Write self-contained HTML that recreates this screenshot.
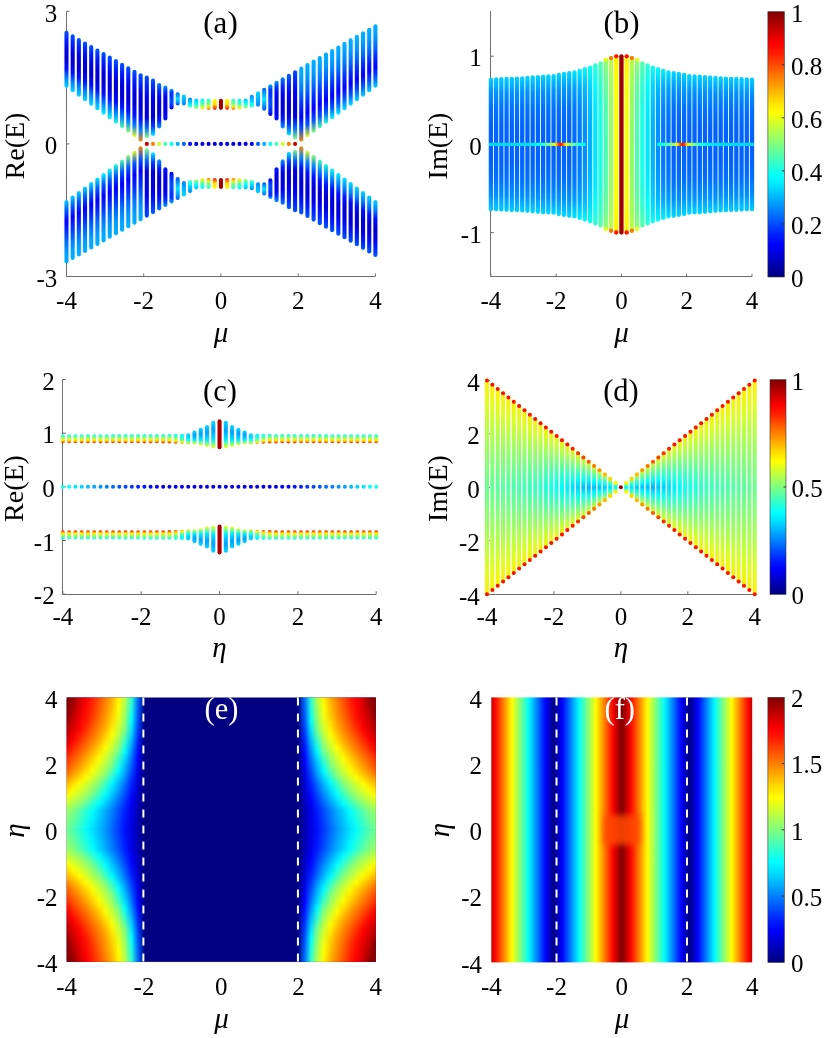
<!DOCTYPE html>
<html><head><meta charset="utf-8"><title>Figure</title><style>html,body{margin:0;padding:0;background:#fff;}svg{display:block;}</style></head><body>
<svg width="825" height="1038" viewBox="0 0 825 1038" font-family="Liberation Serif, serif" fill="#000"><defs><linearGradient id="g1" x2="0" y2="1"><stop offset="0.00" stop-color="#0057ff"/><stop offset="0.17" stop-color="#001bff"/><stop offset="0.33" stop-color="#0000e0"/><stop offset="0.50" stop-color="#0000d4"/><stop offset="0.67" stop-color="#0011ff"/><stop offset="0.83" stop-color="#0085ff"/><stop offset="1.00" stop-color="#00d5ff"/></linearGradient><linearGradient id="g2" x2="0" y2="1"><stop offset="0.00" stop-color="#00d5ff"/><stop offset="0.17" stop-color="#0053ff"/><stop offset="0.33" stop-color="#0001ff"/><stop offset="0.50" stop-color="#0030ff"/><stop offset="0.67" stop-color="#0072ff"/><stop offset="0.83" stop-color="#009eff"/><stop offset="1.00" stop-color="#00b2ff"/></linearGradient><linearGradient id="g3" x2="0" y2="1"><stop offset="0.00" stop-color="#0057ff"/><stop offset="0.17" stop-color="#001bff"/><stop offset="0.33" stop-color="#0000e0"/><stop offset="0.50" stop-color="#0000d4"/><stop offset="0.67" stop-color="#0011ff"/><stop offset="0.83" stop-color="#0085ff"/><stop offset="1.00" stop-color="#00d6ff"/></linearGradient><linearGradient id="g4" x2="0" y2="1"><stop offset="0.00" stop-color="#00d6ff"/><stop offset="0.17" stop-color="#0053ff"/><stop offset="0.33" stop-color="#0001ff"/><stop offset="0.50" stop-color="#0030ff"/><stop offset="0.67" stop-color="#0072ff"/><stop offset="0.83" stop-color="#009eff"/><stop offset="1.00" stop-color="#00b2ff"/></linearGradient><linearGradient id="g5" x2="0" y2="1"><stop offset="0.00" stop-color="#0057ff"/><stop offset="0.17" stop-color="#001bff"/><stop offset="0.33" stop-color="#0000e0"/><stop offset="0.50" stop-color="#0000d4"/><stop offset="0.67" stop-color="#0011ff"/><stop offset="0.83" stop-color="#0085ff"/><stop offset="1.00" stop-color="#00d9ff"/></linearGradient><linearGradient id="g6" x2="0" y2="1"><stop offset="0.00" stop-color="#00d9ff"/><stop offset="0.17" stop-color="#0053ff"/><stop offset="0.33" stop-color="#0001ff"/><stop offset="0.50" stop-color="#0030ff"/><stop offset="0.67" stop-color="#0072ff"/><stop offset="0.83" stop-color="#009eff"/><stop offset="1.00" stop-color="#00b2ff"/></linearGradient><linearGradient id="g7" x2="0" y2="1"><stop offset="0.00" stop-color="#0057ff"/><stop offset="0.17" stop-color="#001bff"/><stop offset="0.33" stop-color="#0000e0"/><stop offset="0.50" stop-color="#0000d4"/><stop offset="0.67" stop-color="#0011ff"/><stop offset="0.83" stop-color="#0085ff"/><stop offset="1.00" stop-color="#00ddff"/></linearGradient><linearGradient id="g8" x2="0" y2="1"><stop offset="0.00" stop-color="#00ddff"/><stop offset="0.17" stop-color="#0053ff"/><stop offset="0.33" stop-color="#0001ff"/><stop offset="0.50" stop-color="#0030ff"/><stop offset="0.67" stop-color="#0072ff"/><stop offset="0.83" stop-color="#009eff"/><stop offset="1.00" stop-color="#00b2ff"/></linearGradient><linearGradient id="g9" x2="0" y2="1"><stop offset="0.00" stop-color="#0057ff"/><stop offset="0.17" stop-color="#001bff"/><stop offset="0.33" stop-color="#0000e0"/><stop offset="0.50" stop-color="#0000d4"/><stop offset="0.67" stop-color="#0011ff"/><stop offset="0.83" stop-color="#0085ff"/><stop offset="1.00" stop-color="#00e2ff"/></linearGradient><linearGradient id="g10" x2="0" y2="1"><stop offset="0.00" stop-color="#00e2ff"/><stop offset="0.17" stop-color="#0053ff"/><stop offset="0.33" stop-color="#0001ff"/><stop offset="0.50" stop-color="#0030ff"/><stop offset="0.67" stop-color="#0072ff"/><stop offset="0.83" stop-color="#009eff"/><stop offset="1.00" stop-color="#00b2ff"/></linearGradient><linearGradient id="g11" x2="0" y2="1"><stop offset="0.00" stop-color="#0057ff"/><stop offset="0.17" stop-color="#001bff"/><stop offset="0.33" stop-color="#0000e0"/><stop offset="0.50" stop-color="#0000d4"/><stop offset="0.67" stop-color="#0011ff"/><stop offset="0.83" stop-color="#0085ff"/><stop offset="1.00" stop-color="#00eaff"/></linearGradient><linearGradient id="g12" x2="0" y2="1"><stop offset="0.00" stop-color="#00eaff"/><stop offset="0.17" stop-color="#0053ff"/><stop offset="0.33" stop-color="#0001ff"/><stop offset="0.50" stop-color="#0030ff"/><stop offset="0.67" stop-color="#0072ff"/><stop offset="0.83" stop-color="#009eff"/><stop offset="1.00" stop-color="#00b2ff"/></linearGradient><linearGradient id="g13" x2="0" y2="1"><stop offset="0.00" stop-color="#0057ff"/><stop offset="0.17" stop-color="#001bff"/><stop offset="0.33" stop-color="#0000e0"/><stop offset="0.50" stop-color="#0000d4"/><stop offset="0.67" stop-color="#0011ff"/><stop offset="0.83" stop-color="#0085ff"/><stop offset="1.00" stop-color="#00f7ff"/></linearGradient><linearGradient id="g14" x2="0" y2="1"><stop offset="0.00" stop-color="#00f7ff"/><stop offset="0.17" stop-color="#0053ff"/><stop offset="0.33" stop-color="#0001ff"/><stop offset="0.50" stop-color="#0030ff"/><stop offset="0.67" stop-color="#0072ff"/><stop offset="0.83" stop-color="#009eff"/><stop offset="1.00" stop-color="#00b2ff"/></linearGradient><linearGradient id="g15" x2="0" y2="1"><stop offset="0.00" stop-color="#0057ff"/><stop offset="0.17" stop-color="#001bff"/><stop offset="0.33" stop-color="#0000e0"/><stop offset="0.50" stop-color="#0000d4"/><stop offset="0.67" stop-color="#0011ff"/><stop offset="0.83" stop-color="#0085ff"/><stop offset="1.00" stop-color="#0bfff4"/></linearGradient><linearGradient id="g16" x2="0" y2="1"><stop offset="0.00" stop-color="#0bfff4"/><stop offset="0.17" stop-color="#0053ff"/><stop offset="0.33" stop-color="#0001ff"/><stop offset="0.50" stop-color="#0030ff"/><stop offset="0.67" stop-color="#0072ff"/><stop offset="0.83" stop-color="#009eff"/><stop offset="1.00" stop-color="#00b2ff"/></linearGradient><linearGradient id="g17" x2="0" y2="1"><stop offset="0.00" stop-color="#0057ff"/><stop offset="0.17" stop-color="#001bff"/><stop offset="0.33" stop-color="#0000e0"/><stop offset="0.50" stop-color="#0000d4"/><stop offset="0.67" stop-color="#0011ff"/><stop offset="0.83" stop-color="#0085ff"/><stop offset="1.00" stop-color="#26ffd9"/></linearGradient><linearGradient id="g18" x2="0" y2="1"><stop offset="0.00" stop-color="#26ffd9"/><stop offset="0.17" stop-color="#0053ff"/><stop offset="0.33" stop-color="#0001ff"/><stop offset="0.50" stop-color="#0030ff"/><stop offset="0.67" stop-color="#0072ff"/><stop offset="0.83" stop-color="#009eff"/><stop offset="1.00" stop-color="#00b2ff"/></linearGradient><linearGradient id="g19" x2="0" y2="1"><stop offset="0.00" stop-color="#0057ff"/><stop offset="0.17" stop-color="#001bff"/><stop offset="0.33" stop-color="#0000e0"/><stop offset="0.50" stop-color="#0000d4"/><stop offset="0.67" stop-color="#0011ff"/><stop offset="0.83" stop-color="#0085ff"/><stop offset="1.00" stop-color="#50ffaf"/></linearGradient><linearGradient id="g20" x2="0" y2="1"><stop offset="0.00" stop-color="#50ffaf"/><stop offset="0.17" stop-color="#0053ff"/><stop offset="0.33" stop-color="#0001ff"/><stop offset="0.50" stop-color="#0030ff"/><stop offset="0.67" stop-color="#0072ff"/><stop offset="0.83" stop-color="#009eff"/><stop offset="1.00" stop-color="#00b2ff"/></linearGradient><linearGradient id="g21" x2="0" y2="1"><stop offset="0.00" stop-color="#0057ff"/><stop offset="0.17" stop-color="#001bff"/><stop offset="0.33" stop-color="#0000e0"/><stop offset="0.50" stop-color="#0000d4"/><stop offset="0.67" stop-color="#0011ff"/><stop offset="0.83" stop-color="#0085ff"/><stop offset="1.00" stop-color="#8eff71"/></linearGradient><linearGradient id="g22" x2="0" y2="1"><stop offset="0.00" stop-color="#8eff71"/><stop offset="0.17" stop-color="#0053ff"/><stop offset="0.33" stop-color="#0001ff"/><stop offset="0.50" stop-color="#0030ff"/><stop offset="0.67" stop-color="#0072ff"/><stop offset="0.83" stop-color="#009eff"/><stop offset="1.00" stop-color="#00b2ff"/></linearGradient><linearGradient id="g23" x2="0" y2="1"><stop offset="0.00" stop-color="#0057ff"/><stop offset="0.17" stop-color="#001bff"/><stop offset="0.33" stop-color="#0000e0"/><stop offset="0.50" stop-color="#0000d4"/><stop offset="0.67" stop-color="#0011ff"/><stop offset="0.83" stop-color="#0085ff"/><stop offset="1.00" stop-color="#eaff15"/></linearGradient><linearGradient id="g24" x2="0" y2="1"><stop offset="0.00" stop-color="#eaff15"/><stop offset="0.17" stop-color="#0053ff"/><stop offset="0.33" stop-color="#0001ff"/><stop offset="0.50" stop-color="#0030ff"/><stop offset="0.67" stop-color="#0072ff"/><stop offset="0.83" stop-color="#009eff"/><stop offset="1.00" stop-color="#00b2ff"/></linearGradient><linearGradient id="g25" x2="0" y2="1"><stop offset="0.00" stop-color="#0057ff"/><stop offset="0.17" stop-color="#001bff"/><stop offset="0.33" stop-color="#0000e0"/><stop offset="0.50" stop-color="#0000d4"/><stop offset="0.67" stop-color="#0011ff"/><stop offset="0.83" stop-color="#0085ff"/><stop offset="1.00" stop-color="#ff8a00"/></linearGradient><linearGradient id="g26" x2="0" y2="1"><stop offset="0.00" stop-color="#ff8a00"/><stop offset="0.17" stop-color="#0053ff"/><stop offset="0.33" stop-color="#0001ff"/><stop offset="0.50" stop-color="#0030ff"/><stop offset="0.67" stop-color="#0072ff"/><stop offset="0.83" stop-color="#009eff"/><stop offset="1.00" stop-color="#00b2ff"/></linearGradient><linearGradient id="g27" x2="0" y2="1"><stop offset="0.00" stop-color="#004dff"/><stop offset="0.17" stop-color="#0022ff"/><stop offset="0.33" stop-color="#0000f8"/><stop offset="0.50" stop-color="#0000db"/><stop offset="0.67" stop-color="#0000db"/><stop offset="0.83" stop-color="#0068ff"/><stop offset="1.00" stop-color="#80ff80"/></linearGradient><linearGradient id="g28" x2="0" y2="1"><stop offset="0.00" stop-color="#80ff80"/><stop offset="0.17" stop-color="#0068ff"/><stop offset="0.33" stop-color="#0000db"/><stop offset="0.50" stop-color="#0000db"/><stop offset="0.67" stop-color="#0000f8"/><stop offset="0.83" stop-color="#0022ff"/><stop offset="1.00" stop-color="#004dff"/></linearGradient><linearGradient id="g29" x2="0" y2="1"><stop offset="0.00" stop-color="#0061ff"/><stop offset="0.17" stop-color="#0025ff"/><stop offset="0.33" stop-color="#0000f8"/><stop offset="0.50" stop-color="#0000db"/><stop offset="0.67" stop-color="#0000db"/><stop offset="0.83" stop-color="#0038ff"/><stop offset="1.00" stop-color="#00f0ff"/></linearGradient><linearGradient id="g30" x2="0" y2="1"><stop offset="0.00" stop-color="#00f0ff"/><stop offset="0.17" stop-color="#0038ff"/><stop offset="0.33" stop-color="#0000db"/><stop offset="0.50" stop-color="#0000db"/><stop offset="0.67" stop-color="#0000f8"/><stop offset="0.83" stop-color="#0025ff"/><stop offset="1.00" stop-color="#0061ff"/></linearGradient><linearGradient id="g31" x2="0" y2="1"><stop offset="0.00" stop-color="#0080ff"/><stop offset="0.17" stop-color="#002bff"/><stop offset="0.33" stop-color="#0000f8"/><stop offset="0.50" stop-color="#0000db"/><stop offset="0.67" stop-color="#0000db"/><stop offset="0.83" stop-color="#001dff"/><stop offset="1.00" stop-color="#009eff"/></linearGradient><linearGradient id="g32" x2="0" y2="1"><stop offset="0.00" stop-color="#009eff"/><stop offset="0.17" stop-color="#001dff"/><stop offset="0.33" stop-color="#0000db"/><stop offset="0.50" stop-color="#0000db"/><stop offset="0.67" stop-color="#0000f8"/><stop offset="0.83" stop-color="#002bff"/><stop offset="1.00" stop-color="#0080ff"/></linearGradient><linearGradient id="g33" x2="0" y2="1"><stop offset="0.00" stop-color="#009eff"/><stop offset="0.17" stop-color="#0030ff"/><stop offset="0.33" stop-color="#0000fd"/><stop offset="0.50" stop-color="#0000e6"/><stop offset="0.67" stop-color="#0000e6"/><stop offset="0.83" stop-color="#0000f6"/><stop offset="1.00" stop-color="#001aff"/></linearGradient><linearGradient id="g34" x2="0" y2="1"><stop offset="0.00" stop-color="#001aff"/><stop offset="0.17" stop-color="#0000f6"/><stop offset="0.33" stop-color="#0000e6"/><stop offset="0.50" stop-color="#0000e6"/><stop offset="0.67" stop-color="#0000fd"/><stop offset="0.83" stop-color="#0030ff"/><stop offset="1.00" stop-color="#009eff"/></linearGradient><linearGradient id="g35" x2="0" y2="1"><stop offset="0.00" stop-color="#00b2ff"/><stop offset="0.17" stop-color="#0033ff"/><stop offset="0.33" stop-color="#0035ff"/><stop offset="0.50" stop-color="#004dff"/><stop offset="0.67" stop-color="#004dff"/><stop offset="0.83" stop-color="#002bff"/><stop offset="1.00" stop-color="#0000e6"/></linearGradient><linearGradient id="g36" x2="0" y2="1"><stop offset="0.00" stop-color="#0000e6"/><stop offset="0.17" stop-color="#002bff"/><stop offset="0.33" stop-color="#004dff"/><stop offset="0.50" stop-color="#004dff"/><stop offset="0.67" stop-color="#0035ff"/><stop offset="0.83" stop-color="#0033ff"/><stop offset="1.00" stop-color="#00b2ff"/></linearGradient><linearGradient id="g37" x2="0" y2="1"><stop offset="0.00" stop-color="#0061ff"/><stop offset="0.17" stop-color="#008dff"/><stop offset="0.33" stop-color="#00b9ff"/><stop offset="0.50" stop-color="#00e5ff"/><stop offset="0.67" stop-color="#00b2ff"/><stop offset="0.83" stop-color="#0080ff"/><stop offset="1.00" stop-color="#004dff"/></linearGradient><linearGradient id="g38" x2="0" y2="1"><stop offset="0.00" stop-color="#004dff"/><stop offset="0.17" stop-color="#0080ff"/><stop offset="0.33" stop-color="#00b2ff"/><stop offset="0.50" stop-color="#00e5ff"/><stop offset="0.67" stop-color="#00b9ff"/><stop offset="0.83" stop-color="#008dff"/><stop offset="1.00" stop-color="#0061ff"/></linearGradient><linearGradient id="g39" x2="0" y2="1"><stop offset="0.00" stop-color="#00dbff"/><stop offset="0.17" stop-color="#00ceff"/><stop offset="0.33" stop-color="#00c0ff"/><stop offset="0.50" stop-color="#00b2ff"/><stop offset="0.67" stop-color="#00a2ff"/><stop offset="0.83" stop-color="#0090ff"/><stop offset="1.00" stop-color="#0080ff"/></linearGradient><linearGradient id="g40" x2="0" y2="1"><stop offset="0.00" stop-color="#0080ff"/><stop offset="0.17" stop-color="#0090ff"/><stop offset="0.33" stop-color="#00a2ff"/><stop offset="0.50" stop-color="#00b2ff"/><stop offset="0.67" stop-color="#00c0ff"/><stop offset="0.83" stop-color="#00ceff"/><stop offset="1.00" stop-color="#00dbff"/></linearGradient><linearGradient id="g41" x2="0" y2="1"><stop offset="0.00" stop-color="#008aff"/><stop offset="0.17" stop-color="#00a2ff"/><stop offset="0.33" stop-color="#00b9ff"/><stop offset="0.50" stop-color="#00d1ff"/><stop offset="0.67" stop-color="#00faff"/><stop offset="0.83" stop-color="#24ffdb"/><stop offset="1.00" stop-color="#4dffb2"/></linearGradient><linearGradient id="g42" x2="0" y2="1"><stop offset="0.00" stop-color="#4dffb2"/><stop offset="0.17" stop-color="#24ffdb"/><stop offset="0.33" stop-color="#00faff"/><stop offset="0.50" stop-color="#00d1ff"/><stop offset="0.67" stop-color="#00b9ff"/><stop offset="0.83" stop-color="#00a2ff"/><stop offset="1.00" stop-color="#008aff"/></linearGradient><linearGradient id="g43" x2="0" y2="1"><stop offset="0.00" stop-color="#00bdff"/><stop offset="0.17" stop-color="#00d4ff"/><stop offset="0.33" stop-color="#00ecff"/><stop offset="0.50" stop-color="#05fffa"/><stop offset="0.67" stop-color="#3fffc0"/><stop offset="0.83" stop-color="#79ff86"/><stop offset="1.00" stop-color="#b2ff4d"/></linearGradient><linearGradient id="g44" x2="0" y2="1"><stop offset="0.00" stop-color="#b2ff4d"/><stop offset="0.17" stop-color="#79ff86"/><stop offset="0.33" stop-color="#3fffc0"/><stop offset="0.50" stop-color="#05fffa"/><stop offset="0.67" stop-color="#00ecff"/><stop offset="0.83" stop-color="#00d4ff"/><stop offset="1.00" stop-color="#00bdff"/></linearGradient><linearGradient id="g45" x2="0" y2="1"><stop offset="0.00" stop-color="#00f0ff"/><stop offset="0.17" stop-color="#0ffff0"/><stop offset="0.33" stop-color="#2effd1"/><stop offset="0.50" stop-color="#4dffb2"/><stop offset="0.67" stop-color="#94ff6b"/><stop offset="0.83" stop-color="#dbff24"/><stop offset="1.00" stop-color="#ffdb00"/></linearGradient><linearGradient id="g46" x2="0" y2="1"><stop offset="0.00" stop-color="#ffdb00"/><stop offset="0.17" stop-color="#dbff24"/><stop offset="0.33" stop-color="#94ff6b"/><stop offset="0.50" stop-color="#4dffb2"/><stop offset="0.67" stop-color="#2effd1"/><stop offset="0.83" stop-color="#0ffff0"/><stop offset="1.00" stop-color="#00f0ff"/></linearGradient><linearGradient id="g47" x2="0" y2="1"><stop offset="0.00" stop-color="#2effd1"/><stop offset="0.17" stop-color="#49ffb6"/><stop offset="0.33" stop-color="#64ff9b"/><stop offset="0.50" stop-color="#80ff7f"/><stop offset="0.67" stop-color="#dfff20"/><stop offset="0.83" stop-color="#ffc000"/><stop offset="1.00" stop-color="#ff6100"/></linearGradient><linearGradient id="g48" x2="0" y2="1"><stop offset="0.00" stop-color="#ff6100"/><stop offset="0.17" stop-color="#ffc000"/><stop offset="0.33" stop-color="#dfff20"/><stop offset="0.50" stop-color="#80ff7f"/><stop offset="0.67" stop-color="#64ff9b"/><stop offset="0.83" stop-color="#49ffb6"/><stop offset="1.00" stop-color="#2effd1"/></linearGradient><linearGradient id="g49" x2="0" y2="1"><stop offset="0.00" stop-color="#faff05"/><stop offset="0.17" stop-color="#fff700"/><stop offset="0.33" stop-color="#ffe900"/><stop offset="0.50" stop-color="#ffdb00"/><stop offset="0.67" stop-color="#ff9700"/><stop offset="0.83" stop-color="#ff5300"/><stop offset="1.00" stop-color="#ff0f00"/></linearGradient><linearGradient id="g50" x2="0" y2="1"><stop offset="0.00" stop-color="#ff0f00"/><stop offset="0.17" stop-color="#ff5300"/><stop offset="0.33" stop-color="#ff9700"/><stop offset="0.50" stop-color="#ffdb00"/><stop offset="0.67" stop-color="#ffe900"/><stop offset="0.83" stop-color="#fff700"/><stop offset="1.00" stop-color="#faff05"/></linearGradient><linearGradient id="g51" x2="0" y2="1"><stop offset="0.00" stop-color="#faff05"/><stop offset="0.17" stop-color="#fff700"/><stop offset="0.33" stop-color="#ffe900"/><stop offset="0.50" stop-color="#ffdb00"/><stop offset="0.67" stop-color="#ff9700"/><stop offset="0.83" stop-color="#ff5300"/><stop offset="1.00" stop-color="#ff0f00"/></linearGradient><linearGradient id="g52" x2="0" y2="1"><stop offset="0.00" stop-color="#ff0f00"/><stop offset="0.17" stop-color="#ff5300"/><stop offset="0.33" stop-color="#ff9700"/><stop offset="0.50" stop-color="#ffdb00"/><stop offset="0.67" stop-color="#ffe900"/><stop offset="0.83" stop-color="#fff700"/><stop offset="1.00" stop-color="#faff05"/></linearGradient><linearGradient id="g53" x2="0" y2="1"><stop offset="0.00" stop-color="#2effd1"/><stop offset="0.17" stop-color="#49ffb6"/><stop offset="0.33" stop-color="#64ff9b"/><stop offset="0.50" stop-color="#7fff80"/><stop offset="0.67" stop-color="#dfff20"/><stop offset="0.83" stop-color="#ffc000"/><stop offset="1.00" stop-color="#ff6100"/></linearGradient><linearGradient id="g54" x2="0" y2="1"><stop offset="0.00" stop-color="#ff6100"/><stop offset="0.17" stop-color="#ffc000"/><stop offset="0.33" stop-color="#dfff20"/><stop offset="0.50" stop-color="#7fff80"/><stop offset="0.67" stop-color="#64ff9b"/><stop offset="0.83" stop-color="#49ffb6"/><stop offset="1.00" stop-color="#2effd1"/></linearGradient><linearGradient id="g55" x2="0" y2="1"><stop offset="0.00" stop-color="#00f0ff"/><stop offset="0.17" stop-color="#0ffff0"/><stop offset="0.33" stop-color="#2effd1"/><stop offset="0.50" stop-color="#4cffb3"/><stop offset="0.67" stop-color="#94ff6b"/><stop offset="0.83" stop-color="#dbff24"/><stop offset="1.00" stop-color="#ffdb00"/></linearGradient><linearGradient id="g56" x2="0" y2="1"><stop offset="0.00" stop-color="#ffdb00"/><stop offset="0.17" stop-color="#dbff24"/><stop offset="0.33" stop-color="#94ff6b"/><stop offset="0.50" stop-color="#4cffb3"/><stop offset="0.67" stop-color="#2effd1"/><stop offset="0.83" stop-color="#0ffff0"/><stop offset="1.00" stop-color="#00f0ff"/></linearGradient><linearGradient id="g57" x2="0" y2="1"><stop offset="0.00" stop-color="#00bdff"/><stop offset="0.17" stop-color="#00d5ff"/><stop offset="0.33" stop-color="#00ecff"/><stop offset="0.50" stop-color="#05fffa"/><stop offset="0.67" stop-color="#3fffc0"/><stop offset="0.83" stop-color="#79ff86"/><stop offset="1.00" stop-color="#b3ff4c"/></linearGradient><linearGradient id="g58" x2="0" y2="1"><stop offset="0.00" stop-color="#b3ff4c"/><stop offset="0.17" stop-color="#79ff86"/><stop offset="0.33" stop-color="#3fffc0"/><stop offset="0.50" stop-color="#05fffa"/><stop offset="0.67" stop-color="#00ecff"/><stop offset="0.83" stop-color="#00d5ff"/><stop offset="1.00" stop-color="#00bdff"/></linearGradient><linearGradient id="g59" x2="0" y2="1"><stop offset="0.00" stop-color="#008aff"/><stop offset="0.17" stop-color="#00a2ff"/><stop offset="0.33" stop-color="#00b9ff"/><stop offset="0.50" stop-color="#00d1ff"/><stop offset="0.67" stop-color="#00faff"/><stop offset="0.83" stop-color="#24ffdb"/><stop offset="1.00" stop-color="#4dffb2"/></linearGradient><linearGradient id="g60" x2="0" y2="1"><stop offset="0.00" stop-color="#4dffb2"/><stop offset="0.17" stop-color="#24ffdb"/><stop offset="0.33" stop-color="#00faff"/><stop offset="0.50" stop-color="#00d1ff"/><stop offset="0.67" stop-color="#00b9ff"/><stop offset="0.83" stop-color="#00a2ff"/><stop offset="1.00" stop-color="#008aff"/></linearGradient><linearGradient id="g61" x2="0" y2="1"><stop offset="0.00" stop-color="#00dbff"/><stop offset="0.17" stop-color="#00ceff"/><stop offset="0.33" stop-color="#00c0ff"/><stop offset="0.50" stop-color="#00b2ff"/><stop offset="0.67" stop-color="#00a2ff"/><stop offset="0.83" stop-color="#0090ff"/><stop offset="1.00" stop-color="#0080ff"/></linearGradient><linearGradient id="g62" x2="0" y2="1"><stop offset="0.00" stop-color="#0080ff"/><stop offset="0.17" stop-color="#0090ff"/><stop offset="0.33" stop-color="#00a2ff"/><stop offset="0.50" stop-color="#00b2ff"/><stop offset="0.67" stop-color="#00c0ff"/><stop offset="0.83" stop-color="#00ceff"/><stop offset="1.00" stop-color="#00dbff"/></linearGradient><linearGradient id="g63" x2="0" y2="1"><stop offset="0.00" stop-color="#0061ff"/><stop offset="0.17" stop-color="#008dff"/><stop offset="0.33" stop-color="#00b9ff"/><stop offset="0.50" stop-color="#00e5ff"/><stop offset="0.67" stop-color="#00b2ff"/><stop offset="0.83" stop-color="#0080ff"/><stop offset="1.00" stop-color="#004dff"/></linearGradient><linearGradient id="g64" x2="0" y2="1"><stop offset="0.00" stop-color="#004dff"/><stop offset="0.17" stop-color="#0080ff"/><stop offset="0.33" stop-color="#00b2ff"/><stop offset="0.50" stop-color="#00e5ff"/><stop offset="0.67" stop-color="#00b9ff"/><stop offset="0.83" stop-color="#008dff"/><stop offset="1.00" stop-color="#0061ff"/></linearGradient><linearGradient id="g65" x2="0" y2="1"><stop offset="0.00" stop-color="#00b2ff"/><stop offset="0.17" stop-color="#0033ff"/><stop offset="0.33" stop-color="#0035ff"/><stop offset="0.50" stop-color="#004cff"/><stop offset="0.67" stop-color="#004cff"/><stop offset="0.83" stop-color="#002aff"/><stop offset="1.00" stop-color="#0000e6"/></linearGradient><linearGradient id="g66" x2="0" y2="1"><stop offset="0.00" stop-color="#0000e6"/><stop offset="0.17" stop-color="#002aff"/><stop offset="0.33" stop-color="#004cff"/><stop offset="0.50" stop-color="#004cff"/><stop offset="0.67" stop-color="#0035ff"/><stop offset="0.83" stop-color="#0033ff"/><stop offset="1.00" stop-color="#00b2ff"/></linearGradient><linearGradient id="g67" x2="0" y2="1"><stop offset="0.00" stop-color="#009eff"/><stop offset="0.17" stop-color="#0030ff"/><stop offset="0.33" stop-color="#0000fd"/><stop offset="0.50" stop-color="#0000e5"/><stop offset="0.67" stop-color="#0000e5"/><stop offset="0.83" stop-color="#0000f7"/><stop offset="1.00" stop-color="#001aff"/></linearGradient><linearGradient id="g68" x2="0" y2="1"><stop offset="0.00" stop-color="#001aff"/><stop offset="0.17" stop-color="#0000f7"/><stop offset="0.33" stop-color="#0000e5"/><stop offset="0.50" stop-color="#0000e5"/><stop offset="0.67" stop-color="#0000fd"/><stop offset="0.83" stop-color="#0030ff"/><stop offset="1.00" stop-color="#009eff"/></linearGradient><linearGradient id="g69" x2="0" y2="1"><stop offset="0.00" stop-color="#007fff"/><stop offset="0.17" stop-color="#002aff"/><stop offset="0.33" stop-color="#0000f8"/><stop offset="0.50" stop-color="#0000db"/><stop offset="0.67" stop-color="#0000db"/><stop offset="0.83" stop-color="#001dff"/><stop offset="1.00" stop-color="#009eff"/></linearGradient><linearGradient id="g70" x2="0" y2="1"><stop offset="0.00" stop-color="#009eff"/><stop offset="0.17" stop-color="#001dff"/><stop offset="0.33" stop-color="#0000db"/><stop offset="0.50" stop-color="#0000db"/><stop offset="0.67" stop-color="#0000f8"/><stop offset="0.83" stop-color="#002bff"/><stop offset="1.00" stop-color="#007fff"/></linearGradient><linearGradient id="g71" x2="0" y2="1"><stop offset="0.00" stop-color="#0061ff"/><stop offset="0.17" stop-color="#0025ff"/><stop offset="0.33" stop-color="#0000f8"/><stop offset="0.50" stop-color="#0000db"/><stop offset="0.67" stop-color="#0000db"/><stop offset="0.83" stop-color="#0038ff"/><stop offset="1.00" stop-color="#00f0ff"/></linearGradient><linearGradient id="g72" x2="0" y2="1"><stop offset="0.00" stop-color="#00f0ff"/><stop offset="0.17" stop-color="#0038ff"/><stop offset="0.33" stop-color="#0000db"/><stop offset="0.50" stop-color="#0000db"/><stop offset="0.67" stop-color="#0000f8"/><stop offset="0.83" stop-color="#0025ff"/><stop offset="1.00" stop-color="#0061ff"/></linearGradient><linearGradient id="g73" x2="0" y2="1"><stop offset="0.00" stop-color="#004dff"/><stop offset="0.17" stop-color="#0022ff"/><stop offset="0.33" stop-color="#0000f8"/><stop offset="0.50" stop-color="#0000db"/><stop offset="0.67" stop-color="#0000db"/><stop offset="0.83" stop-color="#0068ff"/><stop offset="1.00" stop-color="#80ff80"/></linearGradient><linearGradient id="g74" x2="0" y2="1"><stop offset="0.00" stop-color="#80ff80"/><stop offset="0.17" stop-color="#0068ff"/><stop offset="0.33" stop-color="#0000db"/><stop offset="0.50" stop-color="#0000db"/><stop offset="0.67" stop-color="#0000f8"/><stop offset="0.83" stop-color="#0022ff"/><stop offset="1.00" stop-color="#004dff"/></linearGradient><linearGradient id="g75" x2="0" y2="1"><stop offset="0.00" stop-color="#00b2ff"/><stop offset="0.17" stop-color="#009eff"/><stop offset="0.33" stop-color="#0072ff"/><stop offset="0.50" stop-color="#0030ff"/><stop offset="0.67" stop-color="#0001ff"/><stop offset="0.83" stop-color="#0053ff"/><stop offset="1.00" stop-color="#ff8a00"/></linearGradient><linearGradient id="g76" x2="0" y2="1"><stop offset="0.00" stop-color="#ff8a00"/><stop offset="0.17" stop-color="#0085ff"/><stop offset="0.33" stop-color="#0011ff"/><stop offset="0.50" stop-color="#0000d4"/><stop offset="0.67" stop-color="#0000e0"/><stop offset="0.83" stop-color="#001bff"/><stop offset="1.00" stop-color="#0057ff"/></linearGradient><linearGradient id="g77" x2="0" y2="1"><stop offset="0.00" stop-color="#00b2ff"/><stop offset="0.17" stop-color="#009eff"/><stop offset="0.33" stop-color="#0072ff"/><stop offset="0.50" stop-color="#0030ff"/><stop offset="0.67" stop-color="#0001ff"/><stop offset="0.83" stop-color="#0053ff"/><stop offset="1.00" stop-color="#eaff15"/></linearGradient><linearGradient id="g78" x2="0" y2="1"><stop offset="0.00" stop-color="#eaff15"/><stop offset="0.17" stop-color="#0085ff"/><stop offset="0.33" stop-color="#0011ff"/><stop offset="0.50" stop-color="#0000d4"/><stop offset="0.67" stop-color="#0000e0"/><stop offset="0.83" stop-color="#001bff"/><stop offset="1.00" stop-color="#0057ff"/></linearGradient><linearGradient id="g79" x2="0" y2="1"><stop offset="0.00" stop-color="#00b2ff"/><stop offset="0.17" stop-color="#009eff"/><stop offset="0.33" stop-color="#0072ff"/><stop offset="0.50" stop-color="#0030ff"/><stop offset="0.67" stop-color="#0001ff"/><stop offset="0.83" stop-color="#0053ff"/><stop offset="1.00" stop-color="#8eff71"/></linearGradient><linearGradient id="g80" x2="0" y2="1"><stop offset="0.00" stop-color="#8eff71"/><stop offset="0.17" stop-color="#0085ff"/><stop offset="0.33" stop-color="#0011ff"/><stop offset="0.50" stop-color="#0000d4"/><stop offset="0.67" stop-color="#0000e0"/><stop offset="0.83" stop-color="#001bff"/><stop offset="1.00" stop-color="#0057ff"/></linearGradient><linearGradient id="g81" x2="0" y2="1"><stop offset="0.00" stop-color="#00b2ff"/><stop offset="0.17" stop-color="#009eff"/><stop offset="0.33" stop-color="#0072ff"/><stop offset="0.50" stop-color="#0030ff"/><stop offset="0.67" stop-color="#0001ff"/><stop offset="0.83" stop-color="#0053ff"/><stop offset="1.00" stop-color="#50ffaf"/></linearGradient><linearGradient id="g82" x2="0" y2="1"><stop offset="0.00" stop-color="#50ffaf"/><stop offset="0.17" stop-color="#0085ff"/><stop offset="0.33" stop-color="#0011ff"/><stop offset="0.50" stop-color="#0000d4"/><stop offset="0.67" stop-color="#0000e0"/><stop offset="0.83" stop-color="#001bff"/><stop offset="1.00" stop-color="#0057ff"/></linearGradient><linearGradient id="g83" x2="0" y2="1"><stop offset="0.00" stop-color="#00b2ff"/><stop offset="0.17" stop-color="#009eff"/><stop offset="0.33" stop-color="#0072ff"/><stop offset="0.50" stop-color="#0030ff"/><stop offset="0.67" stop-color="#0001ff"/><stop offset="0.83" stop-color="#0053ff"/><stop offset="1.00" stop-color="#26ffd9"/></linearGradient><linearGradient id="g84" x2="0" y2="1"><stop offset="0.00" stop-color="#26ffd9"/><stop offset="0.17" stop-color="#0085ff"/><stop offset="0.33" stop-color="#0011ff"/><stop offset="0.50" stop-color="#0000d4"/><stop offset="0.67" stop-color="#0000e0"/><stop offset="0.83" stop-color="#001bff"/><stop offset="1.00" stop-color="#0057ff"/></linearGradient><linearGradient id="g85" x2="0" y2="1"><stop offset="0.00" stop-color="#00b2ff"/><stop offset="0.17" stop-color="#009eff"/><stop offset="0.33" stop-color="#0072ff"/><stop offset="0.50" stop-color="#0030ff"/><stop offset="0.67" stop-color="#0001ff"/><stop offset="0.83" stop-color="#0053ff"/><stop offset="1.00" stop-color="#0bfff4"/></linearGradient><linearGradient id="g86" x2="0" y2="1"><stop offset="0.00" stop-color="#0bfff4"/><stop offset="0.17" stop-color="#0085ff"/><stop offset="0.33" stop-color="#0011ff"/><stop offset="0.50" stop-color="#0000d4"/><stop offset="0.67" stop-color="#0000e0"/><stop offset="0.83" stop-color="#001bff"/><stop offset="1.00" stop-color="#0057ff"/></linearGradient><linearGradient id="g87" x2="0" y2="1"><stop offset="0.00" stop-color="#00b2ff"/><stop offset="0.17" stop-color="#009eff"/><stop offset="0.33" stop-color="#0072ff"/><stop offset="0.50" stop-color="#0030ff"/><stop offset="0.67" stop-color="#0001ff"/><stop offset="0.83" stop-color="#0053ff"/><stop offset="1.00" stop-color="#00f7ff"/></linearGradient><linearGradient id="g88" x2="0" y2="1"><stop offset="0.00" stop-color="#00f7ff"/><stop offset="0.17" stop-color="#0085ff"/><stop offset="0.33" stop-color="#0011ff"/><stop offset="0.50" stop-color="#0000d4"/><stop offset="0.67" stop-color="#0000e0"/><stop offset="0.83" stop-color="#001bff"/><stop offset="1.00" stop-color="#0057ff"/></linearGradient><linearGradient id="g89" x2="0" y2="1"><stop offset="0.00" stop-color="#00b2ff"/><stop offset="0.17" stop-color="#009eff"/><stop offset="0.33" stop-color="#0072ff"/><stop offset="0.50" stop-color="#0030ff"/><stop offset="0.67" stop-color="#0001ff"/><stop offset="0.83" stop-color="#0053ff"/><stop offset="1.00" stop-color="#00eaff"/></linearGradient><linearGradient id="g90" x2="0" y2="1"><stop offset="0.00" stop-color="#00eaff"/><stop offset="0.17" stop-color="#0085ff"/><stop offset="0.33" stop-color="#0011ff"/><stop offset="0.50" stop-color="#0000d4"/><stop offset="0.67" stop-color="#0000e0"/><stop offset="0.83" stop-color="#001bff"/><stop offset="1.00" stop-color="#0057ff"/></linearGradient><linearGradient id="g91" x2="0" y2="1"><stop offset="0.00" stop-color="#00b2ff"/><stop offset="0.17" stop-color="#009eff"/><stop offset="0.33" stop-color="#0072ff"/><stop offset="0.50" stop-color="#0030ff"/><stop offset="0.67" stop-color="#0001ff"/><stop offset="0.83" stop-color="#0053ff"/><stop offset="1.00" stop-color="#00e2ff"/></linearGradient><linearGradient id="g92" x2="0" y2="1"><stop offset="0.00" stop-color="#00e2ff"/><stop offset="0.17" stop-color="#0085ff"/><stop offset="0.33" stop-color="#0011ff"/><stop offset="0.50" stop-color="#0000d4"/><stop offset="0.67" stop-color="#0000e0"/><stop offset="0.83" stop-color="#001bff"/><stop offset="1.00" stop-color="#0057ff"/></linearGradient><linearGradient id="g93" x2="0" y2="1"><stop offset="0.00" stop-color="#00b2ff"/><stop offset="0.17" stop-color="#009eff"/><stop offset="0.33" stop-color="#0072ff"/><stop offset="0.50" stop-color="#0030ff"/><stop offset="0.67" stop-color="#0001ff"/><stop offset="0.83" stop-color="#0053ff"/><stop offset="1.00" stop-color="#00ddff"/></linearGradient><linearGradient id="g94" x2="0" y2="1"><stop offset="0.00" stop-color="#00ddff"/><stop offset="0.17" stop-color="#0085ff"/><stop offset="0.33" stop-color="#0011ff"/><stop offset="0.50" stop-color="#0000d4"/><stop offset="0.67" stop-color="#0000e0"/><stop offset="0.83" stop-color="#001bff"/><stop offset="1.00" stop-color="#0057ff"/></linearGradient><linearGradient id="g95" x2="0" y2="1"><stop offset="0.00" stop-color="#00b2ff"/><stop offset="0.17" stop-color="#009eff"/><stop offset="0.33" stop-color="#0072ff"/><stop offset="0.50" stop-color="#0030ff"/><stop offset="0.67" stop-color="#0001ff"/><stop offset="0.83" stop-color="#0053ff"/><stop offset="1.00" stop-color="#00d9ff"/></linearGradient><linearGradient id="g96" x2="0" y2="1"><stop offset="0.00" stop-color="#00d9ff"/><stop offset="0.17" stop-color="#0085ff"/><stop offset="0.33" stop-color="#0011ff"/><stop offset="0.50" stop-color="#0000d4"/><stop offset="0.67" stop-color="#0000e0"/><stop offset="0.83" stop-color="#001bff"/><stop offset="1.00" stop-color="#0057ff"/></linearGradient><linearGradient id="g97" x2="0" y2="1"><stop offset="0.00" stop-color="#00b2ff"/><stop offset="0.17" stop-color="#009eff"/><stop offset="0.33" stop-color="#0072ff"/><stop offset="0.50" stop-color="#0030ff"/><stop offset="0.67" stop-color="#0001ff"/><stop offset="0.83" stop-color="#0053ff"/><stop offset="1.00" stop-color="#00d6ff"/></linearGradient><linearGradient id="g98" x2="0" y2="1"><stop offset="0.00" stop-color="#00d6ff"/><stop offset="0.17" stop-color="#0085ff"/><stop offset="0.33" stop-color="#0011ff"/><stop offset="0.50" stop-color="#0000d4"/><stop offset="0.67" stop-color="#0000e0"/><stop offset="0.83" stop-color="#001bff"/><stop offset="1.00" stop-color="#0057ff"/></linearGradient><linearGradient id="g99" x2="0" y2="1"><stop offset="0.00" stop-color="#00b2ff"/><stop offset="0.17" stop-color="#009eff"/><stop offset="0.33" stop-color="#0072ff"/><stop offset="0.50" stop-color="#0030ff"/><stop offset="0.67" stop-color="#0001ff"/><stop offset="0.83" stop-color="#0053ff"/><stop offset="1.00" stop-color="#00d5ff"/></linearGradient><linearGradient id="g100" x2="0" y2="1"><stop offset="0.00" stop-color="#00d5ff"/><stop offset="0.17" stop-color="#0085ff"/><stop offset="0.33" stop-color="#0011ff"/><stop offset="0.50" stop-color="#0000d4"/><stop offset="0.67" stop-color="#0000e0"/><stop offset="0.83" stop-color="#001bff"/><stop offset="1.00" stop-color="#0057ff"/></linearGradient><linearGradient id="g101" x2="0" y2="1"><stop offset="0.00" stop-color="#00d1ff"/><stop offset="0.12" stop-color="#0090ff"/><stop offset="0.25" stop-color="#006fff"/><stop offset="0.38" stop-color="#0063ff"/><stop offset="0.50" stop-color="#0061ff"/><stop offset="0.62" stop-color="#0063ff"/><stop offset="0.75" stop-color="#006fff"/><stop offset="0.88" stop-color="#0090ff"/><stop offset="1.00" stop-color="#00d1ff"/></linearGradient><linearGradient id="g102" x2="0" y2="1"><stop offset="0.00" stop-color="#00d2ff"/><stop offset="0.12" stop-color="#0091ff"/><stop offset="0.25" stop-color="#006fff"/><stop offset="0.38" stop-color="#0063ff"/><stop offset="0.50" stop-color="#0061ff"/><stop offset="0.62" stop-color="#0063ff"/><stop offset="0.75" stop-color="#006fff"/><stop offset="0.88" stop-color="#0091ff"/><stop offset="1.00" stop-color="#00d2ff"/></linearGradient><linearGradient id="g103" x2="0" y2="1"><stop offset="0.00" stop-color="#00d2ff"/><stop offset="0.12" stop-color="#0091ff"/><stop offset="0.25" stop-color="#006fff"/><stop offset="0.38" stop-color="#0063ff"/><stop offset="0.50" stop-color="#0061ff"/><stop offset="0.62" stop-color="#0063ff"/><stop offset="0.75" stop-color="#006fff"/><stop offset="0.88" stop-color="#0091ff"/><stop offset="1.00" stop-color="#00d2ff"/></linearGradient><linearGradient id="g104" x2="0" y2="1"><stop offset="0.00" stop-color="#00d3ff"/><stop offset="0.12" stop-color="#0091ff"/><stop offset="0.25" stop-color="#006fff"/><stop offset="0.38" stop-color="#0063ff"/><stop offset="0.50" stop-color="#0061ff"/><stop offset="0.62" stop-color="#0063ff"/><stop offset="0.75" stop-color="#006fff"/><stop offset="0.88" stop-color="#0091ff"/><stop offset="1.00" stop-color="#00d3ff"/></linearGradient><linearGradient id="g105" x2="0" y2="1"><stop offset="0.00" stop-color="#00d4ff"/><stop offset="0.12" stop-color="#0091ff"/><stop offset="0.25" stop-color="#006fff"/><stop offset="0.38" stop-color="#0063ff"/><stop offset="0.50" stop-color="#0061ff"/><stop offset="0.62" stop-color="#0063ff"/><stop offset="0.75" stop-color="#006fff"/><stop offset="0.88" stop-color="#0091ff"/><stop offset="1.00" stop-color="#00d4ff"/></linearGradient><linearGradient id="g106" x2="0" y2="1"><stop offset="0.00" stop-color="#00d5ff"/><stop offset="0.12" stop-color="#0092ff"/><stop offset="0.25" stop-color="#006fff"/><stop offset="0.38" stop-color="#0063ff"/><stop offset="0.50" stop-color="#0061ff"/><stop offset="0.62" stop-color="#0063ff"/><stop offset="0.75" stop-color="#006fff"/><stop offset="0.88" stop-color="#0092ff"/><stop offset="1.00" stop-color="#00d5ff"/></linearGradient><linearGradient id="g107" x2="0" y2="1"><stop offset="0.00" stop-color="#00d5ff"/><stop offset="0.12" stop-color="#0092ff"/><stop offset="0.25" stop-color="#006fff"/><stop offset="0.38" stop-color="#0063ff"/><stop offset="0.50" stop-color="#0061ff"/><stop offset="0.62" stop-color="#0063ff"/><stop offset="0.75" stop-color="#006fff"/><stop offset="0.88" stop-color="#0092ff"/><stop offset="1.00" stop-color="#00d5ff"/></linearGradient><linearGradient id="g108" x2="0" y2="1"><stop offset="0.00" stop-color="#00d6ff"/><stop offset="0.12" stop-color="#0092ff"/><stop offset="0.25" stop-color="#0070ff"/><stop offset="0.38" stop-color="#0063ff"/><stop offset="0.50" stop-color="#0061ff"/><stop offset="0.62" stop-color="#0063ff"/><stop offset="0.75" stop-color="#0070ff"/><stop offset="0.88" stop-color="#0092ff"/><stop offset="1.00" stop-color="#00d6ff"/></linearGradient><linearGradient id="g109" x2="0" y2="1"><stop offset="0.00" stop-color="#00d7ff"/><stop offset="0.12" stop-color="#0093ff"/><stop offset="0.25" stop-color="#0070ff"/><stop offset="0.38" stop-color="#0063ff"/><stop offset="0.50" stop-color="#0061ff"/><stop offset="0.62" stop-color="#0063ff"/><stop offset="0.75" stop-color="#0070ff"/><stop offset="0.88" stop-color="#0093ff"/><stop offset="1.00" stop-color="#00d7ff"/></linearGradient><linearGradient id="g110" x2="0" y2="1"><stop offset="0.00" stop-color="#00d7ff"/><stop offset="0.12" stop-color="#0093ff"/><stop offset="0.25" stop-color="#0070ff"/><stop offset="0.38" stop-color="#0063ff"/><stop offset="0.50" stop-color="#0061ff"/><stop offset="0.62" stop-color="#0063ff"/><stop offset="0.75" stop-color="#0070ff"/><stop offset="0.88" stop-color="#0093ff"/><stop offset="1.00" stop-color="#00d7ff"/></linearGradient><linearGradient id="g111" x2="0" y2="1"><stop offset="0.00" stop-color="#00d8ff"/><stop offset="0.12" stop-color="#0093ff"/><stop offset="0.25" stop-color="#0070ff"/><stop offset="0.38" stop-color="#0063ff"/><stop offset="0.50" stop-color="#0061ff"/><stop offset="0.62" stop-color="#0063ff"/><stop offset="0.75" stop-color="#0070ff"/><stop offset="0.88" stop-color="#0093ff"/><stop offset="1.00" stop-color="#00d8ff"/></linearGradient><linearGradient id="g112" x2="0" y2="1"><stop offset="0.00" stop-color="#00d9ff"/><stop offset="0.12" stop-color="#0093ff"/><stop offset="0.25" stop-color="#0070ff"/><stop offset="0.38" stop-color="#0063ff"/><stop offset="0.50" stop-color="#0061ff"/><stop offset="0.62" stop-color="#0063ff"/><stop offset="0.75" stop-color="#0070ff"/><stop offset="0.88" stop-color="#0093ff"/><stop offset="1.00" stop-color="#00d9ff"/></linearGradient><linearGradient id="g113" x2="0" y2="1"><stop offset="0.00" stop-color="#00d9ff"/><stop offset="0.12" stop-color="#0094ff"/><stop offset="0.25" stop-color="#0070ff"/><stop offset="0.38" stop-color="#0063ff"/><stop offset="0.50" stop-color="#0061ff"/><stop offset="0.62" stop-color="#0063ff"/><stop offset="0.75" stop-color="#0070ff"/><stop offset="0.88" stop-color="#0094ff"/><stop offset="1.00" stop-color="#00d9ff"/></linearGradient><linearGradient id="g114" x2="0" y2="1"><stop offset="0.00" stop-color="#00daff"/><stop offset="0.12" stop-color="#0094ff"/><stop offset="0.25" stop-color="#0070ff"/><stop offset="0.38" stop-color="#0063ff"/><stop offset="0.50" stop-color="#0061ff"/><stop offset="0.62" stop-color="#0063ff"/><stop offset="0.75" stop-color="#0070ff"/><stop offset="0.88" stop-color="#0094ff"/><stop offset="1.00" stop-color="#00daff"/></linearGradient><linearGradient id="g115" x2="0" y2="1"><stop offset="0.00" stop-color="#00dbff"/><stop offset="0.12" stop-color="#0094ff"/><stop offset="0.25" stop-color="#0070ff"/><stop offset="0.38" stop-color="#0063ff"/><stop offset="0.50" stop-color="#0061ff"/><stop offset="0.62" stop-color="#0063ff"/><stop offset="0.75" stop-color="#0070ff"/><stop offset="0.88" stop-color="#0094ff"/><stop offset="1.00" stop-color="#00dbff"/></linearGradient><linearGradient id="g116" x2="0" y2="1"><stop offset="0.00" stop-color="#00dbff"/><stop offset="0.12" stop-color="#0095ff"/><stop offset="0.25" stop-color="#0070ff"/><stop offset="0.38" stop-color="#0063ff"/><stop offset="0.50" stop-color="#0061ff"/><stop offset="0.62" stop-color="#0063ff"/><stop offset="0.75" stop-color="#0070ff"/><stop offset="0.88" stop-color="#0095ff"/><stop offset="1.00" stop-color="#00dbff"/></linearGradient><linearGradient id="g117" x2="0" y2="1"><stop offset="0.00" stop-color="#00e8ff"/><stop offset="0.12" stop-color="#00a1ff"/><stop offset="0.25" stop-color="#007cff"/><stop offset="0.38" stop-color="#006fff"/><stop offset="0.50" stop-color="#006dff"/><stop offset="0.62" stop-color="#006fff"/><stop offset="0.75" stop-color="#007cff"/><stop offset="0.88" stop-color="#00a1ff"/><stop offset="1.00" stop-color="#00e8ff"/></linearGradient><linearGradient id="g118" x2="0" y2="1"><stop offset="0.00" stop-color="#00f4ff"/><stop offset="0.12" stop-color="#00adff"/><stop offset="0.25" stop-color="#0089ff"/><stop offset="0.38" stop-color="#007bff"/><stop offset="0.50" stop-color="#0079ff"/><stop offset="0.62" stop-color="#007bff"/><stop offset="0.75" stop-color="#0089ff"/><stop offset="0.88" stop-color="#00adff"/><stop offset="1.00" stop-color="#00f4ff"/></linearGradient><linearGradient id="g119" x2="0" y2="1"><stop offset="0.00" stop-color="#02fffd"/><stop offset="0.12" stop-color="#00c0ff"/><stop offset="0.25" stop-color="#009fff"/><stop offset="0.38" stop-color="#0092ff"/><stop offset="0.50" stop-color="#0090ff"/><stop offset="0.62" stop-color="#0092ff"/><stop offset="0.75" stop-color="#009fff"/><stop offset="0.88" stop-color="#00c0ff"/><stop offset="1.00" stop-color="#02fffd"/></linearGradient><linearGradient id="g120" x2="0" y2="1"><stop offset="0.00" stop-color="#0ffff0"/><stop offset="0.12" stop-color="#00d9ff"/><stop offset="0.25" stop-color="#00beff"/><stop offset="0.38" stop-color="#00b4ff"/><stop offset="0.50" stop-color="#00b2ff"/><stop offset="0.62" stop-color="#00b4ff"/><stop offset="0.75" stop-color="#00beff"/><stop offset="0.88" stop-color="#00d9ff"/><stop offset="1.00" stop-color="#0ffff0"/></linearGradient><linearGradient id="g121" x2="0" y2="1"><stop offset="0.00" stop-color="#2effd1"/><stop offset="0.12" stop-color="#05fffa"/><stop offset="0.25" stop-color="#00eeff"/><stop offset="0.38" stop-color="#00e7ff"/><stop offset="0.50" stop-color="#00e6ff"/><stop offset="0.62" stop-color="#00e7ff"/><stop offset="0.75" stop-color="#00eeff"/><stop offset="0.88" stop-color="#05fffa"/><stop offset="1.00" stop-color="#2effd1"/></linearGradient><linearGradient id="g122" x2="0" y2="1"><stop offset="0.00" stop-color="#57ffa8"/><stop offset="0.12" stop-color="#33ffcc"/><stop offset="0.25" stop-color="#21ffde"/><stop offset="0.38" stop-color="#1affe5"/><stop offset="0.50" stop-color="#19ffe6"/><stop offset="0.62" stop-color="#1affe5"/><stop offset="0.75" stop-color="#21ffde"/><stop offset="0.88" stop-color="#33ffcc"/><stop offset="1.00" stop-color="#57ffa8"/></linearGradient><linearGradient id="g123" x2="0" y2="1"><stop offset="0.00" stop-color="#94ff6b"/><stop offset="0.12" stop-color="#6bff94"/><stop offset="0.25" stop-color="#55ffaa"/><stop offset="0.38" stop-color="#4effb1"/><stop offset="0.50" stop-color="#4dffb2"/><stop offset="0.62" stop-color="#4effb1"/><stop offset="0.75" stop-color="#55ffaa"/><stop offset="0.88" stop-color="#6bff94"/><stop offset="1.00" stop-color="#94ff6b"/></linearGradient><linearGradient id="g124" x2="0" y2="1"><stop offset="0.00" stop-color="#bdff42"/><stop offset="0.12" stop-color="#a5ff5a"/><stop offset="0.25" stop-color="#99ff66"/><stop offset="0.38" stop-color="#95ff6a"/><stop offset="0.50" stop-color="#94ff6b"/><stop offset="0.62" stop-color="#95ff6a"/><stop offset="0.75" stop-color="#99ff66"/><stop offset="0.88" stop-color="#a5ff5a"/><stop offset="1.00" stop-color="#bdff42"/></linearGradient><linearGradient id="g125" x2="0" y2="1"><stop offset="0.00" stop-color="#fff000"/><stop offset="0.12" stop-color="#fffb00"/><stop offset="0.25" stop-color="#fcff03"/><stop offset="0.38" stop-color="#faff05"/><stop offset="0.50" stop-color="#faff05"/><stop offset="0.62" stop-color="#faff05"/><stop offset="0.75" stop-color="#fcff03"/><stop offset="0.88" stop-color="#fffb00"/><stop offset="1.00" stop-color="#fff000"/></linearGradient><linearGradient id="g126" x2="0" y2="1"><stop offset="0.00" stop-color="#fff000"/><stop offset="0.12" stop-color="#fffb00"/><stop offset="0.25" stop-color="#fcff03"/><stop offset="0.38" stop-color="#faff05"/><stop offset="0.50" stop-color="#faff05"/><stop offset="0.62" stop-color="#faff05"/><stop offset="0.75" stop-color="#fcff03"/><stop offset="0.88" stop-color="#fffb00"/><stop offset="1.00" stop-color="#fff000"/></linearGradient><linearGradient id="g127" x2="0" y2="1"><stop offset="0.00" stop-color="#bdff42"/><stop offset="0.12" stop-color="#a5ff5a"/><stop offset="0.25" stop-color="#99ff66"/><stop offset="0.38" stop-color="#95ff6a"/><stop offset="0.50" stop-color="#94ff6b"/><stop offset="0.62" stop-color="#95ff6a"/><stop offset="0.75" stop-color="#99ff66"/><stop offset="0.88" stop-color="#a5ff5a"/><stop offset="1.00" stop-color="#bdff42"/></linearGradient><linearGradient id="g128" x2="0" y2="1"><stop offset="0.00" stop-color="#94ff6b"/><stop offset="0.12" stop-color="#6bff94"/><stop offset="0.25" stop-color="#55ffaa"/><stop offset="0.38" stop-color="#4effb1"/><stop offset="0.50" stop-color="#4cffb3"/><stop offset="0.62" stop-color="#4effb1"/><stop offset="0.75" stop-color="#55ffaa"/><stop offset="0.88" stop-color="#6bff94"/><stop offset="1.00" stop-color="#94ff6b"/></linearGradient><linearGradient id="g129" x2="0" y2="1"><stop offset="0.00" stop-color="#57ffa8"/><stop offset="0.12" stop-color="#33ffcc"/><stop offset="0.25" stop-color="#21ffde"/><stop offset="0.38" stop-color="#1affe5"/><stop offset="0.50" stop-color="#1affe5"/><stop offset="0.62" stop-color="#1affe5"/><stop offset="0.75" stop-color="#21ffde"/><stop offset="0.88" stop-color="#33ffcc"/><stop offset="1.00" stop-color="#57ffa8"/></linearGradient><linearGradient id="g130" x2="0" y2="1"><stop offset="0.00" stop-color="#2effd1"/><stop offset="0.12" stop-color="#05fffa"/><stop offset="0.25" stop-color="#00eeff"/><stop offset="0.38" stop-color="#00e7ff"/><stop offset="0.50" stop-color="#00e6ff"/><stop offset="0.62" stop-color="#00e7ff"/><stop offset="0.75" stop-color="#00eeff"/><stop offset="0.88" stop-color="#05fffa"/><stop offset="1.00" stop-color="#2effd1"/></linearGradient><linearGradient id="g131" x2="0" y2="1"><stop offset="0.00" stop-color="#0ffff0"/><stop offset="0.12" stop-color="#00d9ff"/><stop offset="0.25" stop-color="#00beff"/><stop offset="0.38" stop-color="#00b4ff"/><stop offset="0.50" stop-color="#00b2ff"/><stop offset="0.62" stop-color="#00b4ff"/><stop offset="0.75" stop-color="#00beff"/><stop offset="0.88" stop-color="#00d9ff"/><stop offset="1.00" stop-color="#0ffff0"/></linearGradient><linearGradient id="g132" x2="0" y2="1"><stop offset="0.00" stop-color="#02fffd"/><stop offset="0.12" stop-color="#00c0ff"/><stop offset="0.25" stop-color="#009fff"/><stop offset="0.38" stop-color="#0092ff"/><stop offset="0.50" stop-color="#0090ff"/><stop offset="0.62" stop-color="#0092ff"/><stop offset="0.75" stop-color="#009fff"/><stop offset="0.88" stop-color="#00c0ff"/><stop offset="1.00" stop-color="#02fffd"/></linearGradient><linearGradient id="g133" x2="0" y2="1"><stop offset="0.00" stop-color="#00f4ff"/><stop offset="0.12" stop-color="#00adff"/><stop offset="0.25" stop-color="#0089ff"/><stop offset="0.38" stop-color="#007bff"/><stop offset="0.50" stop-color="#0079ff"/><stop offset="0.62" stop-color="#007bff"/><stop offset="0.75" stop-color="#0089ff"/><stop offset="0.88" stop-color="#00adff"/><stop offset="1.00" stop-color="#00f4ff"/></linearGradient><linearGradient id="g134" x2="0" y2="1"><stop offset="0.00" stop-color="#00e8ff"/><stop offset="0.12" stop-color="#00a1ff"/><stop offset="0.25" stop-color="#007cff"/><stop offset="0.38" stop-color="#006fff"/><stop offset="0.50" stop-color="#006dff"/><stop offset="0.62" stop-color="#006fff"/><stop offset="0.75" stop-color="#007cff"/><stop offset="0.88" stop-color="#00a1ff"/><stop offset="1.00" stop-color="#00e8ff"/></linearGradient><linearGradient id="g135" x2="0" y2="1"><stop offset="0.00" stop-color="#00dbff"/><stop offset="0.12" stop-color="#0095ff"/><stop offset="0.25" stop-color="#0070ff"/><stop offset="0.38" stop-color="#0063ff"/><stop offset="0.50" stop-color="#0061ff"/><stop offset="0.62" stop-color="#0063ff"/><stop offset="0.75" stop-color="#0070ff"/><stop offset="0.88" stop-color="#0095ff"/><stop offset="1.00" stop-color="#00dbff"/></linearGradient><linearGradient id="g136" x2="0" y2="1"><stop offset="0.00" stop-color="#00dbff"/><stop offset="0.12" stop-color="#0094ff"/><stop offset="0.25" stop-color="#0070ff"/><stop offset="0.38" stop-color="#0063ff"/><stop offset="0.50" stop-color="#0061ff"/><stop offset="0.62" stop-color="#0063ff"/><stop offset="0.75" stop-color="#0070ff"/><stop offset="0.88" stop-color="#0094ff"/><stop offset="1.00" stop-color="#00dbff"/></linearGradient><linearGradient id="g137" x2="0" y2="1"><stop offset="0.00" stop-color="#00daff"/><stop offset="0.12" stop-color="#0094ff"/><stop offset="0.25" stop-color="#0070ff"/><stop offset="0.38" stop-color="#0063ff"/><stop offset="0.50" stop-color="#0061ff"/><stop offset="0.62" stop-color="#0063ff"/><stop offset="0.75" stop-color="#0070ff"/><stop offset="0.88" stop-color="#0094ff"/><stop offset="1.00" stop-color="#00daff"/></linearGradient><linearGradient id="g138" x2="0" y2="1"><stop offset="0.00" stop-color="#00d9ff"/><stop offset="0.12" stop-color="#0094ff"/><stop offset="0.25" stop-color="#0070ff"/><stop offset="0.38" stop-color="#0063ff"/><stop offset="0.50" stop-color="#0061ff"/><stop offset="0.62" stop-color="#0063ff"/><stop offset="0.75" stop-color="#0070ff"/><stop offset="0.88" stop-color="#0094ff"/><stop offset="1.00" stop-color="#00d9ff"/></linearGradient><linearGradient id="g139" x2="0" y2="1"><stop offset="0.00" stop-color="#00d9ff"/><stop offset="0.12" stop-color="#0093ff"/><stop offset="0.25" stop-color="#0070ff"/><stop offset="0.38" stop-color="#0063ff"/><stop offset="0.50" stop-color="#0061ff"/><stop offset="0.62" stop-color="#0063ff"/><stop offset="0.75" stop-color="#0070ff"/><stop offset="0.88" stop-color="#0093ff"/><stop offset="1.00" stop-color="#00d9ff"/></linearGradient><linearGradient id="g140" x2="0" y2="1"><stop offset="0.00" stop-color="#00d8ff"/><stop offset="0.12" stop-color="#0093ff"/><stop offset="0.25" stop-color="#0070ff"/><stop offset="0.38" stop-color="#0063ff"/><stop offset="0.50" stop-color="#0061ff"/><stop offset="0.62" stop-color="#0063ff"/><stop offset="0.75" stop-color="#0070ff"/><stop offset="0.88" stop-color="#0093ff"/><stop offset="1.00" stop-color="#00d8ff"/></linearGradient><linearGradient id="g141" x2="0" y2="1"><stop offset="0.00" stop-color="#00d7ff"/><stop offset="0.12" stop-color="#0093ff"/><stop offset="0.25" stop-color="#0070ff"/><stop offset="0.38" stop-color="#0063ff"/><stop offset="0.50" stop-color="#0061ff"/><stop offset="0.62" stop-color="#0063ff"/><stop offset="0.75" stop-color="#0070ff"/><stop offset="0.88" stop-color="#0093ff"/><stop offset="1.00" stop-color="#00d7ff"/></linearGradient><linearGradient id="g142" x2="0" y2="1"><stop offset="0.00" stop-color="#00d7ff"/><stop offset="0.12" stop-color="#0093ff"/><stop offset="0.25" stop-color="#0070ff"/><stop offset="0.38" stop-color="#0063ff"/><stop offset="0.50" stop-color="#0061ff"/><stop offset="0.62" stop-color="#0063ff"/><stop offset="0.75" stop-color="#0070ff"/><stop offset="0.88" stop-color="#0093ff"/><stop offset="1.00" stop-color="#00d7ff"/></linearGradient><linearGradient id="g143" x2="0" y2="1"><stop offset="0.00" stop-color="#00d6ff"/><stop offset="0.12" stop-color="#0092ff"/><stop offset="0.25" stop-color="#0070ff"/><stop offset="0.38" stop-color="#0063ff"/><stop offset="0.50" stop-color="#0061ff"/><stop offset="0.62" stop-color="#0063ff"/><stop offset="0.75" stop-color="#0070ff"/><stop offset="0.88" stop-color="#0092ff"/><stop offset="1.00" stop-color="#00d6ff"/></linearGradient><linearGradient id="g144" x2="0" y2="1"><stop offset="0.00" stop-color="#00d5ff"/><stop offset="0.12" stop-color="#0092ff"/><stop offset="0.25" stop-color="#006fff"/><stop offset="0.38" stop-color="#0063ff"/><stop offset="0.50" stop-color="#0061ff"/><stop offset="0.62" stop-color="#0063ff"/><stop offset="0.75" stop-color="#006fff"/><stop offset="0.88" stop-color="#0092ff"/><stop offset="1.00" stop-color="#00d5ff"/></linearGradient><linearGradient id="g145" x2="0" y2="1"><stop offset="0.00" stop-color="#00d5ff"/><stop offset="0.12" stop-color="#0092ff"/><stop offset="0.25" stop-color="#006fff"/><stop offset="0.38" stop-color="#0063ff"/><stop offset="0.50" stop-color="#0061ff"/><stop offset="0.62" stop-color="#0063ff"/><stop offset="0.75" stop-color="#006fff"/><stop offset="0.88" stop-color="#0092ff"/><stop offset="1.00" stop-color="#00d5ff"/></linearGradient><linearGradient id="g146" x2="0" y2="1"><stop offset="0.00" stop-color="#00d4ff"/><stop offset="0.12" stop-color="#0091ff"/><stop offset="0.25" stop-color="#006fff"/><stop offset="0.38" stop-color="#0063ff"/><stop offset="0.50" stop-color="#0061ff"/><stop offset="0.62" stop-color="#0063ff"/><stop offset="0.75" stop-color="#006fff"/><stop offset="0.88" stop-color="#0091ff"/><stop offset="1.00" stop-color="#00d4ff"/></linearGradient><linearGradient id="g147" x2="0" y2="1"><stop offset="0.00" stop-color="#00d3ff"/><stop offset="0.12" stop-color="#0091ff"/><stop offset="0.25" stop-color="#006fff"/><stop offset="0.38" stop-color="#0063ff"/><stop offset="0.50" stop-color="#0061ff"/><stop offset="0.62" stop-color="#0063ff"/><stop offset="0.75" stop-color="#006fff"/><stop offset="0.88" stop-color="#0091ff"/><stop offset="1.00" stop-color="#00d3ff"/></linearGradient><linearGradient id="g148" x2="0" y2="1"><stop offset="0.00" stop-color="#00d2ff"/><stop offset="0.12" stop-color="#0091ff"/><stop offset="0.25" stop-color="#006fff"/><stop offset="0.38" stop-color="#0063ff"/><stop offset="0.50" stop-color="#0061ff"/><stop offset="0.62" stop-color="#0063ff"/><stop offset="0.75" stop-color="#006fff"/><stop offset="0.88" stop-color="#0091ff"/><stop offset="1.00" stop-color="#00d2ff"/></linearGradient><linearGradient id="g149" x2="0" y2="1"><stop offset="0.00" stop-color="#00d2ff"/><stop offset="0.12" stop-color="#0091ff"/><stop offset="0.25" stop-color="#006fff"/><stop offset="0.38" stop-color="#0063ff"/><stop offset="0.50" stop-color="#0061ff"/><stop offset="0.62" stop-color="#0063ff"/><stop offset="0.75" stop-color="#006fff"/><stop offset="0.88" stop-color="#0091ff"/><stop offset="1.00" stop-color="#00d2ff"/></linearGradient><linearGradient id="g150" x2="0" y2="1"><stop offset="0.00" stop-color="#00d1ff"/><stop offset="0.12" stop-color="#0090ff"/><stop offset="0.25" stop-color="#006fff"/><stop offset="0.38" stop-color="#0063ff"/><stop offset="0.50" stop-color="#0061ff"/><stop offset="0.62" stop-color="#0063ff"/><stop offset="0.75" stop-color="#006fff"/><stop offset="0.88" stop-color="#0090ff"/><stop offset="1.00" stop-color="#00d1ff"/></linearGradient><linearGradient id="h151"><stop offset="0.000" stop-color="#00dbff"/><stop offset="0.017" stop-color="#00dbff"/><stop offset="0.033" stop-color="#00dbff"/><stop offset="0.050" stop-color="#00dbff"/><stop offset="0.067" stop-color="#00dbff"/><stop offset="0.083" stop-color="#00dbff"/><stop offset="0.100" stop-color="#00dbff"/><stop offset="0.117" stop-color="#00dbff"/><stop offset="0.133" stop-color="#00dbff"/><stop offset="0.150" stop-color="#00dbff"/><stop offset="0.167" stop-color="#00dbff"/><stop offset="0.183" stop-color="#00dbff"/><stop offset="0.200" stop-color="#00dbff"/><stop offset="0.217" stop-color="#00dbff"/><stop offset="0.233" stop-color="#00dbff"/><stop offset="0.250" stop-color="#00dbff"/><stop offset="0.267" stop-color="#00dbff"/><stop offset="0.283" stop-color="#00dbff"/><stop offset="0.300" stop-color="#00dbff"/><stop offset="0.317" stop-color="#00dcff"/><stop offset="0.333" stop-color="#00dcff"/><stop offset="0.350" stop-color="#00dcff"/><stop offset="0.367" stop-color="#00dcff"/><stop offset="0.383" stop-color="#00ddff"/><stop offset="0.400" stop-color="#00deff"/><stop offset="0.417" stop-color="#00e0ff"/><stop offset="0.433" stop-color="#00e2ff"/><stop offset="0.450" stop-color="#00e6ff"/><stop offset="0.467" stop-color="#00ebff"/><stop offset="0.483" stop-color="#00f1ff"/><stop offset="0.500" stop-color="#00f9ff"/><stop offset="0.517" stop-color="#05fffa"/><stop offset="0.533" stop-color="#13ffec"/><stop offset="0.550" stop-color="#23ffdc"/><stop offset="0.567" stop-color="#36ffc9"/><stop offset="0.583" stop-color="#4bffb4"/><stop offset="0.600" stop-color="#63ff9c"/><stop offset="0.617" stop-color="#7cff83"/><stop offset="0.633" stop-color="#97ff68"/><stop offset="0.650" stop-color="#b3ff4c"/><stop offset="0.667" stop-color="#d6ff29"/><stop offset="0.683" stop-color="#fff200"/><stop offset="0.700" stop-color="#ffa100"/><stop offset="0.717" stop-color="#ff4600"/><stop offset="0.733" stop-color="#ff1100"/><stop offset="0.750" stop-color="#ff2800"/><stop offset="0.767" stop-color="#ff7a00"/><stop offset="0.783" stop-color="#ffd300"/><stop offset="0.800" stop-color="#e9ff16"/><stop offset="0.817" stop-color="#c0ff3f"/><stop offset="0.833" stop-color="#a2ff5d"/><stop offset="0.850" stop-color="#87ff78"/><stop offset="0.867" stop-color="#6eff91"/><stop offset="0.883" stop-color="#55ffaa"/><stop offset="0.900" stop-color="#3effc1"/><stop offset="0.917" stop-color="#2affd5"/><stop offset="0.933" stop-color="#19ffe6"/><stop offset="0.950" stop-color="#0afff5"/><stop offset="0.967" stop-color="#00feff"/><stop offset="0.983" stop-color="#00f4ff"/><stop offset="1.000" stop-color="#00edff"/></linearGradient><linearGradient id="h152"><stop offset="0.000" stop-color="#00edff"/><stop offset="0.017" stop-color="#00f4ff"/><stop offset="0.033" stop-color="#00feff"/><stop offset="0.050" stop-color="#0afff5"/><stop offset="0.067" stop-color="#19ffe6"/><stop offset="0.083" stop-color="#2affd5"/><stop offset="0.100" stop-color="#3effc1"/><stop offset="0.117" stop-color="#55ffaa"/><stop offset="0.133" stop-color="#6eff91"/><stop offset="0.150" stop-color="#87ff78"/><stop offset="0.167" stop-color="#a2ff5d"/><stop offset="0.183" stop-color="#c0ff3f"/><stop offset="0.200" stop-color="#e9ff16"/><stop offset="0.217" stop-color="#ffd300"/><stop offset="0.233" stop-color="#ff7a00"/><stop offset="0.250" stop-color="#ff2800"/><stop offset="0.267" stop-color="#ff1100"/><stop offset="0.283" stop-color="#ff4600"/><stop offset="0.300" stop-color="#ffa100"/><stop offset="0.317" stop-color="#fff200"/><stop offset="0.333" stop-color="#d6ff29"/><stop offset="0.350" stop-color="#b3ff4c"/><stop offset="0.367" stop-color="#97ff68"/><stop offset="0.383" stop-color="#7cff83"/><stop offset="0.400" stop-color="#63ff9c"/><stop offset="0.417" stop-color="#4bffb4"/><stop offset="0.433" stop-color="#36ffc9"/><stop offset="0.450" stop-color="#23ffdc"/><stop offset="0.467" stop-color="#13ffec"/><stop offset="0.483" stop-color="#05fffa"/><stop offset="0.500" stop-color="#00f9ff"/><stop offset="0.517" stop-color="#00f1ff"/><stop offset="0.533" stop-color="#00ebff"/><stop offset="0.550" stop-color="#00e6ff"/><stop offset="0.567" stop-color="#00e2ff"/><stop offset="0.583" stop-color="#00e0ff"/><stop offset="0.600" stop-color="#00deff"/><stop offset="0.617" stop-color="#00ddff"/><stop offset="0.633" stop-color="#00dcff"/><stop offset="0.650" stop-color="#00dcff"/><stop offset="0.667" stop-color="#00dcff"/><stop offset="0.683" stop-color="#00dcff"/><stop offset="0.700" stop-color="#00dbff"/><stop offset="0.717" stop-color="#00dbff"/><stop offset="0.733" stop-color="#00dbff"/><stop offset="0.750" stop-color="#00dbff"/><stop offset="0.767" stop-color="#00dbff"/><stop offset="0.783" stop-color="#00dbff"/><stop offset="0.800" stop-color="#00dbff"/><stop offset="0.817" stop-color="#00dbff"/><stop offset="0.833" stop-color="#00dbff"/><stop offset="0.850" stop-color="#00dbff"/><stop offset="0.867" stop-color="#00dbff"/><stop offset="0.883" stop-color="#00dbff"/><stop offset="0.900" stop-color="#00dbff"/><stop offset="0.917" stop-color="#00dbff"/><stop offset="0.933" stop-color="#00dbff"/><stop offset="0.950" stop-color="#00dbff"/><stop offset="0.967" stop-color="#00dbff"/><stop offset="0.983" stop-color="#00dbff"/><stop offset="1.000" stop-color="#00dbff"/></linearGradient><linearGradient id="g153" x2="0" y2="1"><stop offset="0.00" stop-color="#05fffa"/><stop offset="0.17" stop-color="#3fffc0"/><stop offset="0.33" stop-color="#7aff85"/><stop offset="0.50" stop-color="#c2ff3d"/><stop offset="0.67" stop-color="#fff000"/><stop offset="0.83" stop-color="#ff8a00"/><stop offset="1.00" stop-color="#fa0000"/></linearGradient><linearGradient id="g154" x2="0" y2="1"><stop offset="0.00" stop-color="#fa0000"/><stop offset="0.17" stop-color="#ff8a00"/><stop offset="0.33" stop-color="#fff000"/><stop offset="0.50" stop-color="#c2ff3d"/><stop offset="0.67" stop-color="#7aff85"/><stop offset="0.83" stop-color="#3fffc0"/><stop offset="1.00" stop-color="#05fffa"/></linearGradient><linearGradient id="g155" x2="0" y2="1"><stop offset="0.00" stop-color="#05fffa"/><stop offset="0.17" stop-color="#3fffc0"/><stop offset="0.33" stop-color="#7aff85"/><stop offset="0.50" stop-color="#c2ff3d"/><stop offset="0.67" stop-color="#fff000"/><stop offset="0.83" stop-color="#ff8a00"/><stop offset="1.00" stop-color="#fa0000"/></linearGradient><linearGradient id="g156" x2="0" y2="1"><stop offset="0.00" stop-color="#fa0000"/><stop offset="0.17" stop-color="#ff8a00"/><stop offset="0.33" stop-color="#fff000"/><stop offset="0.50" stop-color="#c2ff3d"/><stop offset="0.67" stop-color="#7aff85"/><stop offset="0.83" stop-color="#3fffc0"/><stop offset="1.00" stop-color="#05fffa"/></linearGradient><linearGradient id="g157" x2="0" y2="1"><stop offset="0.00" stop-color="#05fffa"/><stop offset="0.17" stop-color="#3fffc0"/><stop offset="0.33" stop-color="#7aff85"/><stop offset="0.50" stop-color="#c2ff3d"/><stop offset="0.67" stop-color="#fff000"/><stop offset="0.83" stop-color="#ff8a00"/><stop offset="1.00" stop-color="#fa0000"/></linearGradient><linearGradient id="g158" x2="0" y2="1"><stop offset="0.00" stop-color="#fa0000"/><stop offset="0.17" stop-color="#ff8a00"/><stop offset="0.33" stop-color="#fff000"/><stop offset="0.50" stop-color="#c2ff3d"/><stop offset="0.67" stop-color="#7aff85"/><stop offset="0.83" stop-color="#3fffc0"/><stop offset="1.00" stop-color="#05fffa"/></linearGradient><linearGradient id="g159" x2="0" y2="1"><stop offset="0.00" stop-color="#05fffa"/><stop offset="0.17" stop-color="#3fffc0"/><stop offset="0.33" stop-color="#7aff85"/><stop offset="0.50" stop-color="#c2ff3d"/><stop offset="0.67" stop-color="#fff000"/><stop offset="0.83" stop-color="#ff8a00"/><stop offset="1.00" stop-color="#fa0000"/></linearGradient><linearGradient id="g160" x2="0" y2="1"><stop offset="0.00" stop-color="#fa0000"/><stop offset="0.17" stop-color="#ff8a00"/><stop offset="0.33" stop-color="#fff000"/><stop offset="0.50" stop-color="#c2ff3d"/><stop offset="0.67" stop-color="#7aff85"/><stop offset="0.83" stop-color="#3fffc0"/><stop offset="1.00" stop-color="#05fffa"/></linearGradient><linearGradient id="g161" x2="0" y2="1"><stop offset="0.00" stop-color="#05fffa"/><stop offset="0.17" stop-color="#3fffc0"/><stop offset="0.33" stop-color="#7aff85"/><stop offset="0.50" stop-color="#c2ff3d"/><stop offset="0.67" stop-color="#fff000"/><stop offset="0.83" stop-color="#ff8a00"/><stop offset="1.00" stop-color="#fa0000"/></linearGradient><linearGradient id="g162" x2="0" y2="1"><stop offset="0.00" stop-color="#fa0000"/><stop offset="0.17" stop-color="#ff8a00"/><stop offset="0.33" stop-color="#fff000"/><stop offset="0.50" stop-color="#c2ff3d"/><stop offset="0.67" stop-color="#7aff85"/><stop offset="0.83" stop-color="#3fffc0"/><stop offset="1.00" stop-color="#05fffa"/></linearGradient><linearGradient id="g163" x2="0" y2="1"><stop offset="0.00" stop-color="#05fffa"/><stop offset="0.17" stop-color="#3fffc0"/><stop offset="0.33" stop-color="#7aff85"/><stop offset="0.50" stop-color="#c2ff3d"/><stop offset="0.67" stop-color="#fff000"/><stop offset="0.83" stop-color="#ff8a00"/><stop offset="1.00" stop-color="#fa0000"/></linearGradient><linearGradient id="g164" x2="0" y2="1"><stop offset="0.00" stop-color="#fa0000"/><stop offset="0.17" stop-color="#ff8a00"/><stop offset="0.33" stop-color="#fff000"/><stop offset="0.50" stop-color="#c2ff3d"/><stop offset="0.67" stop-color="#7aff85"/><stop offset="0.83" stop-color="#3fffc0"/><stop offset="1.00" stop-color="#05fffa"/></linearGradient><linearGradient id="g165" x2="0" y2="1"><stop offset="0.00" stop-color="#05fffa"/><stop offset="0.17" stop-color="#3fffc0"/><stop offset="0.33" stop-color="#7aff85"/><stop offset="0.50" stop-color="#c2ff3d"/><stop offset="0.67" stop-color="#fff000"/><stop offset="0.83" stop-color="#ff8a00"/><stop offset="1.00" stop-color="#fa0000"/></linearGradient><linearGradient id="g166" x2="0" y2="1"><stop offset="0.00" stop-color="#fa0000"/><stop offset="0.17" stop-color="#ff8a00"/><stop offset="0.33" stop-color="#fff000"/><stop offset="0.50" stop-color="#c2ff3d"/><stop offset="0.67" stop-color="#7aff85"/><stop offset="0.83" stop-color="#3fffc0"/><stop offset="1.00" stop-color="#05fffa"/></linearGradient><linearGradient id="g167" x2="0" y2="1"><stop offset="0.00" stop-color="#05fffa"/><stop offset="0.17" stop-color="#3fffc0"/><stop offset="0.33" stop-color="#7aff85"/><stop offset="0.50" stop-color="#c2ff3d"/><stop offset="0.67" stop-color="#fff000"/><stop offset="0.83" stop-color="#ff8a00"/><stop offset="1.00" stop-color="#fa0000"/></linearGradient><linearGradient id="g168" x2="0" y2="1"><stop offset="0.00" stop-color="#fa0000"/><stop offset="0.17" stop-color="#ff8a00"/><stop offset="0.33" stop-color="#fff000"/><stop offset="0.50" stop-color="#c2ff3d"/><stop offset="0.67" stop-color="#7aff85"/><stop offset="0.83" stop-color="#3fffc0"/><stop offset="1.00" stop-color="#05fffa"/></linearGradient><linearGradient id="g169" x2="0" y2="1"><stop offset="0.00" stop-color="#05fffa"/><stop offset="0.17" stop-color="#3fffc0"/><stop offset="0.33" stop-color="#7aff85"/><stop offset="0.50" stop-color="#c2ff3d"/><stop offset="0.67" stop-color="#fff000"/><stop offset="0.83" stop-color="#ff8a00"/><stop offset="1.00" stop-color="#fa0000"/></linearGradient><linearGradient id="g170" x2="0" y2="1"><stop offset="0.00" stop-color="#fa0000"/><stop offset="0.17" stop-color="#ff8a00"/><stop offset="0.33" stop-color="#fff000"/><stop offset="0.50" stop-color="#c2ff3d"/><stop offset="0.67" stop-color="#7aff85"/><stop offset="0.83" stop-color="#3fffc0"/><stop offset="1.00" stop-color="#05fffa"/></linearGradient><linearGradient id="g171" x2="0" y2="1"><stop offset="0.00" stop-color="#05fffa"/><stop offset="0.17" stop-color="#3fffc0"/><stop offset="0.33" stop-color="#7aff85"/><stop offset="0.50" stop-color="#c2ff3d"/><stop offset="0.67" stop-color="#fff000"/><stop offset="0.83" stop-color="#ff8a00"/><stop offset="1.00" stop-color="#fa0000"/></linearGradient><linearGradient id="g172" x2="0" y2="1"><stop offset="0.00" stop-color="#fa0000"/><stop offset="0.17" stop-color="#ff8a00"/><stop offset="0.33" stop-color="#fff000"/><stop offset="0.50" stop-color="#c2ff3d"/><stop offset="0.67" stop-color="#7aff85"/><stop offset="0.83" stop-color="#3fffc0"/><stop offset="1.00" stop-color="#05fffa"/></linearGradient><linearGradient id="g173" x2="0" y2="1"><stop offset="0.00" stop-color="#05fffa"/><stop offset="0.17" stop-color="#3fffc0"/><stop offset="0.33" stop-color="#7aff85"/><stop offset="0.50" stop-color="#c2ff3d"/><stop offset="0.67" stop-color="#fff000"/><stop offset="0.83" stop-color="#ff8a00"/><stop offset="1.00" stop-color="#fa0000"/></linearGradient><linearGradient id="g174" x2="0" y2="1"><stop offset="0.00" stop-color="#fa0000"/><stop offset="0.17" stop-color="#ff8a00"/><stop offset="0.33" stop-color="#fff000"/><stop offset="0.50" stop-color="#c2ff3d"/><stop offset="0.67" stop-color="#7aff85"/><stop offset="0.83" stop-color="#3fffc0"/><stop offset="1.00" stop-color="#05fffa"/></linearGradient><linearGradient id="g175" x2="0" y2="1"><stop offset="0.00" stop-color="#05fffa"/><stop offset="0.17" stop-color="#3fffc0"/><stop offset="0.33" stop-color="#7aff85"/><stop offset="0.50" stop-color="#c2ff3d"/><stop offset="0.67" stop-color="#fff000"/><stop offset="0.83" stop-color="#ff8a00"/><stop offset="1.00" stop-color="#fa0000"/></linearGradient><linearGradient id="g176" x2="0" y2="1"><stop offset="0.00" stop-color="#fa0000"/><stop offset="0.17" stop-color="#ff8a00"/><stop offset="0.33" stop-color="#fff000"/><stop offset="0.50" stop-color="#c2ff3d"/><stop offset="0.67" stop-color="#7aff85"/><stop offset="0.83" stop-color="#3fffc0"/><stop offset="1.00" stop-color="#05fffa"/></linearGradient><linearGradient id="g177" x2="0" y2="1"><stop offset="0.00" stop-color="#05fffa"/><stop offset="0.17" stop-color="#3fffc0"/><stop offset="0.33" stop-color="#7aff85"/><stop offset="0.50" stop-color="#c2ff3d"/><stop offset="0.67" stop-color="#fff000"/><stop offset="0.83" stop-color="#ff8a00"/><stop offset="1.00" stop-color="#fa0000"/></linearGradient><linearGradient id="g178" x2="0" y2="1"><stop offset="0.00" stop-color="#fa0000"/><stop offset="0.17" stop-color="#ff8a00"/><stop offset="0.33" stop-color="#fff000"/><stop offset="0.50" stop-color="#c2ff3d"/><stop offset="0.67" stop-color="#7aff85"/><stop offset="0.83" stop-color="#3fffc0"/><stop offset="1.00" stop-color="#05fffa"/></linearGradient><linearGradient id="g179" x2="0" y2="1"><stop offset="0.00" stop-color="#05fffa"/><stop offset="0.17" stop-color="#3fffc0"/><stop offset="0.33" stop-color="#7aff85"/><stop offset="0.50" stop-color="#c2ff3d"/><stop offset="0.67" stop-color="#fff000"/><stop offset="0.83" stop-color="#ff8a00"/><stop offset="1.00" stop-color="#fa0000"/></linearGradient><linearGradient id="g180" x2="0" y2="1"><stop offset="0.00" stop-color="#fa0000"/><stop offset="0.17" stop-color="#ff8a00"/><stop offset="0.33" stop-color="#fff000"/><stop offset="0.50" stop-color="#c2ff3d"/><stop offset="0.67" stop-color="#7aff85"/><stop offset="0.83" stop-color="#3fffc0"/><stop offset="1.00" stop-color="#05fffa"/></linearGradient><linearGradient id="g181" x2="0" y2="1"><stop offset="0.00" stop-color="#05fffa"/><stop offset="0.17" stop-color="#3fffc0"/><stop offset="0.33" stop-color="#7aff85"/><stop offset="0.50" stop-color="#c2ff3d"/><stop offset="0.67" stop-color="#fff000"/><stop offset="0.83" stop-color="#ff8a00"/><stop offset="1.00" stop-color="#fa0000"/></linearGradient><linearGradient id="g182" x2="0" y2="1"><stop offset="0.00" stop-color="#fa0000"/><stop offset="0.17" stop-color="#ff8a00"/><stop offset="0.33" stop-color="#fff000"/><stop offset="0.50" stop-color="#c2ff3d"/><stop offset="0.67" stop-color="#7aff85"/><stop offset="0.83" stop-color="#3fffc0"/><stop offset="1.00" stop-color="#05fffa"/></linearGradient><linearGradient id="g183" x2="0" y2="1"><stop offset="0.00" stop-color="#05fffa"/><stop offset="0.17" stop-color="#3fffc0"/><stop offset="0.33" stop-color="#7aff85"/><stop offset="0.50" stop-color="#c2ff3d"/><stop offset="0.67" stop-color="#fff000"/><stop offset="0.83" stop-color="#ff8a00"/><stop offset="1.00" stop-color="#fa0000"/></linearGradient><linearGradient id="g184" x2="0" y2="1"><stop offset="0.00" stop-color="#fa0000"/><stop offset="0.17" stop-color="#ff8a00"/><stop offset="0.33" stop-color="#fff000"/><stop offset="0.50" stop-color="#c2ff3d"/><stop offset="0.67" stop-color="#7aff85"/><stop offset="0.83" stop-color="#3fffc0"/><stop offset="1.00" stop-color="#05fffa"/></linearGradient><linearGradient id="g185" x2="0" y2="1"><stop offset="0.00" stop-color="#05fffa"/><stop offset="0.17" stop-color="#3fffc0"/><stop offset="0.33" stop-color="#7aff85"/><stop offset="0.50" stop-color="#c2ff3d"/><stop offset="0.67" stop-color="#fff000"/><stop offset="0.83" stop-color="#ff8a00"/><stop offset="1.00" stop-color="#fa0000"/></linearGradient><linearGradient id="g186" x2="0" y2="1"><stop offset="0.00" stop-color="#fa0000"/><stop offset="0.17" stop-color="#ff8a00"/><stop offset="0.33" stop-color="#fff000"/><stop offset="0.50" stop-color="#c2ff3d"/><stop offset="0.67" stop-color="#7aff85"/><stop offset="0.83" stop-color="#3fffc0"/><stop offset="1.00" stop-color="#05fffa"/></linearGradient><linearGradient id="g187" x2="0" y2="1"><stop offset="0.00" stop-color="#05fffa"/><stop offset="0.17" stop-color="#3fffc0"/><stop offset="0.33" stop-color="#7aff85"/><stop offset="0.50" stop-color="#c2ff3d"/><stop offset="0.67" stop-color="#fff000"/><stop offset="0.83" stop-color="#ff8a00"/><stop offset="1.00" stop-color="#fa0000"/></linearGradient><linearGradient id="g188" x2="0" y2="1"><stop offset="0.00" stop-color="#fa0000"/><stop offset="0.17" stop-color="#ff8a00"/><stop offset="0.33" stop-color="#fff000"/><stop offset="0.50" stop-color="#c2ff3d"/><stop offset="0.67" stop-color="#7aff85"/><stop offset="0.83" stop-color="#3fffc0"/><stop offset="1.00" stop-color="#05fffa"/></linearGradient><linearGradient id="g189" x2="0" y2="1"><stop offset="0.00" stop-color="#00feff"/><stop offset="0.17" stop-color="#2bffd4"/><stop offset="0.33" stop-color="#57ffa8"/><stop offset="0.50" stop-color="#99ff66"/><stop offset="0.67" stop-color="#dfff20"/><stop offset="0.83" stop-color="#ffb500"/><stop offset="1.00" stop-color="#ff2500"/></linearGradient><linearGradient id="g190" x2="0" y2="1"><stop offset="0.00" stop-color="#ff2500"/><stop offset="0.17" stop-color="#ffb500"/><stop offset="0.33" stop-color="#dfff20"/><stop offset="0.50" stop-color="#99ff66"/><stop offset="0.67" stop-color="#57ffa8"/><stop offset="0.83" stop-color="#2bffd4"/><stop offset="1.00" stop-color="#00feff"/></linearGradient><linearGradient id="g191" x2="0" y2="1"><stop offset="0.00" stop-color="#00f1ff"/><stop offset="0.17" stop-color="#02fffd"/><stop offset="0.33" stop-color="#12ffed"/><stop offset="0.50" stop-color="#47ffb8"/><stop offset="0.67" stop-color="#81ff7e"/><stop offset="0.83" stop-color="#f3ff0c"/><stop offset="1.00" stop-color="#ff7a00"/></linearGradient><linearGradient id="g192" x2="0" y2="1"><stop offset="0.00" stop-color="#ff7a00"/><stop offset="0.17" stop-color="#f3ff0c"/><stop offset="0.33" stop-color="#81ff7e"/><stop offset="0.50" stop-color="#47ffb8"/><stop offset="0.67" stop-color="#12ffed"/><stop offset="0.83" stop-color="#02fffd"/><stop offset="1.00" stop-color="#00f1ff"/></linearGradient><linearGradient id="g193" x2="0" y2="1"><stop offset="0.00" stop-color="#00e3ff"/><stop offset="0.17" stop-color="#00d8ff"/><stop offset="0.33" stop-color="#00ccff"/><stop offset="0.50" stop-color="#00f4ff"/><stop offset="0.67" stop-color="#24ffdb"/><stop offset="0.83" stop-color="#9dff62"/><stop offset="1.00" stop-color="#ffcf00"/></linearGradient><linearGradient id="g194" x2="0" y2="1"><stop offset="0.00" stop-color="#ffcf00"/><stop offset="0.17" stop-color="#9dff62"/><stop offset="0.33" stop-color="#24ffdb"/><stop offset="0.50" stop-color="#00f4ff"/><stop offset="0.67" stop-color="#00ccff"/><stop offset="0.83" stop-color="#00d8ff"/><stop offset="1.00" stop-color="#00e3ff"/></linearGradient><linearGradient id="g195" x2="0" y2="1"><stop offset="0.00" stop-color="#00dbff"/><stop offset="0.17" stop-color="#00beff"/><stop offset="0.33" stop-color="#00a1ff"/><stop offset="0.50" stop-color="#00c1ff"/><stop offset="0.67" stop-color="#00e8ff"/><stop offset="0.83" stop-color="#67ff98"/><stop offset="1.00" stop-color="#faff05"/></linearGradient><linearGradient id="g196" x2="0" y2="1"><stop offset="0.00" stop-color="#faff05"/><stop offset="0.17" stop-color="#67ff98"/><stop offset="0.33" stop-color="#00e8ff"/><stop offset="0.50" stop-color="#00c1ff"/><stop offset="0.67" stop-color="#00a1ff"/><stop offset="0.83" stop-color="#00beff"/><stop offset="1.00" stop-color="#00dbff"/></linearGradient><linearGradient id="g197" x2="0" y2="1"><stop offset="0.00" stop-color="#00dbff"/><stop offset="0.17" stop-color="#00beff"/><stop offset="0.33" stop-color="#00a1ff"/><stop offset="0.50" stop-color="#00c1ff"/><stop offset="0.67" stop-color="#00e8ff"/><stop offset="0.83" stop-color="#67ff98"/><stop offset="1.00" stop-color="#faff05"/></linearGradient><linearGradient id="g198" x2="0" y2="1"><stop offset="0.00" stop-color="#faff05"/><stop offset="0.17" stop-color="#67ff98"/><stop offset="0.33" stop-color="#00e8ff"/><stop offset="0.50" stop-color="#00c1ff"/><stop offset="0.67" stop-color="#00a1ff"/><stop offset="0.83" stop-color="#00beff"/><stop offset="1.00" stop-color="#00dbff"/></linearGradient><linearGradient id="g199" x2="0" y2="1"><stop offset="0.00" stop-color="#00dbff"/><stop offset="0.17" stop-color="#00beff"/><stop offset="0.33" stop-color="#00a1ff"/><stop offset="0.50" stop-color="#00c1ff"/><stop offset="0.67" stop-color="#00e8ff"/><stop offset="0.83" stop-color="#67ff98"/><stop offset="1.00" stop-color="#faff05"/></linearGradient><linearGradient id="g200" x2="0" y2="1"><stop offset="0.00" stop-color="#faff05"/><stop offset="0.17" stop-color="#67ff98"/><stop offset="0.33" stop-color="#00e8ff"/><stop offset="0.50" stop-color="#00c1ff"/><stop offset="0.67" stop-color="#00a1ff"/><stop offset="0.83" stop-color="#00beff"/><stop offset="1.00" stop-color="#00dbff"/></linearGradient><linearGradient id="g201" x2="0" y2="1"><stop offset="0.00" stop-color="#00dbff"/><stop offset="0.17" stop-color="#00beff"/><stop offset="0.33" stop-color="#00a1ff"/><stop offset="0.50" stop-color="#00c1ff"/><stop offset="0.67" stop-color="#00e8ff"/><stop offset="0.83" stop-color="#67ff98"/><stop offset="1.00" stop-color="#faff05"/></linearGradient><linearGradient id="g202" x2="0" y2="1"><stop offset="0.00" stop-color="#faff05"/><stop offset="0.17" stop-color="#67ff98"/><stop offset="0.33" stop-color="#00e8ff"/><stop offset="0.50" stop-color="#00c1ff"/><stop offset="0.67" stop-color="#00a1ff"/><stop offset="0.83" stop-color="#00beff"/><stop offset="1.00" stop-color="#00dbff"/></linearGradient><linearGradient id="g203" x2="0" y2="1"><stop offset="0.00" stop-color="#00dbff"/><stop offset="0.17" stop-color="#00beff"/><stop offset="0.33" stop-color="#00a1ff"/><stop offset="0.50" stop-color="#00c1ff"/><stop offset="0.67" stop-color="#00e8ff"/><stop offset="0.83" stop-color="#67ff98"/><stop offset="1.00" stop-color="#faff05"/></linearGradient><linearGradient id="g204" x2="0" y2="1"><stop offset="0.00" stop-color="#faff05"/><stop offset="0.17" stop-color="#67ff98"/><stop offset="0.33" stop-color="#00e8ff"/><stop offset="0.50" stop-color="#00c1ff"/><stop offset="0.67" stop-color="#00a1ff"/><stop offset="0.83" stop-color="#00beff"/><stop offset="1.00" stop-color="#00dbff"/></linearGradient><linearGradient id="g205" x2="0" y2="1"><stop offset="0.00" stop-color="#00dbff"/><stop offset="0.17" stop-color="#00beff"/><stop offset="0.33" stop-color="#00a1ff"/><stop offset="0.50" stop-color="#00c1ff"/><stop offset="0.67" stop-color="#00e8ff"/><stop offset="0.83" stop-color="#67ff98"/><stop offset="1.00" stop-color="#faff05"/></linearGradient><linearGradient id="g206" x2="0" y2="1"><stop offset="0.00" stop-color="#faff05"/><stop offset="0.17" stop-color="#67ff98"/><stop offset="0.33" stop-color="#00e8ff"/><stop offset="0.50" stop-color="#00c1ff"/><stop offset="0.67" stop-color="#00a1ff"/><stop offset="0.83" stop-color="#00beff"/><stop offset="1.00" stop-color="#00dbff"/></linearGradient><linearGradient id="g207" x2="0" y2="1"><stop offset="0.00" stop-color="#00dbff"/><stop offset="0.17" stop-color="#00beff"/><stop offset="0.33" stop-color="#00a1ff"/><stop offset="0.50" stop-color="#00c1ff"/><stop offset="0.67" stop-color="#00e8ff"/><stop offset="0.83" stop-color="#67ff98"/><stop offset="1.00" stop-color="#faff05"/></linearGradient><linearGradient id="g208" x2="0" y2="1"><stop offset="0.00" stop-color="#faff05"/><stop offset="0.17" stop-color="#67ff98"/><stop offset="0.33" stop-color="#00e8ff"/><stop offset="0.50" stop-color="#00c1ff"/><stop offset="0.67" stop-color="#00a1ff"/><stop offset="0.83" stop-color="#00beff"/><stop offset="1.00" stop-color="#00dbff"/></linearGradient><linearGradient id="g209" x2="0" y2="1"><stop offset="0.00" stop-color="#00dbff"/><stop offset="0.17" stop-color="#00beff"/><stop offset="0.33" stop-color="#00a1ff"/><stop offset="0.50" stop-color="#00c1ff"/><stop offset="0.67" stop-color="#00e8ff"/><stop offset="0.83" stop-color="#67ff98"/><stop offset="1.00" stop-color="#faff05"/></linearGradient><linearGradient id="g210" x2="0" y2="1"><stop offset="0.00" stop-color="#faff05"/><stop offset="0.17" stop-color="#67ff98"/><stop offset="0.33" stop-color="#00e8ff"/><stop offset="0.50" stop-color="#00c1ff"/><stop offset="0.67" stop-color="#00a1ff"/><stop offset="0.83" stop-color="#00beff"/><stop offset="1.00" stop-color="#00dbff"/></linearGradient><linearGradient id="g211" x2="0" y2="1"><stop offset="0.00" stop-color="#00e3ff"/><stop offset="0.17" stop-color="#00d8ff"/><stop offset="0.33" stop-color="#00ccff"/><stop offset="0.50" stop-color="#00f4ff"/><stop offset="0.67" stop-color="#24ffdb"/><stop offset="0.83" stop-color="#9dff62"/><stop offset="1.00" stop-color="#ffcf00"/></linearGradient><linearGradient id="g212" x2="0" y2="1"><stop offset="0.00" stop-color="#ffcf00"/><stop offset="0.17" stop-color="#9dff62"/><stop offset="0.33" stop-color="#24ffdb"/><stop offset="0.50" stop-color="#00f4ff"/><stop offset="0.67" stop-color="#00ccff"/><stop offset="0.83" stop-color="#00d8ff"/><stop offset="1.00" stop-color="#00e3ff"/></linearGradient><linearGradient id="g213" x2="0" y2="1"><stop offset="0.00" stop-color="#00f1ff"/><stop offset="0.17" stop-color="#02fffd"/><stop offset="0.33" stop-color="#12ffed"/><stop offset="0.50" stop-color="#47ffb8"/><stop offset="0.67" stop-color="#81ff7e"/><stop offset="0.83" stop-color="#f3ff0c"/><stop offset="1.00" stop-color="#ff7a00"/></linearGradient><linearGradient id="g214" x2="0" y2="1"><stop offset="0.00" stop-color="#ff7a00"/><stop offset="0.17" stop-color="#f3ff0c"/><stop offset="0.33" stop-color="#81ff7e"/><stop offset="0.50" stop-color="#47ffb8"/><stop offset="0.67" stop-color="#12ffed"/><stop offset="0.83" stop-color="#02fffd"/><stop offset="1.00" stop-color="#00f1ff"/></linearGradient><linearGradient id="g215" x2="0" y2="1"><stop offset="0.00" stop-color="#00feff"/><stop offset="0.17" stop-color="#2bffd4"/><stop offset="0.33" stop-color="#57ffa8"/><stop offset="0.50" stop-color="#99ff66"/><stop offset="0.67" stop-color="#dfff20"/><stop offset="0.83" stop-color="#ffb500"/><stop offset="1.00" stop-color="#ff2500"/></linearGradient><linearGradient id="g216" x2="0" y2="1"><stop offset="0.00" stop-color="#ff2500"/><stop offset="0.17" stop-color="#ffb500"/><stop offset="0.33" stop-color="#dfff20"/><stop offset="0.50" stop-color="#99ff66"/><stop offset="0.67" stop-color="#57ffa8"/><stop offset="0.83" stop-color="#2bffd4"/><stop offset="1.00" stop-color="#00feff"/></linearGradient><linearGradient id="g217" x2="0" y2="1"><stop offset="0.00" stop-color="#05fffa"/><stop offset="0.17" stop-color="#3fffc0"/><stop offset="0.33" stop-color="#7aff85"/><stop offset="0.50" stop-color="#c2ff3d"/><stop offset="0.67" stop-color="#fff000"/><stop offset="0.83" stop-color="#ff8a00"/><stop offset="1.00" stop-color="#fa0000"/></linearGradient><linearGradient id="g218" x2="0" y2="1"><stop offset="0.00" stop-color="#fa0000"/><stop offset="0.17" stop-color="#ff8a00"/><stop offset="0.33" stop-color="#fff000"/><stop offset="0.50" stop-color="#c2ff3d"/><stop offset="0.67" stop-color="#7aff85"/><stop offset="0.83" stop-color="#3fffc0"/><stop offset="1.00" stop-color="#05fffa"/></linearGradient><linearGradient id="g219" x2="0" y2="1"><stop offset="0.00" stop-color="#05fffa"/><stop offset="0.17" stop-color="#3fffc0"/><stop offset="0.33" stop-color="#7aff85"/><stop offset="0.50" stop-color="#c2ff3d"/><stop offset="0.67" stop-color="#fff000"/><stop offset="0.83" stop-color="#ff8a00"/><stop offset="1.00" stop-color="#fa0000"/></linearGradient><linearGradient id="g220" x2="0" y2="1"><stop offset="0.00" stop-color="#fa0000"/><stop offset="0.17" stop-color="#ff8a00"/><stop offset="0.33" stop-color="#fff000"/><stop offset="0.50" stop-color="#c2ff3d"/><stop offset="0.67" stop-color="#7aff85"/><stop offset="0.83" stop-color="#3fffc0"/><stop offset="1.00" stop-color="#05fffa"/></linearGradient><linearGradient id="g221" x2="0" y2="1"><stop offset="0.00" stop-color="#05fffa"/><stop offset="0.17" stop-color="#3fffc0"/><stop offset="0.33" stop-color="#7aff85"/><stop offset="0.50" stop-color="#c2ff3d"/><stop offset="0.67" stop-color="#fff000"/><stop offset="0.83" stop-color="#ff8a00"/><stop offset="1.00" stop-color="#fa0000"/></linearGradient><linearGradient id="g222" x2="0" y2="1"><stop offset="0.00" stop-color="#fa0000"/><stop offset="0.17" stop-color="#ff8a00"/><stop offset="0.33" stop-color="#fff000"/><stop offset="0.50" stop-color="#c2ff3d"/><stop offset="0.67" stop-color="#7aff85"/><stop offset="0.83" stop-color="#3fffc0"/><stop offset="1.00" stop-color="#05fffa"/></linearGradient><linearGradient id="g223" x2="0" y2="1"><stop offset="0.00" stop-color="#05fffa"/><stop offset="0.17" stop-color="#3fffc0"/><stop offset="0.33" stop-color="#7aff85"/><stop offset="0.50" stop-color="#c2ff3d"/><stop offset="0.67" stop-color="#fff000"/><stop offset="0.83" stop-color="#ff8a00"/><stop offset="1.00" stop-color="#fa0000"/></linearGradient><linearGradient id="g224" x2="0" y2="1"><stop offset="0.00" stop-color="#fa0000"/><stop offset="0.17" stop-color="#ff8a00"/><stop offset="0.33" stop-color="#fff000"/><stop offset="0.50" stop-color="#c2ff3d"/><stop offset="0.67" stop-color="#7aff85"/><stop offset="0.83" stop-color="#3fffc0"/><stop offset="1.00" stop-color="#05fffa"/></linearGradient><linearGradient id="g225" x2="0" y2="1"><stop offset="0.00" stop-color="#05fffa"/><stop offset="0.17" stop-color="#3fffc0"/><stop offset="0.33" stop-color="#7aff85"/><stop offset="0.50" stop-color="#c2ff3d"/><stop offset="0.67" stop-color="#fff000"/><stop offset="0.83" stop-color="#ff8a00"/><stop offset="1.00" stop-color="#fa0000"/></linearGradient><linearGradient id="g226" x2="0" y2="1"><stop offset="0.00" stop-color="#fa0000"/><stop offset="0.17" stop-color="#ff8a00"/><stop offset="0.33" stop-color="#fff000"/><stop offset="0.50" stop-color="#c2ff3d"/><stop offset="0.67" stop-color="#7aff85"/><stop offset="0.83" stop-color="#3fffc0"/><stop offset="1.00" stop-color="#05fffa"/></linearGradient><linearGradient id="g227" x2="0" y2="1"><stop offset="0.00" stop-color="#05fffa"/><stop offset="0.17" stop-color="#3fffc0"/><stop offset="0.33" stop-color="#7aff85"/><stop offset="0.50" stop-color="#c2ff3d"/><stop offset="0.67" stop-color="#fff000"/><stop offset="0.83" stop-color="#ff8a00"/><stop offset="1.00" stop-color="#fa0000"/></linearGradient><linearGradient id="g228" x2="0" y2="1"><stop offset="0.00" stop-color="#fa0000"/><stop offset="0.17" stop-color="#ff8a00"/><stop offset="0.33" stop-color="#fff000"/><stop offset="0.50" stop-color="#c2ff3d"/><stop offset="0.67" stop-color="#7aff85"/><stop offset="0.83" stop-color="#3fffc0"/><stop offset="1.00" stop-color="#05fffa"/></linearGradient><linearGradient id="g229" x2="0" y2="1"><stop offset="0.00" stop-color="#05fffa"/><stop offset="0.17" stop-color="#3fffc0"/><stop offset="0.33" stop-color="#7aff85"/><stop offset="0.50" stop-color="#c2ff3d"/><stop offset="0.67" stop-color="#fff000"/><stop offset="0.83" stop-color="#ff8a00"/><stop offset="1.00" stop-color="#fa0000"/></linearGradient><linearGradient id="g230" x2="0" y2="1"><stop offset="0.00" stop-color="#fa0000"/><stop offset="0.17" stop-color="#ff8a00"/><stop offset="0.33" stop-color="#fff000"/><stop offset="0.50" stop-color="#c2ff3d"/><stop offset="0.67" stop-color="#7aff85"/><stop offset="0.83" stop-color="#3fffc0"/><stop offset="1.00" stop-color="#05fffa"/></linearGradient><linearGradient id="g231" x2="0" y2="1"><stop offset="0.00" stop-color="#05fffa"/><stop offset="0.17" stop-color="#3fffc0"/><stop offset="0.33" stop-color="#7aff85"/><stop offset="0.50" stop-color="#c2ff3d"/><stop offset="0.67" stop-color="#fff000"/><stop offset="0.83" stop-color="#ff8a00"/><stop offset="1.00" stop-color="#fa0000"/></linearGradient><linearGradient id="g232" x2="0" y2="1"><stop offset="0.00" stop-color="#fa0000"/><stop offset="0.17" stop-color="#ff8a00"/><stop offset="0.33" stop-color="#fff000"/><stop offset="0.50" stop-color="#c2ff3d"/><stop offset="0.67" stop-color="#7aff85"/><stop offset="0.83" stop-color="#3fffc0"/><stop offset="1.00" stop-color="#05fffa"/></linearGradient><linearGradient id="g233" x2="0" y2="1"><stop offset="0.00" stop-color="#05fffa"/><stop offset="0.17" stop-color="#3fffc0"/><stop offset="0.33" stop-color="#7aff85"/><stop offset="0.50" stop-color="#c2ff3d"/><stop offset="0.67" stop-color="#fff000"/><stop offset="0.83" stop-color="#ff8a00"/><stop offset="1.00" stop-color="#fa0000"/></linearGradient><linearGradient id="g234" x2="0" y2="1"><stop offset="0.00" stop-color="#fa0000"/><stop offset="0.17" stop-color="#ff8a00"/><stop offset="0.33" stop-color="#fff000"/><stop offset="0.50" stop-color="#c2ff3d"/><stop offset="0.67" stop-color="#7aff85"/><stop offset="0.83" stop-color="#3fffc0"/><stop offset="1.00" stop-color="#05fffa"/></linearGradient><linearGradient id="g235" x2="0" y2="1"><stop offset="0.00" stop-color="#05fffa"/><stop offset="0.17" stop-color="#3fffc0"/><stop offset="0.33" stop-color="#7aff85"/><stop offset="0.50" stop-color="#c2ff3d"/><stop offset="0.67" stop-color="#fff000"/><stop offset="0.83" stop-color="#ff8a00"/><stop offset="1.00" stop-color="#fa0000"/></linearGradient><linearGradient id="g236" x2="0" y2="1"><stop offset="0.00" stop-color="#fa0000"/><stop offset="0.17" stop-color="#ff8a00"/><stop offset="0.33" stop-color="#fff000"/><stop offset="0.50" stop-color="#c2ff3d"/><stop offset="0.67" stop-color="#7aff85"/><stop offset="0.83" stop-color="#3fffc0"/><stop offset="1.00" stop-color="#05fffa"/></linearGradient><linearGradient id="g237" x2="0" y2="1"><stop offset="0.00" stop-color="#05fffa"/><stop offset="0.17" stop-color="#3fffc0"/><stop offset="0.33" stop-color="#7aff85"/><stop offset="0.50" stop-color="#c2ff3d"/><stop offset="0.67" stop-color="#fff000"/><stop offset="0.83" stop-color="#ff8a00"/><stop offset="1.00" stop-color="#fa0000"/></linearGradient><linearGradient id="g238" x2="0" y2="1"><stop offset="0.00" stop-color="#fa0000"/><stop offset="0.17" stop-color="#ff8a00"/><stop offset="0.33" stop-color="#fff000"/><stop offset="0.50" stop-color="#c2ff3d"/><stop offset="0.67" stop-color="#7aff85"/><stop offset="0.83" stop-color="#3fffc0"/><stop offset="1.00" stop-color="#05fffa"/></linearGradient><linearGradient id="g239" x2="0" y2="1"><stop offset="0.00" stop-color="#05fffa"/><stop offset="0.17" stop-color="#3fffc0"/><stop offset="0.33" stop-color="#7aff85"/><stop offset="0.50" stop-color="#c2ff3d"/><stop offset="0.67" stop-color="#fff000"/><stop offset="0.83" stop-color="#ff8a00"/><stop offset="1.00" stop-color="#fa0000"/></linearGradient><linearGradient id="g240" x2="0" y2="1"><stop offset="0.00" stop-color="#fa0000"/><stop offset="0.17" stop-color="#ff8a00"/><stop offset="0.33" stop-color="#fff000"/><stop offset="0.50" stop-color="#c2ff3d"/><stop offset="0.67" stop-color="#7aff85"/><stop offset="0.83" stop-color="#3fffc0"/><stop offset="1.00" stop-color="#05fffa"/></linearGradient><linearGradient id="g241" x2="0" y2="1"><stop offset="0.00" stop-color="#05fffa"/><stop offset="0.17" stop-color="#3fffc0"/><stop offset="0.33" stop-color="#7aff85"/><stop offset="0.50" stop-color="#c2ff3d"/><stop offset="0.67" stop-color="#fff000"/><stop offset="0.83" stop-color="#ff8a00"/><stop offset="1.00" stop-color="#fa0000"/></linearGradient><linearGradient id="g242" x2="0" y2="1"><stop offset="0.00" stop-color="#fa0000"/><stop offset="0.17" stop-color="#ff8a00"/><stop offset="0.33" stop-color="#fff000"/><stop offset="0.50" stop-color="#c2ff3d"/><stop offset="0.67" stop-color="#7aff85"/><stop offset="0.83" stop-color="#3fffc0"/><stop offset="1.00" stop-color="#05fffa"/></linearGradient><linearGradient id="g243" x2="0" y2="1"><stop offset="0.00" stop-color="#05fffa"/><stop offset="0.17" stop-color="#3fffc0"/><stop offset="0.33" stop-color="#7aff85"/><stop offset="0.50" stop-color="#c2ff3d"/><stop offset="0.67" stop-color="#fff000"/><stop offset="0.83" stop-color="#ff8a00"/><stop offset="1.00" stop-color="#fa0000"/></linearGradient><linearGradient id="g244" x2="0" y2="1"><stop offset="0.00" stop-color="#fa0000"/><stop offset="0.17" stop-color="#ff8a00"/><stop offset="0.33" stop-color="#fff000"/><stop offset="0.50" stop-color="#c2ff3d"/><stop offset="0.67" stop-color="#7aff85"/><stop offset="0.83" stop-color="#3fffc0"/><stop offset="1.00" stop-color="#05fffa"/></linearGradient><linearGradient id="g245" x2="0" y2="1"><stop offset="0.00" stop-color="#05fffa"/><stop offset="0.17" stop-color="#3fffc0"/><stop offset="0.33" stop-color="#7aff85"/><stop offset="0.50" stop-color="#c2ff3d"/><stop offset="0.67" stop-color="#fff000"/><stop offset="0.83" stop-color="#ff8a00"/><stop offset="1.00" stop-color="#fa0000"/></linearGradient><linearGradient id="g246" x2="0" y2="1"><stop offset="0.00" stop-color="#fa0000"/><stop offset="0.17" stop-color="#ff8a00"/><stop offset="0.33" stop-color="#fff000"/><stop offset="0.50" stop-color="#c2ff3d"/><stop offset="0.67" stop-color="#7aff85"/><stop offset="0.83" stop-color="#3fffc0"/><stop offset="1.00" stop-color="#05fffa"/></linearGradient><linearGradient id="g247" x2="0" y2="1"><stop offset="0.00" stop-color="#05fffa"/><stop offset="0.17" stop-color="#3fffc0"/><stop offset="0.33" stop-color="#7aff85"/><stop offset="0.50" stop-color="#c2ff3d"/><stop offset="0.67" stop-color="#fff000"/><stop offset="0.83" stop-color="#ff8a00"/><stop offset="1.00" stop-color="#fa0000"/></linearGradient><linearGradient id="g248" x2="0" y2="1"><stop offset="0.00" stop-color="#fa0000"/><stop offset="0.17" stop-color="#ff8a00"/><stop offset="0.33" stop-color="#fff000"/><stop offset="0.50" stop-color="#c2ff3d"/><stop offset="0.67" stop-color="#7aff85"/><stop offset="0.83" stop-color="#3fffc0"/><stop offset="1.00" stop-color="#05fffa"/></linearGradient><linearGradient id="g249" x2="0" y2="1"><stop offset="0.00" stop-color="#05fffa"/><stop offset="0.17" stop-color="#3fffc0"/><stop offset="0.33" stop-color="#7aff85"/><stop offset="0.50" stop-color="#c2ff3d"/><stop offset="0.67" stop-color="#fff000"/><stop offset="0.83" stop-color="#ff8a00"/><stop offset="1.00" stop-color="#fa0000"/></linearGradient><linearGradient id="g250" x2="0" y2="1"><stop offset="0.00" stop-color="#fa0000"/><stop offset="0.17" stop-color="#ff8a00"/><stop offset="0.33" stop-color="#fff000"/><stop offset="0.50" stop-color="#c2ff3d"/><stop offset="0.67" stop-color="#7aff85"/><stop offset="0.83" stop-color="#3fffc0"/><stop offset="1.00" stop-color="#05fffa"/></linearGradient><linearGradient id="g251" x2="0" y2="1"><stop offset="0.00" stop-color="#05fffa"/><stop offset="0.17" stop-color="#3fffc0"/><stop offset="0.33" stop-color="#7aff85"/><stop offset="0.50" stop-color="#c2ff3d"/><stop offset="0.67" stop-color="#fff000"/><stop offset="0.83" stop-color="#ff8a00"/><stop offset="1.00" stop-color="#fa0000"/></linearGradient><linearGradient id="g252" x2="0" y2="1"><stop offset="0.00" stop-color="#fa0000"/><stop offset="0.17" stop-color="#ff8a00"/><stop offset="0.33" stop-color="#fff000"/><stop offset="0.50" stop-color="#c2ff3d"/><stop offset="0.67" stop-color="#7aff85"/><stop offset="0.83" stop-color="#3fffc0"/><stop offset="1.00" stop-color="#05fffa"/></linearGradient><linearGradient id="g253" x2="0" y2="1"><stop offset="0.00" stop-color="#fff000"/><stop offset="0.12" stop-color="#e0ff1f"/><stop offset="0.25" stop-color="#b5ff4a"/><stop offset="0.38" stop-color="#8cff73"/><stop offset="0.50" stop-color="#6bff94"/><stop offset="0.62" stop-color="#8cff73"/><stop offset="0.75" stop-color="#b5ff4a"/><stop offset="0.88" stop-color="#e0ff1f"/><stop offset="1.00" stop-color="#fff000"/></linearGradient><linearGradient id="g254" x2="0" y2="1"><stop offset="0.00" stop-color="#fff000"/><stop offset="0.12" stop-color="#dfff20"/><stop offset="0.25" stop-color="#b2ff4d"/><stop offset="0.38" stop-color="#88ff77"/><stop offset="0.50" stop-color="#66ff99"/><stop offset="0.62" stop-color="#88ff77"/><stop offset="0.75" stop-color="#b2ff4d"/><stop offset="0.88" stop-color="#dfff20"/><stop offset="1.00" stop-color="#fff000"/></linearGradient><linearGradient id="g255" x2="0" y2="1"><stop offset="0.00" stop-color="#fff000"/><stop offset="0.12" stop-color="#ddff22"/><stop offset="0.25" stop-color="#afff50"/><stop offset="0.38" stop-color="#84ff7b"/><stop offset="0.50" stop-color="#60ff9f"/><stop offset="0.62" stop-color="#84ff7b"/><stop offset="0.75" stop-color="#afff50"/><stop offset="0.88" stop-color="#ddff22"/><stop offset="1.00" stop-color="#fff000"/></linearGradient><linearGradient id="g256" x2="0" y2="1"><stop offset="0.00" stop-color="#fff000"/><stop offset="0.12" stop-color="#dcff23"/><stop offset="0.25" stop-color="#acff53"/><stop offset="0.38" stop-color="#7fff80"/><stop offset="0.50" stop-color="#5bffa4"/><stop offset="0.62" stop-color="#7fff80"/><stop offset="0.75" stop-color="#acff53"/><stop offset="0.88" stop-color="#dcff23"/><stop offset="1.00" stop-color="#fff000"/></linearGradient><linearGradient id="g257" x2="0" y2="1"><stop offset="0.00" stop-color="#fff000"/><stop offset="0.12" stop-color="#daff25"/><stop offset="0.25" stop-color="#a9ff56"/><stop offset="0.38" stop-color="#7bff84"/><stop offset="0.50" stop-color="#55ffaa"/><stop offset="0.62" stop-color="#7bff84"/><stop offset="0.75" stop-color="#a9ff56"/><stop offset="0.88" stop-color="#daff25"/><stop offset="1.00" stop-color="#fff000"/></linearGradient><linearGradient id="g258" x2="0" y2="1"><stop offset="0.00" stop-color="#fff000"/><stop offset="0.12" stop-color="#d9ff26"/><stop offset="0.25" stop-color="#a6ff59"/><stop offset="0.38" stop-color="#77ff88"/><stop offset="0.50" stop-color="#50ffaf"/><stop offset="0.62" stop-color="#77ff88"/><stop offset="0.75" stop-color="#a6ff59"/><stop offset="0.88" stop-color="#d9ff26"/><stop offset="1.00" stop-color="#fff000"/></linearGradient><linearGradient id="g259" x2="0" y2="1"><stop offset="0.00" stop-color="#fff000"/><stop offset="0.12" stop-color="#d7ff28"/><stop offset="0.25" stop-color="#a3ff5c"/><stop offset="0.38" stop-color="#72ff8d"/><stop offset="0.50" stop-color="#4affb5"/><stop offset="0.62" stop-color="#72ff8d"/><stop offset="0.75" stop-color="#a3ff5c"/><stop offset="0.88" stop-color="#d7ff28"/><stop offset="1.00" stop-color="#fff000"/></linearGradient><linearGradient id="g260" x2="0" y2="1"><stop offset="0.00" stop-color="#fff000"/><stop offset="0.12" stop-color="#d6ff29"/><stop offset="0.25" stop-color="#a0ff5f"/><stop offset="0.38" stop-color="#6eff91"/><stop offset="0.50" stop-color="#45ffba"/><stop offset="0.62" stop-color="#6eff91"/><stop offset="0.75" stop-color="#a0ff5f"/><stop offset="0.88" stop-color="#d6ff29"/><stop offset="1.00" stop-color="#fff000"/></linearGradient><linearGradient id="g261" x2="0" y2="1"><stop offset="0.00" stop-color="#fff000"/><stop offset="0.12" stop-color="#d4ff2b"/><stop offset="0.25" stop-color="#9dff62"/><stop offset="0.38" stop-color="#6aff95"/><stop offset="0.50" stop-color="#40ffbf"/><stop offset="0.62" stop-color="#6aff95"/><stop offset="0.75" stop-color="#9dff62"/><stop offset="0.88" stop-color="#d4ff2b"/><stop offset="1.00" stop-color="#fff000"/></linearGradient><linearGradient id="g262" x2="0" y2="1"><stop offset="0.00" stop-color="#fff000"/><stop offset="0.12" stop-color="#d3ff2c"/><stop offset="0.25" stop-color="#9aff65"/><stop offset="0.38" stop-color="#65ff9a"/><stop offset="0.50" stop-color="#3affc5"/><stop offset="0.62" stop-color="#65ff9a"/><stop offset="0.75" stop-color="#9aff65"/><stop offset="0.88" stop-color="#d3ff2c"/><stop offset="1.00" stop-color="#fff000"/></linearGradient><linearGradient id="g263" x2="0" y2="1"><stop offset="0.00" stop-color="#fff000"/><stop offset="0.12" stop-color="#d0ff2f"/><stop offset="0.25" stop-color="#94ff6b"/><stop offset="0.38" stop-color="#5dffa2"/><stop offset="0.50" stop-color="#30ffcf"/><stop offset="0.62" stop-color="#5dffa2"/><stop offset="0.75" stop-color="#94ff6b"/><stop offset="0.88" stop-color="#d0ff2f"/><stop offset="1.00" stop-color="#fff000"/></linearGradient><linearGradient id="g264" x2="0" y2="1"><stop offset="0.00" stop-color="#fff000"/><stop offset="0.12" stop-color="#ccff33"/><stop offset="0.25" stop-color="#8dff72"/><stop offset="0.38" stop-color="#53ffac"/><stop offset="0.50" stop-color="#23ffdc"/><stop offset="0.62" stop-color="#53ffac"/><stop offset="0.75" stop-color="#8dff72"/><stop offset="0.88" stop-color="#ccff33"/><stop offset="1.00" stop-color="#fff000"/></linearGradient><linearGradient id="g265" x2="0" y2="1"><stop offset="0.00" stop-color="#fff000"/><stop offset="0.12" stop-color="#c8ff37"/><stop offset="0.25" stop-color="#86ff79"/><stop offset="0.38" stop-color="#48ffb7"/><stop offset="0.50" stop-color="#16ffe9"/><stop offset="0.62" stop-color="#48ffb7"/><stop offset="0.75" stop-color="#86ff79"/><stop offset="0.88" stop-color="#c8ff37"/><stop offset="1.00" stop-color="#fff000"/></linearGradient><linearGradient id="g266" x2="0" y2="1"><stop offset="0.00" stop-color="#fff000"/><stop offset="0.12" stop-color="#c5ff3a"/><stop offset="0.25" stop-color="#7fff80"/><stop offset="0.38" stop-color="#3effc1"/><stop offset="0.50" stop-color="#09fff6"/><stop offset="0.62" stop-color="#3effc1"/><stop offset="0.75" stop-color="#7fff80"/><stop offset="0.88" stop-color="#c5ff3a"/><stop offset="1.00" stop-color="#fff000"/></linearGradient><linearGradient id="g267" x2="0" y2="1"><stop offset="0.00" stop-color="#fff000"/><stop offset="0.12" stop-color="#c1ff3e"/><stop offset="0.25" stop-color="#77ff88"/><stop offset="0.38" stop-color="#33ffcc"/><stop offset="0.50" stop-color="#00fbff"/><stop offset="0.62" stop-color="#33ffcc"/><stop offset="0.75" stop-color="#77ff88"/><stop offset="0.88" stop-color="#c1ff3e"/><stop offset="1.00" stop-color="#fff000"/></linearGradient><linearGradient id="g268" x2="0" y2="1"><stop offset="0.00" stop-color="#fff000"/><stop offset="0.12" stop-color="#bdff42"/><stop offset="0.25" stop-color="#70ff8f"/><stop offset="0.38" stop-color="#29ffd6"/><stop offset="0.50" stop-color="#00eeff"/><stop offset="0.62" stop-color="#29ffd6"/><stop offset="0.75" stop-color="#70ff8f"/><stop offset="0.88" stop-color="#bdff42"/><stop offset="1.00" stop-color="#fff000"/></linearGradient><linearGradient id="g269" x2="0" y2="1"><stop offset="0.00" stop-color="#fff000"/><stop offset="0.12" stop-color="#b9ff46"/><stop offset="0.25" stop-color="#68ff97"/><stop offset="0.38" stop-color="#1effe1"/><stop offset="0.50" stop-color="#00dfff"/><stop offset="0.62" stop-color="#1effe1"/><stop offset="0.75" stop-color="#68ff97"/><stop offset="0.88" stop-color="#b9ff46"/><stop offset="1.00" stop-color="#fff000"/></linearGradient><linearGradient id="g270" x2="0" y2="1"><stop offset="0.00" stop-color="#fff000"/><stop offset="0.12" stop-color="#b5ff4a"/><stop offset="0.25" stop-color="#5fffa0"/><stop offset="0.38" stop-color="#11ffee"/><stop offset="0.50" stop-color="#00cfff"/><stop offset="0.62" stop-color="#11ffee"/><stop offset="0.75" stop-color="#5fffa0"/><stop offset="0.88" stop-color="#b5ff4a"/><stop offset="1.00" stop-color="#fff000"/></linearGradient><linearGradient id="g271" x2="0" y2="1"><stop offset="0.00" stop-color="#fff000"/><stop offset="0.12" stop-color="#b0ff4f"/><stop offset="0.25" stop-color="#57ffa8"/><stop offset="0.38" stop-color="#04fffb"/><stop offset="0.50" stop-color="#00bfff"/><stop offset="0.62" stop-color="#04fffb"/><stop offset="0.75" stop-color="#57ffa8"/><stop offset="0.88" stop-color="#b0ff4f"/><stop offset="1.00" stop-color="#fff000"/></linearGradient><linearGradient id="g272" x2="0" y2="1"><stop offset="0.00" stop-color="#fff000"/><stop offset="0.12" stop-color="#adff52"/><stop offset="0.25" stop-color="#51ffae"/><stop offset="0.38" stop-color="#00faff"/><stop offset="0.50" stop-color="#00b4ff"/><stop offset="0.62" stop-color="#00faff"/><stop offset="0.75" stop-color="#51ffae"/><stop offset="0.88" stop-color="#adff52"/><stop offset="1.00" stop-color="#fff000"/></linearGradient><linearGradient id="g273" x2="0" y2="1"><stop offset="0.00" stop-color="#fff000"/><stop offset="0.12" stop-color="#afff50"/><stop offset="0.25" stop-color="#54ffab"/><stop offset="0.38" stop-color="#00ffff"/><stop offset="0.50" stop-color="#00bbff"/><stop offset="0.62" stop-color="#00ffff"/><stop offset="0.75" stop-color="#54ffab"/><stop offset="0.88" stop-color="#afff50"/><stop offset="1.00" stop-color="#fff000"/></linearGradient><linearGradient id="g274" x2="0" y2="1"><stop offset="0.00" stop-color="#fff000"/><stop offset="0.12" stop-color="#b1ff4e"/><stop offset="0.25" stop-color="#58ffa7"/><stop offset="0.38" stop-color="#06fff9"/><stop offset="0.50" stop-color="#00c1ff"/><stop offset="0.62" stop-color="#06fff9"/><stop offset="0.75" stop-color="#58ffa7"/><stop offset="0.88" stop-color="#b1ff4e"/><stop offset="1.00" stop-color="#fff000"/></linearGradient><linearGradient id="g275" x2="0" y2="1"><stop offset="0.00" stop-color="#fff000"/><stop offset="0.12" stop-color="#b3ff4c"/><stop offset="0.25" stop-color="#5cffa3"/><stop offset="0.38" stop-color="#0cfff3"/><stop offset="0.50" stop-color="#00c9ff"/><stop offset="0.62" stop-color="#0cfff3"/><stop offset="0.75" stop-color="#5cffa3"/><stop offset="0.88" stop-color="#b3ff4c"/><stop offset="1.00" stop-color="#fff000"/></linearGradient><linearGradient id="g276" x2="0" y2="1"><stop offset="0.00" stop-color="#fff000"/><stop offset="0.12" stop-color="#b8ff47"/><stop offset="0.25" stop-color="#67ff98"/><stop offset="0.38" stop-color="#1bffe4"/><stop offset="0.50" stop-color="#00dcff"/><stop offset="0.62" stop-color="#1bffe4"/><stop offset="0.75" stop-color="#67ff98"/><stop offset="0.88" stop-color="#b8ff47"/><stop offset="1.00" stop-color="#fff000"/></linearGradient><linearGradient id="g277" x2="0" y2="1"><stop offset="0.00" stop-color="#fff000"/><stop offset="0.12" stop-color="#beff41"/><stop offset="0.25" stop-color="#71ff8e"/><stop offset="0.38" stop-color="#2bffd4"/><stop offset="0.50" stop-color="#00f0ff"/><stop offset="0.62" stop-color="#2bffd4"/><stop offset="0.75" stop-color="#71ff8e"/><stop offset="0.88" stop-color="#beff41"/><stop offset="1.00" stop-color="#fff000"/></linearGradient><linearGradient id="g278" x2="0" y2="1"><stop offset="0.00" stop-color="#fff000"/><stop offset="0.12" stop-color="#beff41"/><stop offset="0.25" stop-color="#71ff8e"/><stop offset="0.38" stop-color="#2bffd4"/><stop offset="0.50" stop-color="#00f0ff"/><stop offset="0.62" stop-color="#2bffd4"/><stop offset="0.75" stop-color="#71ff8e"/><stop offset="0.88" stop-color="#beff41"/><stop offset="1.00" stop-color="#fff000"/></linearGradient><linearGradient id="g279" x2="0" y2="1"><stop offset="0.00" stop-color="#fff000"/><stop offset="0.12" stop-color="#b8ff47"/><stop offset="0.25" stop-color="#67ff98"/><stop offset="0.38" stop-color="#1bffe4"/><stop offset="0.50" stop-color="#00dcff"/><stop offset="0.62" stop-color="#1bffe4"/><stop offset="0.75" stop-color="#67ff98"/><stop offset="0.88" stop-color="#b8ff47"/><stop offset="1.00" stop-color="#fff000"/></linearGradient><linearGradient id="g280" x2="0" y2="1"><stop offset="0.00" stop-color="#fff000"/><stop offset="0.12" stop-color="#b3ff4c"/><stop offset="0.25" stop-color="#5cffa3"/><stop offset="0.38" stop-color="#0cfff3"/><stop offset="0.50" stop-color="#00c9ff"/><stop offset="0.62" stop-color="#0cfff3"/><stop offset="0.75" stop-color="#5cffa3"/><stop offset="0.88" stop-color="#b3ff4c"/><stop offset="1.00" stop-color="#fff000"/></linearGradient><linearGradient id="g281" x2="0" y2="1"><stop offset="0.00" stop-color="#fff000"/><stop offset="0.12" stop-color="#b1ff4e"/><stop offset="0.25" stop-color="#58ffa7"/><stop offset="0.38" stop-color="#06fff9"/><stop offset="0.50" stop-color="#00c1ff"/><stop offset="0.62" stop-color="#06fff9"/><stop offset="0.75" stop-color="#58ffa7"/><stop offset="0.88" stop-color="#b1ff4e"/><stop offset="1.00" stop-color="#fff000"/></linearGradient><linearGradient id="g282" x2="0" y2="1"><stop offset="0.00" stop-color="#fff000"/><stop offset="0.12" stop-color="#afff50"/><stop offset="0.25" stop-color="#54ffab"/><stop offset="0.38" stop-color="#00ffff"/><stop offset="0.50" stop-color="#00bbff"/><stop offset="0.62" stop-color="#00ffff"/><stop offset="0.75" stop-color="#54ffab"/><stop offset="0.88" stop-color="#afff50"/><stop offset="1.00" stop-color="#fff000"/></linearGradient><linearGradient id="g283" x2="0" y2="1"><stop offset="0.00" stop-color="#fff000"/><stop offset="0.12" stop-color="#adff52"/><stop offset="0.25" stop-color="#51ffae"/><stop offset="0.38" stop-color="#00faff"/><stop offset="0.50" stop-color="#00b4ff"/><stop offset="0.62" stop-color="#00faff"/><stop offset="0.75" stop-color="#51ffae"/><stop offset="0.88" stop-color="#adff52"/><stop offset="1.00" stop-color="#fff000"/></linearGradient><linearGradient id="g284" x2="0" y2="1"><stop offset="0.00" stop-color="#fff000"/><stop offset="0.12" stop-color="#b0ff4f"/><stop offset="0.25" stop-color="#57ffa8"/><stop offset="0.38" stop-color="#04fffb"/><stop offset="0.50" stop-color="#00bfff"/><stop offset="0.62" stop-color="#04fffb"/><stop offset="0.75" stop-color="#57ffa8"/><stop offset="0.88" stop-color="#b0ff4f"/><stop offset="1.00" stop-color="#fff000"/></linearGradient><linearGradient id="g285" x2="0" y2="1"><stop offset="0.00" stop-color="#fff000"/><stop offset="0.12" stop-color="#b5ff4a"/><stop offset="0.25" stop-color="#5fffa0"/><stop offset="0.38" stop-color="#11ffee"/><stop offset="0.50" stop-color="#00cfff"/><stop offset="0.62" stop-color="#11ffee"/><stop offset="0.75" stop-color="#5fffa0"/><stop offset="0.88" stop-color="#b5ff4a"/><stop offset="1.00" stop-color="#fff000"/></linearGradient><linearGradient id="g286" x2="0" y2="1"><stop offset="0.00" stop-color="#fff000"/><stop offset="0.12" stop-color="#b9ff46"/><stop offset="0.25" stop-color="#68ff97"/><stop offset="0.38" stop-color="#1effe1"/><stop offset="0.50" stop-color="#00dfff"/><stop offset="0.62" stop-color="#1effe1"/><stop offset="0.75" stop-color="#68ff97"/><stop offset="0.88" stop-color="#b9ff46"/><stop offset="1.00" stop-color="#fff000"/></linearGradient><linearGradient id="g287" x2="0" y2="1"><stop offset="0.00" stop-color="#fff000"/><stop offset="0.12" stop-color="#bdff42"/><stop offset="0.25" stop-color="#70ff8f"/><stop offset="0.38" stop-color="#29ffd6"/><stop offset="0.50" stop-color="#00eeff"/><stop offset="0.62" stop-color="#29ffd6"/><stop offset="0.75" stop-color="#70ff8f"/><stop offset="0.88" stop-color="#bdff42"/><stop offset="1.00" stop-color="#fff000"/></linearGradient><linearGradient id="g288" x2="0" y2="1"><stop offset="0.00" stop-color="#fff000"/><stop offset="0.12" stop-color="#c1ff3e"/><stop offset="0.25" stop-color="#77ff88"/><stop offset="0.38" stop-color="#33ffcc"/><stop offset="0.50" stop-color="#00fbff"/><stop offset="0.62" stop-color="#33ffcc"/><stop offset="0.75" stop-color="#77ff88"/><stop offset="0.88" stop-color="#c1ff3e"/><stop offset="1.00" stop-color="#fff000"/></linearGradient><linearGradient id="g289" x2="0" y2="1"><stop offset="0.00" stop-color="#fff000"/><stop offset="0.12" stop-color="#c5ff3a"/><stop offset="0.25" stop-color="#7fff80"/><stop offset="0.38" stop-color="#3effc1"/><stop offset="0.50" stop-color="#09fff6"/><stop offset="0.62" stop-color="#3effc1"/><stop offset="0.75" stop-color="#7fff80"/><stop offset="0.88" stop-color="#c5ff3a"/><stop offset="1.00" stop-color="#fff000"/></linearGradient><linearGradient id="g290" x2="0" y2="1"><stop offset="0.00" stop-color="#fff000"/><stop offset="0.12" stop-color="#c8ff37"/><stop offset="0.25" stop-color="#86ff79"/><stop offset="0.38" stop-color="#48ffb7"/><stop offset="0.50" stop-color="#16ffe9"/><stop offset="0.62" stop-color="#48ffb7"/><stop offset="0.75" stop-color="#86ff79"/><stop offset="0.88" stop-color="#c8ff37"/><stop offset="1.00" stop-color="#fff000"/></linearGradient><linearGradient id="g291" x2="0" y2="1"><stop offset="0.00" stop-color="#fff000"/><stop offset="0.12" stop-color="#ccff33"/><stop offset="0.25" stop-color="#8dff72"/><stop offset="0.38" stop-color="#53ffac"/><stop offset="0.50" stop-color="#23ffdc"/><stop offset="0.62" stop-color="#53ffac"/><stop offset="0.75" stop-color="#8dff72"/><stop offset="0.88" stop-color="#ccff33"/><stop offset="1.00" stop-color="#fff000"/></linearGradient><linearGradient id="g292" x2="0" y2="1"><stop offset="0.00" stop-color="#fff000"/><stop offset="0.12" stop-color="#d0ff2f"/><stop offset="0.25" stop-color="#94ff6b"/><stop offset="0.38" stop-color="#5dffa2"/><stop offset="0.50" stop-color="#30ffcf"/><stop offset="0.62" stop-color="#5dffa2"/><stop offset="0.75" stop-color="#94ff6b"/><stop offset="0.88" stop-color="#d0ff2f"/><stop offset="1.00" stop-color="#fff000"/></linearGradient><linearGradient id="g293" x2="0" y2="1"><stop offset="0.00" stop-color="#fff000"/><stop offset="0.12" stop-color="#d3ff2c"/><stop offset="0.25" stop-color="#9aff65"/><stop offset="0.38" stop-color="#65ff9a"/><stop offset="0.50" stop-color="#3affc5"/><stop offset="0.62" stop-color="#65ff9a"/><stop offset="0.75" stop-color="#9aff65"/><stop offset="0.88" stop-color="#d3ff2c"/><stop offset="1.00" stop-color="#fff000"/></linearGradient><linearGradient id="g294" x2="0" y2="1"><stop offset="0.00" stop-color="#fff000"/><stop offset="0.12" stop-color="#d4ff2b"/><stop offset="0.25" stop-color="#9dff62"/><stop offset="0.38" stop-color="#6aff95"/><stop offset="0.50" stop-color="#40ffbf"/><stop offset="0.62" stop-color="#6aff95"/><stop offset="0.75" stop-color="#9dff62"/><stop offset="0.88" stop-color="#d4ff2b"/><stop offset="1.00" stop-color="#fff000"/></linearGradient><linearGradient id="g295" x2="0" y2="1"><stop offset="0.00" stop-color="#fff000"/><stop offset="0.12" stop-color="#d6ff29"/><stop offset="0.25" stop-color="#a0ff5f"/><stop offset="0.38" stop-color="#6eff91"/><stop offset="0.50" stop-color="#45ffba"/><stop offset="0.62" stop-color="#6eff91"/><stop offset="0.75" stop-color="#a0ff5f"/><stop offset="0.88" stop-color="#d6ff29"/><stop offset="1.00" stop-color="#fff000"/></linearGradient><linearGradient id="g296" x2="0" y2="1"><stop offset="0.00" stop-color="#fff000"/><stop offset="0.12" stop-color="#d7ff28"/><stop offset="0.25" stop-color="#a3ff5c"/><stop offset="0.38" stop-color="#72ff8d"/><stop offset="0.50" stop-color="#4affb5"/><stop offset="0.62" stop-color="#72ff8d"/><stop offset="0.75" stop-color="#a3ff5c"/><stop offset="0.88" stop-color="#d7ff28"/><stop offset="1.00" stop-color="#fff000"/></linearGradient><linearGradient id="g297" x2="0" y2="1"><stop offset="0.00" stop-color="#fff000"/><stop offset="0.12" stop-color="#d9ff26"/><stop offset="0.25" stop-color="#a6ff59"/><stop offset="0.38" stop-color="#77ff88"/><stop offset="0.50" stop-color="#50ffaf"/><stop offset="0.62" stop-color="#77ff88"/><stop offset="0.75" stop-color="#a6ff59"/><stop offset="0.88" stop-color="#d9ff26"/><stop offset="1.00" stop-color="#fff000"/></linearGradient><linearGradient id="g298" x2="0" y2="1"><stop offset="0.00" stop-color="#fff000"/><stop offset="0.12" stop-color="#daff25"/><stop offset="0.25" stop-color="#a9ff56"/><stop offset="0.38" stop-color="#7bff84"/><stop offset="0.50" stop-color="#55ffaa"/><stop offset="0.62" stop-color="#7bff84"/><stop offset="0.75" stop-color="#a9ff56"/><stop offset="0.88" stop-color="#daff25"/><stop offset="1.00" stop-color="#fff000"/></linearGradient><linearGradient id="g299" x2="0" y2="1"><stop offset="0.00" stop-color="#fff000"/><stop offset="0.12" stop-color="#dcff23"/><stop offset="0.25" stop-color="#acff53"/><stop offset="0.38" stop-color="#7fff80"/><stop offset="0.50" stop-color="#5bffa4"/><stop offset="0.62" stop-color="#7fff80"/><stop offset="0.75" stop-color="#acff53"/><stop offset="0.88" stop-color="#dcff23"/><stop offset="1.00" stop-color="#fff000"/></linearGradient><linearGradient id="g300" x2="0" y2="1"><stop offset="0.00" stop-color="#fff000"/><stop offset="0.12" stop-color="#ddff22"/><stop offset="0.25" stop-color="#afff50"/><stop offset="0.38" stop-color="#84ff7b"/><stop offset="0.50" stop-color="#60ff9f"/><stop offset="0.62" stop-color="#84ff7b"/><stop offset="0.75" stop-color="#afff50"/><stop offset="0.88" stop-color="#ddff22"/><stop offset="1.00" stop-color="#fff000"/></linearGradient><linearGradient id="g301" x2="0" y2="1"><stop offset="0.00" stop-color="#fff000"/><stop offset="0.12" stop-color="#dfff20"/><stop offset="0.25" stop-color="#b2ff4d"/><stop offset="0.38" stop-color="#88ff77"/><stop offset="0.50" stop-color="#66ff99"/><stop offset="0.62" stop-color="#88ff77"/><stop offset="0.75" stop-color="#b2ff4d"/><stop offset="0.88" stop-color="#dfff20"/><stop offset="1.00" stop-color="#fff000"/></linearGradient><linearGradient id="g302" x2="0" y2="1"><stop offset="0.00" stop-color="#fff000"/><stop offset="0.12" stop-color="#e0ff1f"/><stop offset="0.25" stop-color="#b5ff4a"/><stop offset="0.38" stop-color="#8cff73"/><stop offset="0.50" stop-color="#6bff94"/><stop offset="0.62" stop-color="#8cff73"/><stop offset="0.75" stop-color="#b5ff4a"/><stop offset="0.88" stop-color="#e0ff1f"/><stop offset="1.00" stop-color="#fff000"/></linearGradient><linearGradient id="h303"><stop offset="0.000" stop-color="#800000"/><stop offset="0.083" stop-color="#910000"/><stop offset="0.167" stop-color="#cf0000"/><stop offset="0.250" stop-color="#f80000"/><stop offset="0.333" stop-color="#ff1f00"/><stop offset="0.417" stop-color="#ff4e00"/><stop offset="0.500" stop-color="#ff7e00"/><stop offset="0.583" stop-color="#ffb000"/><stop offset="0.667" stop-color="#fff300"/><stop offset="0.750" stop-color="#b9ff46"/><stop offset="0.833" stop-color="#31ffce"/><stop offset="0.917" stop-color="#006bff"/><stop offset="1.000" stop-color="#000080"/></linearGradient><linearGradient id="h304"><stop offset="0.000" stop-color="#800000"/><stop offset="0.083" stop-color="#970000"/><stop offset="0.167" stop-color="#d20000"/><stop offset="0.250" stop-color="#fa0000"/><stop offset="0.333" stop-color="#ff2200"/><stop offset="0.417" stop-color="#ff5100"/><stop offset="0.500" stop-color="#ff8100"/><stop offset="0.583" stop-color="#ffb300"/><stop offset="0.667" stop-color="#fff600"/><stop offset="0.750" stop-color="#b7ff48"/><stop offset="0.833" stop-color="#2dffd2"/><stop offset="0.917" stop-color="#0069ff"/><stop offset="1.000" stop-color="#000080"/></linearGradient><linearGradient id="h305"><stop offset="0.000" stop-color="#800000"/><stop offset="0.083" stop-color="#9c0000"/><stop offset="0.167" stop-color="#d50000"/><stop offset="0.250" stop-color="#fd0000"/><stop offset="0.333" stop-color="#ff2400"/><stop offset="0.417" stop-color="#ff5400"/><stop offset="0.500" stop-color="#ff8400"/><stop offset="0.583" stop-color="#ffb600"/><stop offset="0.667" stop-color="#fff900"/><stop offset="0.750" stop-color="#b3ff4c"/><stop offset="0.833" stop-color="#29ffd6"/><stop offset="0.917" stop-color="#0066ff"/><stop offset="1.000" stop-color="#000080"/></linearGradient><linearGradient id="h306"><stop offset="0.000" stop-color="#800000"/><stop offset="0.083" stop-color="#a20000"/><stop offset="0.167" stop-color="#d80000"/><stop offset="0.250" stop-color="#ff0100"/><stop offset="0.333" stop-color="#ff2600"/><stop offset="0.417" stop-color="#ff5700"/><stop offset="0.500" stop-color="#ff8700"/><stop offset="0.583" stop-color="#ffb900"/><stop offset="0.667" stop-color="#fffc00"/><stop offset="0.750" stop-color="#b0ff4f"/><stop offset="0.833" stop-color="#25ffda"/><stop offset="0.917" stop-color="#0064ff"/><stop offset="1.000" stop-color="#000080"/></linearGradient><linearGradient id="h307"><stop offset="0.000" stop-color="#800000"/><stop offset="0.083" stop-color="#a70000"/><stop offset="0.167" stop-color="#da0000"/><stop offset="0.250" stop-color="#ff0300"/><stop offset="0.333" stop-color="#ff2900"/><stop offset="0.417" stop-color="#ff5a00"/><stop offset="0.500" stop-color="#ff8a00"/><stop offset="0.583" stop-color="#ffbd00"/><stop offset="0.667" stop-color="#ffff00"/><stop offset="0.750" stop-color="#adff52"/><stop offset="0.833" stop-color="#20ffdf"/><stop offset="0.917" stop-color="#0061ff"/><stop offset="1.000" stop-color="#000080"/></linearGradient><linearGradient id="h308"><stop offset="0.000" stop-color="#800000"/><stop offset="0.083" stop-color="#ad0000"/><stop offset="0.167" stop-color="#dd0000"/><stop offset="0.250" stop-color="#ff0600"/><stop offset="0.333" stop-color="#ff2d00"/><stop offset="0.417" stop-color="#ff5d00"/><stop offset="0.500" stop-color="#ff8c00"/><stop offset="0.583" stop-color="#ffc000"/><stop offset="0.667" stop-color="#fcff03"/><stop offset="0.750" stop-color="#a9ff56"/><stop offset="0.833" stop-color="#1cffe3"/><stop offset="0.917" stop-color="#005fff"/><stop offset="1.000" stop-color="#000080"/></linearGradient><linearGradient id="h309"><stop offset="0.000" stop-color="#800000"/><stop offset="0.083" stop-color="#b20000"/><stop offset="0.167" stop-color="#e00000"/><stop offset="0.250" stop-color="#ff0800"/><stop offset="0.333" stop-color="#ff3000"/><stop offset="0.417" stop-color="#ff6000"/><stop offset="0.500" stop-color="#ff8f00"/><stop offset="0.583" stop-color="#ffc400"/><stop offset="0.667" stop-color="#f9ff06"/><stop offset="0.750" stop-color="#a6ff59"/><stop offset="0.833" stop-color="#18ffe7"/><stop offset="0.917" stop-color="#005cff"/><stop offset="1.000" stop-color="#000080"/></linearGradient><linearGradient id="h310"><stop offset="0.000" stop-color="#800000"/><stop offset="0.083" stop-color="#b80000"/><stop offset="0.167" stop-color="#e30000"/><stop offset="0.250" stop-color="#ff0b00"/><stop offset="0.333" stop-color="#ff3400"/><stop offset="0.417" stop-color="#ff6300"/><stop offset="0.500" stop-color="#ff9200"/><stop offset="0.583" stop-color="#ffc700"/><stop offset="0.667" stop-color="#f6ff09"/><stop offset="0.750" stop-color="#a2ff5d"/><stop offset="0.833" stop-color="#14ffeb"/><stop offset="0.917" stop-color="#005aff"/><stop offset="1.000" stop-color="#000080"/></linearGradient><linearGradient id="h311"><stop offset="0.000" stop-color="#800000"/><stop offset="0.083" stop-color="#bd0000"/><stop offset="0.167" stop-color="#e60000"/><stop offset="0.250" stop-color="#ff0d00"/><stop offset="0.333" stop-color="#ff3700"/><stop offset="0.417" stop-color="#ff6600"/><stop offset="0.500" stop-color="#ff9500"/><stop offset="0.583" stop-color="#ffca00"/><stop offset="0.667" stop-color="#f3ff0c"/><stop offset="0.750" stop-color="#9fff60"/><stop offset="0.833" stop-color="#10ffef"/><stop offset="0.917" stop-color="#0057ff"/><stop offset="1.000" stop-color="#000080"/></linearGradient><linearGradient id="h312"><stop offset="0.000" stop-color="#860000"/><stop offset="0.083" stop-color="#c00000"/><stop offset="0.167" stop-color="#e90000"/><stop offset="0.250" stop-color="#ff1000"/><stop offset="0.333" stop-color="#ff3b00"/><stop offset="0.417" stop-color="#ff6a00"/><stop offset="0.500" stop-color="#ff9800"/><stop offset="0.583" stop-color="#ffce00"/><stop offset="0.667" stop-color="#f0ff0f"/><stop offset="0.750" stop-color="#9cff63"/><stop offset="0.833" stop-color="#0cfff3"/><stop offset="0.917" stop-color="#0055ff"/><stop offset="1.000" stop-color="#000080"/></linearGradient><linearGradient id="h313"><stop offset="0.000" stop-color="#8e0000"/><stop offset="0.083" stop-color="#c40000"/><stop offset="0.167" stop-color="#ec0000"/><stop offset="0.250" stop-color="#ff1300"/><stop offset="0.333" stop-color="#ff3f00"/><stop offset="0.417" stop-color="#ff6e00"/><stop offset="0.500" stop-color="#ff9b00"/><stop offset="0.583" stop-color="#ffd200"/><stop offset="0.667" stop-color="#ecff13"/><stop offset="0.750" stop-color="#97ff68"/><stop offset="0.833" stop-color="#06fff9"/><stop offset="0.917" stop-color="#0052ff"/><stop offset="1.000" stop-color="#000080"/></linearGradient><linearGradient id="h314"><stop offset="0.000" stop-color="#970000"/><stop offset="0.083" stop-color="#c90000"/><stop offset="0.167" stop-color="#f10000"/><stop offset="0.250" stop-color="#ff1700"/><stop offset="0.333" stop-color="#ff4500"/><stop offset="0.417" stop-color="#ff7200"/><stop offset="0.500" stop-color="#ffa000"/><stop offset="0.583" stop-color="#ffd700"/><stop offset="0.667" stop-color="#e6ff19"/><stop offset="0.750" stop-color="#92ff6d"/><stop offset="0.833" stop-color="#00ffff"/><stop offset="0.917" stop-color="#004eff"/><stop offset="1.000" stop-color="#000080"/></linearGradient><linearGradient id="h315"><stop offset="0.000" stop-color="#a00000"/><stop offset="0.083" stop-color="#ce0000"/><stop offset="0.167" stop-color="#f50000"/><stop offset="0.250" stop-color="#ff1b00"/><stop offset="0.333" stop-color="#ff4a00"/><stop offset="0.417" stop-color="#ff7700"/><stop offset="0.500" stop-color="#ffa400"/><stop offset="0.583" stop-color="#ffdc00"/><stop offset="0.667" stop-color="#e1ff1e"/><stop offset="0.750" stop-color="#8dff72"/><stop offset="0.833" stop-color="#00f9ff"/><stop offset="0.917" stop-color="#004bff"/><stop offset="1.000" stop-color="#000080"/></linearGradient><linearGradient id="h316"><stop offset="0.000" stop-color="#a90000"/><stop offset="0.083" stop-color="#d20000"/><stop offset="0.167" stop-color="#f90000"/><stop offset="0.250" stop-color="#ff2100"/><stop offset="0.333" stop-color="#ff4f00"/><stop offset="0.417" stop-color="#ff7c00"/><stop offset="0.500" stop-color="#ffa800"/><stop offset="0.583" stop-color="#ffe100"/><stop offset="0.667" stop-color="#dbff24"/><stop offset="0.750" stop-color="#88ff77"/><stop offset="0.833" stop-color="#00f3ff"/><stop offset="0.917" stop-color="#0047ff"/><stop offset="1.000" stop-color="#000080"/></linearGradient><linearGradient id="h317"><stop offset="0.000" stop-color="#ae0000"/><stop offset="0.083" stop-color="#d70000"/><stop offset="0.167" stop-color="#fe0000"/><stop offset="0.250" stop-color="#ff2700"/><stop offset="0.333" stop-color="#ff5500"/><stop offset="0.417" stop-color="#ff8100"/><stop offset="0.500" stop-color="#ffad00"/><stop offset="0.583" stop-color="#ffe600"/><stop offset="0.667" stop-color="#d5ff2a"/><stop offset="0.750" stop-color="#83ff7c"/><stop offset="0.833" stop-color="#00ecff"/><stop offset="0.917" stop-color="#0043ff"/><stop offset="1.000" stop-color="#000080"/></linearGradient><linearGradient id="h318"><stop offset="0.000" stop-color="#b30000"/><stop offset="0.083" stop-color="#dc0000"/><stop offset="0.167" stop-color="#ff0300"/><stop offset="0.250" stop-color="#ff2d00"/><stop offset="0.333" stop-color="#ff5a00"/><stop offset="0.417" stop-color="#ff8600"/><stop offset="0.500" stop-color="#ffb300"/><stop offset="0.583" stop-color="#ffec00"/><stop offset="0.667" stop-color="#d0ff2f"/><stop offset="0.750" stop-color="#7eff81"/><stop offset="0.833" stop-color="#00e6ff"/><stop offset="0.917" stop-color="#003fff"/><stop offset="1.000" stop-color="#000080"/></linearGradient><linearGradient id="h319"><stop offset="0.000" stop-color="#b90000"/><stop offset="0.083" stop-color="#e10000"/><stop offset="0.167" stop-color="#ff0700"/><stop offset="0.250" stop-color="#ff3300"/><stop offset="0.333" stop-color="#ff5f00"/><stop offset="0.417" stop-color="#ff8b00"/><stop offset="0.500" stop-color="#ffb900"/><stop offset="0.583" stop-color="#fff200"/><stop offset="0.667" stop-color="#caff35"/><stop offset="0.750" stop-color="#79ff86"/><stop offset="0.833" stop-color="#00e0ff"/><stop offset="0.917" stop-color="#003cff"/><stop offset="1.000" stop-color="#000080"/></linearGradient><linearGradient id="h320"><stop offset="0.000" stop-color="#bf0000"/><stop offset="0.083" stop-color="#e70000"/><stop offset="0.167" stop-color="#ff0d00"/><stop offset="0.250" stop-color="#ff3b00"/><stop offset="0.333" stop-color="#ff6600"/><stop offset="0.417" stop-color="#ff9100"/><stop offset="0.500" stop-color="#ffc100"/><stop offset="0.583" stop-color="#fff900"/><stop offset="0.667" stop-color="#c3ff3c"/><stop offset="0.750" stop-color="#6dff92"/><stop offset="0.833" stop-color="#00d8ff"/><stop offset="0.917" stop-color="#0037ff"/><stop offset="1.000" stop-color="#000080"/></linearGradient><linearGradient id="h321"><stop offset="0.000" stop-color="#c60000"/><stop offset="0.083" stop-color="#ed0000"/><stop offset="0.167" stop-color="#ff1600"/><stop offset="0.250" stop-color="#ff4200"/><stop offset="0.333" stop-color="#ff6d00"/><stop offset="0.417" stop-color="#ff9700"/><stop offset="0.500" stop-color="#ffc900"/><stop offset="0.583" stop-color="#feff01"/><stop offset="0.667" stop-color="#bcff43"/><stop offset="0.750" stop-color="#61ff9e"/><stop offset="0.833" stop-color="#00d0ff"/><stop offset="0.917" stop-color="#0032ff"/><stop offset="1.000" stop-color="#000080"/></linearGradient><linearGradient id="h322"><stop offset="0.000" stop-color="#cd0000"/><stop offset="0.083" stop-color="#f30000"/><stop offset="0.167" stop-color="#ff1e00"/><stop offset="0.250" stop-color="#ff4a00"/><stop offset="0.333" stop-color="#ff7400"/><stop offset="0.417" stop-color="#ff9e00"/><stop offset="0.500" stop-color="#ffd100"/><stop offset="0.583" stop-color="#f6ff09"/><stop offset="0.667" stop-color="#b4ff4b"/><stop offset="0.750" stop-color="#55ffaa"/><stop offset="0.833" stop-color="#00c8ff"/><stop offset="0.917" stop-color="#002eff"/><stop offset="1.000" stop-color="#000080"/></linearGradient><linearGradient id="h323"><stop offset="0.000" stop-color="#d40000"/><stop offset="0.083" stop-color="#f90000"/><stop offset="0.167" stop-color="#ff2700"/><stop offset="0.250" stop-color="#ff5200"/><stop offset="0.333" stop-color="#ff7b00"/><stop offset="0.417" stop-color="#ffa500"/><stop offset="0.500" stop-color="#ffd800"/><stop offset="0.583" stop-color="#efff10"/><stop offset="0.667" stop-color="#abff54"/><stop offset="0.750" stop-color="#49ffb6"/><stop offset="0.833" stop-color="#00c0ff"/><stop offset="0.917" stop-color="#0029ff"/><stop offset="1.000" stop-color="#000080"/></linearGradient><linearGradient id="h324"><stop offset="0.000" stop-color="#db0000"/><stop offset="0.083" stop-color="#ff0300"/><stop offset="0.167" stop-color="#ff2f00"/><stop offset="0.250" stop-color="#ff5a00"/><stop offset="0.333" stop-color="#ff8300"/><stop offset="0.417" stop-color="#ffae00"/><stop offset="0.500" stop-color="#ffe000"/><stop offset="0.583" stop-color="#e6ff19"/><stop offset="0.667" stop-color="#a2ff5d"/><stop offset="0.750" stop-color="#3dffc2"/><stop offset="0.833" stop-color="#00b8ff"/><stop offset="0.917" stop-color="#0024ff"/><stop offset="1.000" stop-color="#000080"/></linearGradient><linearGradient id="h325"><stop offset="0.000" stop-color="#e10000"/><stop offset="0.083" stop-color="#ff0d00"/><stop offset="0.167" stop-color="#ff3800"/><stop offset="0.250" stop-color="#ff6100"/><stop offset="0.333" stop-color="#ff8a00"/><stop offset="0.417" stop-color="#ffb700"/><stop offset="0.500" stop-color="#ffe900"/><stop offset="0.583" stop-color="#ddff22"/><stop offset="0.667" stop-color="#9aff65"/><stop offset="0.750" stop-color="#31ffce"/><stop offset="0.833" stop-color="#00b0ff"/><stop offset="0.917" stop-color="#0020ff"/><stop offset="1.000" stop-color="#000080"/></linearGradient><linearGradient id="h326"><stop offset="0.000" stop-color="#e80000"/><stop offset="0.083" stop-color="#ff1600"/><stop offset="0.167" stop-color="#ff4100"/><stop offset="0.250" stop-color="#ff6900"/><stop offset="0.333" stop-color="#ff9100"/><stop offset="0.417" stop-color="#ffc000"/><stop offset="0.500" stop-color="#fff200"/><stop offset="0.583" stop-color="#d4ff2b"/><stop offset="0.667" stop-color="#91ff6e"/><stop offset="0.750" stop-color="#26ffd9"/><stop offset="0.833" stop-color="#00a9ff"/><stop offset="0.917" stop-color="#001bff"/><stop offset="1.000" stop-color="#000080"/></linearGradient><linearGradient id="h327"><stop offset="0.000" stop-color="#f20000"/><stop offset="0.083" stop-color="#ff1f00"/><stop offset="0.167" stop-color="#ff4900"/><stop offset="0.250" stop-color="#ff7100"/><stop offset="0.333" stop-color="#ff9800"/><stop offset="0.417" stop-color="#ffc800"/><stop offset="0.500" stop-color="#fffa00"/><stop offset="0.583" stop-color="#ccff33"/><stop offset="0.667" stop-color="#89ff76"/><stop offset="0.750" stop-color="#1bffe4"/><stop offset="0.833" stop-color="#00a1ff"/><stop offset="0.917" stop-color="#0017ff"/><stop offset="1.000" stop-color="#000080"/></linearGradient><linearGradient id="h328"><stop offset="0.000" stop-color="#fc0000"/><stop offset="0.083" stop-color="#ff2800"/><stop offset="0.167" stop-color="#ff5100"/><stop offset="0.250" stop-color="#ff7900"/><stop offset="0.333" stop-color="#ffa200"/><stop offset="0.417" stop-color="#ffd100"/><stop offset="0.500" stop-color="#fcff03"/><stop offset="0.583" stop-color="#c3ff3c"/><stop offset="0.667" stop-color="#81ff7e"/><stop offset="0.750" stop-color="#10ffef"/><stop offset="0.833" stop-color="#009aff"/><stop offset="0.917" stop-color="#0012ff"/><stop offset="1.000" stop-color="#000080"/></linearGradient><linearGradient id="h329"><stop offset="0.000" stop-color="#ff0700"/><stop offset="0.083" stop-color="#ff3100"/><stop offset="0.167" stop-color="#ff5a00"/><stop offset="0.250" stop-color="#ff8100"/><stop offset="0.333" stop-color="#ffab00"/><stop offset="0.417" stop-color="#ffda00"/><stop offset="0.500" stop-color="#f3ff0c"/><stop offset="0.583" stop-color="#baff45"/><stop offset="0.667" stop-color="#77ff88"/><stop offset="0.750" stop-color="#05fffa"/><stop offset="0.833" stop-color="#0092ff"/><stop offset="0.917" stop-color="#000eff"/><stop offset="1.000" stop-color="#000080"/></linearGradient><linearGradient id="h330"><stop offset="0.000" stop-color="#ff1100"/><stop offset="0.083" stop-color="#ff3b00"/><stop offset="0.167" stop-color="#ff6200"/><stop offset="0.250" stop-color="#ff8900"/><stop offset="0.333" stop-color="#ffb500"/><stop offset="0.417" stop-color="#ffe300"/><stop offset="0.500" stop-color="#e9ff16"/><stop offset="0.583" stop-color="#b0ff4f"/><stop offset="0.667" stop-color="#68ff97"/><stop offset="0.750" stop-color="#00f9ff"/><stop offset="0.833" stop-color="#008aff"/><stop offset="0.917" stop-color="#0009ff"/><stop offset="1.000" stop-color="#000080"/></linearGradient><linearGradient id="h331"><stop offset="0.000" stop-color="#ff1c00"/><stop offset="0.083" stop-color="#ff4400"/><stop offset="0.167" stop-color="#ff6b00"/><stop offset="0.250" stop-color="#ff9200"/><stop offset="0.333" stop-color="#ffbf00"/><stop offset="0.417" stop-color="#ffed00"/><stop offset="0.500" stop-color="#dfff20"/><stop offset="0.583" stop-color="#a6ff59"/><stop offset="0.667" stop-color="#59ffa6"/><stop offset="0.750" stop-color="#00eeff"/><stop offset="0.833" stop-color="#0081ff"/><stop offset="0.917" stop-color="#0005ff"/><stop offset="1.000" stop-color="#000080"/></linearGradient><linearGradient id="h332"><stop offset="0.000" stop-color="#ff2600"/><stop offset="0.083" stop-color="#ff4e00"/><stop offset="0.167" stop-color="#ff7500"/><stop offset="0.250" stop-color="#ff9d00"/><stop offset="0.333" stop-color="#ffc900"/><stop offset="0.417" stop-color="#fff600"/><stop offset="0.500" stop-color="#d5ff2a"/><stop offset="0.583" stop-color="#9cff63"/><stop offset="0.667" stop-color="#4bffb4"/><stop offset="0.750" stop-color="#00e2ff"/><stop offset="0.833" stop-color="#0078ff"/><stop offset="0.917" stop-color="#0000ff"/><stop offset="1.000" stop-color="#000080"/></linearGradient><linearGradient id="h333"><stop offset="0.000" stop-color="#ff2f00"/><stop offset="0.083" stop-color="#ff5600"/><stop offset="0.167" stop-color="#ff7c00"/><stop offset="0.250" stop-color="#ffa600"/><stop offset="0.333" stop-color="#ffd100"/><stop offset="0.417" stop-color="#fffe00"/><stop offset="0.500" stop-color="#cdff32"/><stop offset="0.583" stop-color="#94ff6b"/><stop offset="0.667" stop-color="#3fffc0"/><stop offset="0.750" stop-color="#00daff"/><stop offset="0.833" stop-color="#0071ff"/><stop offset="0.917" stop-color="#0000fb"/><stop offset="1.000" stop-color="#000080"/></linearGradient><linearGradient id="h334"><stop offset="0.000" stop-color="#ff3600"/><stop offset="0.083" stop-color="#ff5d00"/><stop offset="0.167" stop-color="#ff8200"/><stop offset="0.250" stop-color="#ffae00"/><stop offset="0.333" stop-color="#ffd900"/><stop offset="0.417" stop-color="#f8ff07"/><stop offset="0.500" stop-color="#c6ff39"/><stop offset="0.583" stop-color="#8dff72"/><stop offset="0.667" stop-color="#35ffca"/><stop offset="0.750" stop-color="#00d2ff"/><stop offset="0.833" stop-color="#006bff"/><stop offset="0.917" stop-color="#0000f8"/><stop offset="1.000" stop-color="#000080"/></linearGradient><linearGradient id="h335"><stop offset="0.000" stop-color="#ff3f00"/><stop offset="0.083" stop-color="#ff6500"/><stop offset="0.167" stop-color="#ff8b00"/><stop offset="0.250" stop-color="#ffb600"/><stop offset="0.333" stop-color="#ffe100"/><stop offset="0.417" stop-color="#f0ff0f"/><stop offset="0.500" stop-color="#beff41"/><stop offset="0.583" stop-color="#86ff79"/><stop offset="0.667" stop-color="#2bffd4"/><stop offset="0.750" stop-color="#00cbff"/><stop offset="0.833" stop-color="#0065ff"/><stop offset="0.917" stop-color="#0000f5"/><stop offset="1.000" stop-color="#000080"/></linearGradient><linearGradient id="h336"><stop offset="0.000" stop-color="#ff4700"/><stop offset="0.083" stop-color="#ff6d00"/><stop offset="0.167" stop-color="#ff9500"/><stop offset="0.250" stop-color="#ffbe00"/><stop offset="0.333" stop-color="#ffe900"/><stop offset="0.417" stop-color="#e7ff18"/><stop offset="0.500" stop-color="#b5ff4a"/><stop offset="0.583" stop-color="#7eff81"/><stop offset="0.667" stop-color="#20ffdf"/><stop offset="0.750" stop-color="#00c3ff"/><stop offset="0.833" stop-color="#005fff"/><stop offset="0.917" stop-color="#0000f2"/><stop offset="1.000" stop-color="#000080"/></linearGradient><linearGradient id="h337"><stop offset="0.000" stop-color="#ff5000"/><stop offset="0.083" stop-color="#ff7500"/><stop offset="0.167" stop-color="#ff9e00"/><stop offset="0.250" stop-color="#ffc700"/><stop offset="0.333" stop-color="#fff100"/><stop offset="0.417" stop-color="#dfff20"/><stop offset="0.500" stop-color="#acff53"/><stop offset="0.583" stop-color="#71ff8e"/><stop offset="0.667" stop-color="#16ffe9"/><stop offset="0.750" stop-color="#00bbff"/><stop offset="0.833" stop-color="#0059ff"/><stop offset="0.917" stop-color="#0000ee"/><stop offset="1.000" stop-color="#000080"/></linearGradient><linearGradient id="h338"><stop offset="0.000" stop-color="#ff5900"/><stop offset="0.083" stop-color="#ff7e00"/><stop offset="0.167" stop-color="#ffa700"/><stop offset="0.250" stop-color="#ffd000"/><stop offset="0.333" stop-color="#fff900"/><stop offset="0.417" stop-color="#d6ff29"/><stop offset="0.500" stop-color="#a4ff5b"/><stop offset="0.583" stop-color="#64ff9b"/><stop offset="0.667" stop-color="#0cfff3"/><stop offset="0.750" stop-color="#00b3ff"/><stop offset="0.833" stop-color="#0053ff"/><stop offset="0.917" stop-color="#0000eb"/><stop offset="1.000" stop-color="#000080"/></linearGradient><linearGradient id="h339"><stop offset="0.000" stop-color="#ff6200"/><stop offset="0.083" stop-color="#ff8900"/><stop offset="0.167" stop-color="#ffb100"/><stop offset="0.250" stop-color="#ffda00"/><stop offset="0.333" stop-color="#fbff04"/><stop offset="0.417" stop-color="#cdff32"/><stop offset="0.500" stop-color="#9bff64"/><stop offset="0.583" stop-color="#57ffa8"/><stop offset="0.667" stop-color="#01fffe"/><stop offset="0.750" stop-color="#00acff"/><stop offset="0.833" stop-color="#004dff"/><stop offset="0.917" stop-color="#0000e8"/><stop offset="1.000" stop-color="#000080"/></linearGradient><linearGradient id="h340"><stop offset="0.000" stop-color="#ff6c00"/><stop offset="0.083" stop-color="#ff9500"/><stop offset="0.167" stop-color="#ffbc00"/><stop offset="0.250" stop-color="#ffe400"/><stop offset="0.333" stop-color="#f0ff0f"/><stop offset="0.417" stop-color="#c3ff3c"/><stop offset="0.500" stop-color="#91ff6e"/><stop offset="0.583" stop-color="#49ffb6"/><stop offset="0.667" stop-color="#00f5ff"/><stop offset="0.750" stop-color="#00a3ff"/><stop offset="0.833" stop-color="#0046ff"/><stop offset="0.917" stop-color="#0000e4"/><stop offset="1.000" stop-color="#000080"/></linearGradient><linearGradient id="h341"><stop offset="0.000" stop-color="#ff7900"/><stop offset="0.083" stop-color="#ffa100"/><stop offset="0.167" stop-color="#ffc800"/><stop offset="0.250" stop-color="#ffef00"/><stop offset="0.333" stop-color="#e4ff1b"/><stop offset="0.417" stop-color="#b7ff48"/><stop offset="0.500" stop-color="#87ff78"/><stop offset="0.583" stop-color="#3affc5"/><stop offset="0.667" stop-color="#00e9ff"/><stop offset="0.750" stop-color="#009bff"/><stop offset="0.833" stop-color="#0040ff"/><stop offset="0.917" stop-color="#0000e1"/><stop offset="1.000" stop-color="#000080"/></linearGradient><linearGradient id="h342"><stop offset="0.000" stop-color="#ff8700"/><stop offset="0.083" stop-color="#ffad00"/><stop offset="0.167" stop-color="#ffd300"/><stop offset="0.250" stop-color="#fffa00"/><stop offset="0.333" stop-color="#d9ff26"/><stop offset="0.417" stop-color="#acff53"/><stop offset="0.500" stop-color="#7aff85"/><stop offset="0.583" stop-color="#2cffd3"/><stop offset="0.667" stop-color="#00deff"/><stop offset="0.750" stop-color="#0091ff"/><stop offset="0.833" stop-color="#0039ff"/><stop offset="0.917" stop-color="#0000dd"/><stop offset="1.000" stop-color="#000080"/></linearGradient><linearGradient id="h343"><stop offset="0.000" stop-color="#ff9500"/><stop offset="0.083" stop-color="#ffba00"/><stop offset="0.167" stop-color="#ffe000"/><stop offset="0.250" stop-color="#f7ff08"/><stop offset="0.333" stop-color="#ceff31"/><stop offset="0.417" stop-color="#a0ff5f"/><stop offset="0.500" stop-color="#68ff97"/><stop offset="0.583" stop-color="#1dffe2"/><stop offset="0.667" stop-color="#00d2ff"/><stop offset="0.750" stop-color="#0087ff"/><stop offset="0.833" stop-color="#0032ff"/><stop offset="0.917" stop-color="#0000d9"/><stop offset="1.000" stop-color="#000080"/></linearGradient><linearGradient id="h344"><stop offset="0.000" stop-color="#ffa300"/><stop offset="0.083" stop-color="#ffc700"/><stop offset="0.167" stop-color="#ffec00"/><stop offset="0.250" stop-color="#eaff15"/><stop offset="0.333" stop-color="#c1ff3e"/><stop offset="0.417" stop-color="#95ff6a"/><stop offset="0.500" stop-color="#57ffa8"/><stop offset="0.583" stop-color="#0ffff0"/><stop offset="0.667" stop-color="#00c7ff"/><stop offset="0.750" stop-color="#007dff"/><stop offset="0.833" stop-color="#002cff"/><stop offset="0.917" stop-color="#0000d6"/><stop offset="1.000" stop-color="#000080"/></linearGradient><linearGradient id="h345"><stop offset="0.000" stop-color="#ffb100"/><stop offset="0.083" stop-color="#ffd500"/><stop offset="0.167" stop-color="#fffa00"/><stop offset="0.250" stop-color="#ddff22"/><stop offset="0.333" stop-color="#b3ff4c"/><stop offset="0.417" stop-color="#89ff76"/><stop offset="0.500" stop-color="#45ffba"/><stop offset="0.583" stop-color="#00ffff"/><stop offset="0.667" stop-color="#00bbff"/><stop offset="0.750" stop-color="#0073ff"/><stop offset="0.833" stop-color="#0025ff"/><stop offset="0.917" stop-color="#0000d2"/><stop offset="1.000" stop-color="#000080"/></linearGradient><linearGradient id="h346"><stop offset="0.000" stop-color="#ffbe00"/><stop offset="0.083" stop-color="#ffe100"/><stop offset="0.167" stop-color="#f8ff07"/><stop offset="0.250" stop-color="#d2ff2d"/><stop offset="0.333" stop-color="#a8ff57"/><stop offset="0.417" stop-color="#7bff84"/><stop offset="0.500" stop-color="#37ffc8"/><stop offset="0.583" stop-color="#00f4ff"/><stop offset="0.667" stop-color="#00b2ff"/><stop offset="0.750" stop-color="#006bff"/><stop offset="0.833" stop-color="#001fff"/><stop offset="0.917" stop-color="#0000cf"/><stop offset="1.000" stop-color="#000080"/></linearGradient><linearGradient id="h347"><stop offset="0.000" stop-color="#ffc900"/><stop offset="0.083" stop-color="#ffeb00"/><stop offset="0.167" stop-color="#edff12"/><stop offset="0.250" stop-color="#c8ff37"/><stop offset="0.333" stop-color="#9fff60"/><stop offset="0.417" stop-color="#6eff91"/><stop offset="0.500" stop-color="#2cffd3"/><stop offset="0.583" stop-color="#00eaff"/><stop offset="0.667" stop-color="#00abff"/><stop offset="0.750" stop-color="#0064ff"/><stop offset="0.833" stop-color="#001bff"/><stop offset="0.917" stop-color="#0000cd"/><stop offset="1.000" stop-color="#000080"/></linearGradient><linearGradient id="h348"><stop offset="0.000" stop-color="#ffd400"/><stop offset="0.083" stop-color="#fff700"/><stop offset="0.167" stop-color="#e3ff1c"/><stop offset="0.250" stop-color="#beff41"/><stop offset="0.333" stop-color="#96ff69"/><stop offset="0.417" stop-color="#61ff9e"/><stop offset="0.500" stop-color="#21ffde"/><stop offset="0.583" stop-color="#00e1ff"/><stop offset="0.667" stop-color="#00a4ff"/><stop offset="0.750" stop-color="#005eff"/><stop offset="0.833" stop-color="#0017ff"/><stop offset="0.917" stop-color="#0000cb"/><stop offset="1.000" stop-color="#000080"/></linearGradient><linearGradient id="h349"><stop offset="0.000" stop-color="#ffdf00"/><stop offset="0.083" stop-color="#fcff03"/><stop offset="0.167" stop-color="#d9ff26"/><stop offset="0.250" stop-color="#b3ff4c"/><stop offset="0.333" stop-color="#8dff72"/><stop offset="0.417" stop-color="#53ffac"/><stop offset="0.500" stop-color="#16ffe9"/><stop offset="0.583" stop-color="#00d8ff"/><stop offset="0.667" stop-color="#009cff"/><stop offset="0.750" stop-color="#0058ff"/><stop offset="0.833" stop-color="#0013ff"/><stop offset="0.917" stop-color="#0000c9"/><stop offset="1.000" stop-color="#000080"/></linearGradient><linearGradient id="h350"><stop offset="0.000" stop-color="#ffeb00"/><stop offset="0.083" stop-color="#f0ff0f"/><stop offset="0.167" stop-color="#ceff31"/><stop offset="0.250" stop-color="#a9ff56"/><stop offset="0.333" stop-color="#83ff7c"/><stop offset="0.417" stop-color="#46ffb9"/><stop offset="0.500" stop-color="#0bfff4"/><stop offset="0.583" stop-color="#00cfff"/><stop offset="0.667" stop-color="#0095ff"/><stop offset="0.750" stop-color="#0051ff"/><stop offset="0.833" stop-color="#000fff"/><stop offset="0.917" stop-color="#0000c6"/><stop offset="1.000" stop-color="#000080"/></linearGradient><linearGradient id="h351"><stop offset="0.000" stop-color="#fff900"/><stop offset="0.083" stop-color="#e4ff1b"/><stop offset="0.167" stop-color="#c2ff3d"/><stop offset="0.250" stop-color="#9eff61"/><stop offset="0.333" stop-color="#73ff8c"/><stop offset="0.417" stop-color="#39ffc6"/><stop offset="0.500" stop-color="#00feff"/><stop offset="0.583" stop-color="#00c6ff"/><stop offset="0.667" stop-color="#008cff"/><stop offset="0.750" stop-color="#004bff"/><stop offset="0.833" stop-color="#000aff"/><stop offset="0.917" stop-color="#0000c4"/><stop offset="1.000" stop-color="#000080"/></linearGradient><linearGradient id="h352"><stop offset="0.000" stop-color="#f8ff07"/><stop offset="0.083" stop-color="#d8ff27"/><stop offset="0.167" stop-color="#b6ff49"/><stop offset="0.250" stop-color="#94ff6b"/><stop offset="0.333" stop-color="#64ff9b"/><stop offset="0.417" stop-color="#2cffd3"/><stop offset="0.500" stop-color="#00f3ff"/><stop offset="0.583" stop-color="#00bcff"/><stop offset="0.667" stop-color="#0083ff"/><stop offset="0.750" stop-color="#0045ff"/><stop offset="0.833" stop-color="#0006ff"/><stop offset="0.917" stop-color="#0000c2"/><stop offset="1.000" stop-color="#000080"/></linearGradient><linearGradient id="h353"><stop offset="0.000" stop-color="#ebff14"/><stop offset="0.083" stop-color="#ccff33"/><stop offset="0.167" stop-color="#aaff55"/><stop offset="0.250" stop-color="#89ff76"/><stop offset="0.333" stop-color="#54ffab"/><stop offset="0.417" stop-color="#1effe1"/><stop offset="0.500" stop-color="#00e8ff"/><stop offset="0.583" stop-color="#00b3ff"/><stop offset="0.667" stop-color="#007bff"/><stop offset="0.750" stop-color="#003eff"/><stop offset="0.833" stop-color="#0001ff"/><stop offset="0.917" stop-color="#0000c0"/><stop offset="1.000" stop-color="#000080"/></linearGradient><linearGradient id="h354"><stop offset="0.000" stop-color="#deff21"/><stop offset="0.083" stop-color="#bfff40"/><stop offset="0.167" stop-color="#9fff60"/><stop offset="0.250" stop-color="#7bff84"/><stop offset="0.333" stop-color="#46ffb9"/><stop offset="0.417" stop-color="#12ffed"/><stop offset="0.500" stop-color="#00deff"/><stop offset="0.583" stop-color="#00abff"/><stop offset="0.667" stop-color="#0073ff"/><stop offset="0.750" stop-color="#0038ff"/><stop offset="0.833" stop-color="#0000fc"/><stop offset="0.917" stop-color="#0000be"/><stop offset="1.000" stop-color="#000080"/></linearGradient><linearGradient id="h355"><stop offset="0.000" stop-color="#d2ff2d"/><stop offset="0.083" stop-color="#b3ff4c"/><stop offset="0.167" stop-color="#94ff6b"/><stop offset="0.250" stop-color="#6bff94"/><stop offset="0.333" stop-color="#38ffc7"/><stop offset="0.417" stop-color="#06fff9"/><stop offset="0.500" stop-color="#00d3ff"/><stop offset="0.583" stop-color="#00a2ff"/><stop offset="0.667" stop-color="#006bff"/><stop offset="0.750" stop-color="#0033ff"/><stop offset="0.833" stop-color="#0000f8"/><stop offset="0.917" stop-color="#0000bc"/><stop offset="1.000" stop-color="#000080"/></linearGradient><linearGradient id="h356"><stop offset="0.000" stop-color="#c4ff3b"/><stop offset="0.083" stop-color="#a6ff59"/><stop offset="0.167" stop-color="#89ff76"/><stop offset="0.250" stop-color="#5affa5"/><stop offset="0.333" stop-color="#2affd5"/><stop offset="0.417" stop-color="#00f9ff"/><stop offset="0.500" stop-color="#00c9ff"/><stop offset="0.583" stop-color="#009aff"/><stop offset="0.667" stop-color="#0063ff"/><stop offset="0.750" stop-color="#002dff"/><stop offset="0.833" stop-color="#0000f4"/><stop offset="0.917" stop-color="#0000b9"/><stop offset="1.000" stop-color="#000080"/></linearGradient><linearGradient id="h357"><stop offset="0.000" stop-color="#b6ff49"/><stop offset="0.083" stop-color="#9aff65"/><stop offset="0.167" stop-color="#79ff86"/><stop offset="0.250" stop-color="#4affb5"/><stop offset="0.333" stop-color="#1bffe4"/><stop offset="0.417" stop-color="#00ecff"/><stop offset="0.500" stop-color="#00bfff"/><stop offset="0.583" stop-color="#0090ff"/><stop offset="0.667" stop-color="#005bff"/><stop offset="0.750" stop-color="#0027ff"/><stop offset="0.833" stop-color="#0000ef"/><stop offset="0.917" stop-color="#0000b7"/><stop offset="1.000" stop-color="#000080"/></linearGradient><linearGradient id="h358"><stop offset="0.000" stop-color="#a8ff57"/><stop offset="0.083" stop-color="#8dff72"/><stop offset="0.167" stop-color="#67ff98"/><stop offset="0.250" stop-color="#3affc5"/><stop offset="0.333" stop-color="#0dfff2"/><stop offset="0.417" stop-color="#00e0ff"/><stop offset="0.500" stop-color="#00b4ff"/><stop offset="0.583" stop-color="#0086ff"/><stop offset="0.667" stop-color="#0054ff"/><stop offset="0.750" stop-color="#0021ff"/><stop offset="0.833" stop-color="#0000eb"/><stop offset="0.917" stop-color="#0000b5"/><stop offset="1.000" stop-color="#000080"/></linearGradient><linearGradient id="h359"><stop offset="0.000" stop-color="#9dff62"/><stop offset="0.083" stop-color="#83ff7c"/><stop offset="0.167" stop-color="#59ffa6"/><stop offset="0.250" stop-color="#2dffd2"/><stop offset="0.333" stop-color="#02fffd"/><stop offset="0.417" stop-color="#00d7ff"/><stop offset="0.500" stop-color="#00acff"/><stop offset="0.583" stop-color="#007fff"/><stop offset="0.667" stop-color="#004eff"/><stop offset="0.750" stop-color="#001dff"/><stop offset="0.833" stop-color="#0000e8"/><stop offset="0.917" stop-color="#0000b4"/><stop offset="1.000" stop-color="#000080"/></linearGradient><linearGradient id="h360"><stop offset="0.000" stop-color="#97ff68"/><stop offset="0.083" stop-color="#7eff81"/><stop offset="0.167" stop-color="#53ffac"/><stop offset="0.250" stop-color="#29ffd6"/><stop offset="0.333" stop-color="#00fdff"/><stop offset="0.417" stop-color="#00d3ff"/><stop offset="0.500" stop-color="#00aaff"/><stop offset="0.583" stop-color="#007cff"/><stop offset="0.667" stop-color="#004cff"/><stop offset="0.750" stop-color="#001bff"/><stop offset="0.833" stop-color="#0000e7"/><stop offset="0.917" stop-color="#0000b3"/><stop offset="1.000" stop-color="#000080"/></linearGradient><linearGradient id="h361"><stop offset="0.000" stop-color="#92ff6d"/><stop offset="0.083" stop-color="#78ff87"/><stop offset="0.167" stop-color="#4effb1"/><stop offset="0.250" stop-color="#24ffdb"/><stop offset="0.333" stop-color="#00f9ff"/><stop offset="0.417" stop-color="#00d0ff"/><stop offset="0.500" stop-color="#00a7ff"/><stop offset="0.583" stop-color="#007aff"/><stop offset="0.667" stop-color="#004aff"/><stop offset="0.750" stop-color="#001aff"/><stop offset="0.833" stop-color="#0000e6"/><stop offset="0.917" stop-color="#0000b3"/><stop offset="1.000" stop-color="#000080"/></linearGradient><linearGradient id="h362"><stop offset="0.000" stop-color="#8dff72"/><stop offset="0.083" stop-color="#72ff8d"/><stop offset="0.167" stop-color="#48ffb7"/><stop offset="0.250" stop-color="#1fffe0"/><stop offset="0.333" stop-color="#00f5ff"/><stop offset="0.417" stop-color="#00cdff"/><stop offset="0.500" stop-color="#00a4ff"/><stop offset="0.583" stop-color="#0077ff"/><stop offset="0.667" stop-color="#0048ff"/><stop offset="0.750" stop-color="#0018ff"/><stop offset="0.833" stop-color="#0000e5"/><stop offset="0.917" stop-color="#0000b2"/><stop offset="1.000" stop-color="#000080"/></linearGradient><linearGradient id="h363"><stop offset="0.000" stop-color="#89ff76"/><stop offset="0.083" stop-color="#6cff93"/><stop offset="0.167" stop-color="#43ffbc"/><stop offset="0.250" stop-color="#1bffe4"/><stop offset="0.333" stop-color="#00f2ff"/><stop offset="0.417" stop-color="#00caff"/><stop offset="0.500" stop-color="#00a2ff"/><stop offset="0.583" stop-color="#0075ff"/><stop offset="0.667" stop-color="#0046ff"/><stop offset="0.750" stop-color="#0017ff"/><stop offset="0.833" stop-color="#0000e4"/><stop offset="0.917" stop-color="#0000b2"/><stop offset="1.000" stop-color="#000080"/></linearGradient><linearGradient id="h364"><stop offset="0.000" stop-color="#85ff7a"/><stop offset="0.083" stop-color="#66ff99"/><stop offset="0.167" stop-color="#3effc1"/><stop offset="0.250" stop-color="#17ffe8"/><stop offset="0.333" stop-color="#00eeff"/><stop offset="0.417" stop-color="#00c6ff"/><stop offset="0.500" stop-color="#009fff"/><stop offset="0.583" stop-color="#0072ff"/><stop offset="0.667" stop-color="#0044ff"/><stop offset="0.750" stop-color="#0016ff"/><stop offset="0.833" stop-color="#0000e3"/><stop offset="0.917" stop-color="#0000b1"/><stop offset="1.000" stop-color="#000080"/></linearGradient><linearGradient id="h365"><stop offset="0.000" stop-color="#81ff7e"/><stop offset="0.083" stop-color="#61ff9e"/><stop offset="0.167" stop-color="#3affc5"/><stop offset="0.250" stop-color="#12ffed"/><stop offset="0.333" stop-color="#00eaff"/><stop offset="0.417" stop-color="#00c3ff"/><stop offset="0.500" stop-color="#009cff"/><stop offset="0.583" stop-color="#0070ff"/><stop offset="0.667" stop-color="#0042ff"/><stop offset="0.750" stop-color="#0014ff"/><stop offset="0.833" stop-color="#0000e2"/><stop offset="0.917" stop-color="#0000b1"/><stop offset="1.000" stop-color="#000080"/></linearGradient><linearGradient id="h366"><stop offset="0.000" stop-color="#7dff82"/><stop offset="0.083" stop-color="#5cffa3"/><stop offset="0.167" stop-color="#35ffca"/><stop offset="0.250" stop-color="#0ffff0"/><stop offset="0.333" stop-color="#00e7ff"/><stop offset="0.417" stop-color="#00c0ff"/><stop offset="0.500" stop-color="#009aff"/><stop offset="0.583" stop-color="#006eff"/><stop offset="0.667" stop-color="#0040ff"/><stop offset="0.750" stop-color="#0013ff"/><stop offset="0.833" stop-color="#0000e1"/><stop offset="0.917" stop-color="#0000b0"/><stop offset="1.000" stop-color="#000080"/></linearGradient><linearGradient id="h367"><stop offset="0.000" stop-color="#7aff85"/><stop offset="0.083" stop-color="#57ffa8"/><stop offset="0.167" stop-color="#31ffce"/><stop offset="0.250" stop-color="#0bfff4"/><stop offset="0.333" stop-color="#00e4ff"/><stop offset="0.417" stop-color="#00beff"/><stop offset="0.500" stop-color="#0098ff"/><stop offset="0.583" stop-color="#006bff"/><stop offset="0.667" stop-color="#003eff"/><stop offset="0.750" stop-color="#0011ff"/><stop offset="0.833" stop-color="#0000e0"/><stop offset="0.917" stop-color="#0000b0"/><stop offset="1.000" stop-color="#000080"/></linearGradient><linearGradient id="h368"><stop offset="0.000" stop-color="#77ff88"/><stop offset="0.083" stop-color="#52ffad"/><stop offset="0.167" stop-color="#2dffd2"/><stop offset="0.250" stop-color="#07fff8"/><stop offset="0.333" stop-color="#00e1ff"/><stop offset="0.417" stop-color="#00bbff"/><stop offset="0.500" stop-color="#0095ff"/><stop offset="0.583" stop-color="#0069ff"/><stop offset="0.667" stop-color="#003dff"/><stop offset="0.750" stop-color="#0010ff"/><stop offset="0.833" stop-color="#0000df"/><stop offset="0.917" stop-color="#0000af"/><stop offset="1.000" stop-color="#000080"/></linearGradient><linearGradient id="h369"><stop offset="0.000" stop-color="#76ff89"/><stop offset="0.083" stop-color="#52ffad"/><stop offset="0.167" stop-color="#2cffd3"/><stop offset="0.250" stop-color="#06fff9"/><stop offset="0.333" stop-color="#00e0ff"/><stop offset="0.417" stop-color="#00baff"/><stop offset="0.500" stop-color="#0095ff"/><stop offset="0.583" stop-color="#0069ff"/><stop offset="0.667" stop-color="#003cff"/><stop offset="0.750" stop-color="#0010ff"/><stop offset="0.833" stop-color="#0000df"/><stop offset="0.917" stop-color="#0000af"/><stop offset="1.000" stop-color="#000080"/></linearGradient><linearGradient id="h370"><stop offset="0.000" stop-color="#c60000"/><stop offset="0.010" stop-color="#ed0000"/><stop offset="0.020" stop-color="#ff1600"/><stop offset="0.030" stop-color="#ff3d00"/><stop offset="0.040" stop-color="#ff6500"/><stop offset="0.050" stop-color="#ff8d00"/><stop offset="0.060" stop-color="#ffb400"/><stop offset="0.070" stop-color="#ffdc00"/><stop offset="0.080" stop-color="#fbff04"/><stop offset="0.090" stop-color="#d3ff2c"/><stop offset="0.100" stop-color="#acff53"/><stop offset="0.110" stop-color="#84ff7b"/><stop offset="0.120" stop-color="#5cffa3"/><stop offset="0.130" stop-color="#35ffca"/><stop offset="0.140" stop-color="#0dfff2"/><stop offset="0.150" stop-color="#00e5ff"/><stop offset="0.160" stop-color="#00bdff"/><stop offset="0.170" stop-color="#0096ff"/><stop offset="0.180" stop-color="#006eff"/><stop offset="0.190" stop-color="#0046ff"/><stop offset="0.200" stop-color="#001fff"/><stop offset="0.210" stop-color="#0000f6"/><stop offset="0.220" stop-color="#0000cf"/><stop offset="0.230" stop-color="#0000a7"/><stop offset="0.240" stop-color="#000080"/><stop offset="0.250" stop-color="#0000a7"/><stop offset="0.260" stop-color="#0000cf"/><stop offset="0.270" stop-color="#0000f6"/><stop offset="0.280" stop-color="#001fff"/><stop offset="0.290" stop-color="#0046ff"/><stop offset="0.300" stop-color="#006eff"/><stop offset="0.310" stop-color="#0096ff"/><stop offset="0.320" stop-color="#00bdff"/><stop offset="0.330" stop-color="#00e5ff"/><stop offset="0.340" stop-color="#0dfff2"/><stop offset="0.350" stop-color="#35ffca"/><stop offset="0.360" stop-color="#5cffa3"/><stop offset="0.370" stop-color="#84ff7b"/><stop offset="0.380" stop-color="#acff53"/><stop offset="0.390" stop-color="#d3ff2c"/><stop offset="0.400" stop-color="#fbff04"/><stop offset="0.410" stop-color="#ffdc00"/><stop offset="0.420" stop-color="#ffb400"/><stop offset="0.430" stop-color="#ff8d00"/><stop offset="0.440" stop-color="#ff6500"/><stop offset="0.450" stop-color="#ff3d00"/><stop offset="0.460" stop-color="#ff1600"/><stop offset="0.470" stop-color="#ed0000"/><stop offset="0.480" stop-color="#c60000"/><stop offset="0.490" stop-color="#9e0000"/><stop offset="0.500" stop-color="#800000"/><stop offset="0.510" stop-color="#9e0000"/><stop offset="0.520" stop-color="#c60000"/><stop offset="0.530" stop-color="#ed0000"/><stop offset="0.540" stop-color="#ff1600"/><stop offset="0.550" stop-color="#ff3d00"/><stop offset="0.560" stop-color="#ff6500"/><stop offset="0.570" stop-color="#ff8d00"/><stop offset="0.580" stop-color="#ffb400"/><stop offset="0.590" stop-color="#ffdc00"/><stop offset="0.600" stop-color="#fbff04"/><stop offset="0.610" stop-color="#d3ff2c"/><stop offset="0.620" stop-color="#acff53"/><stop offset="0.630" stop-color="#84ff7b"/><stop offset="0.640" stop-color="#5cffa3"/><stop offset="0.650" stop-color="#35ffca"/><stop offset="0.660" stop-color="#0dfff2"/><stop offset="0.670" stop-color="#00e5ff"/><stop offset="0.680" stop-color="#00bdff"/><stop offset="0.690" stop-color="#0096ff"/><stop offset="0.700" stop-color="#006eff"/><stop offset="0.710" stop-color="#0046ff"/><stop offset="0.720" stop-color="#001fff"/><stop offset="0.730" stop-color="#0000f6"/><stop offset="0.740" stop-color="#0000cf"/><stop offset="0.750" stop-color="#0000a7"/><stop offset="0.760" stop-color="#000080"/><stop offset="0.770" stop-color="#0000a7"/><stop offset="0.780" stop-color="#0000cf"/><stop offset="0.790" stop-color="#0000f6"/><stop offset="0.800" stop-color="#001fff"/><stop offset="0.810" stop-color="#0046ff"/><stop offset="0.820" stop-color="#006eff"/><stop offset="0.830" stop-color="#0096ff"/><stop offset="0.840" stop-color="#00bdff"/><stop offset="0.850" stop-color="#00e5ff"/><stop offset="0.860" stop-color="#0dfff2"/><stop offset="0.870" stop-color="#35ffca"/><stop offset="0.880" stop-color="#5cffa3"/><stop offset="0.890" stop-color="#84ff7b"/><stop offset="0.900" stop-color="#acff53"/><stop offset="0.910" stop-color="#d3ff2c"/><stop offset="0.920" stop-color="#fbff04"/><stop offset="0.930" stop-color="#ffdc00"/><stop offset="0.940" stop-color="#ffb400"/><stop offset="0.950" stop-color="#ff8d00"/><stop offset="0.960" stop-color="#ff6500"/><stop offset="0.970" stop-color="#ff3d00"/><stop offset="0.980" stop-color="#ff1600"/><stop offset="0.990" stop-color="#ed0000"/><stop offset="1.000" stop-color="#c60000"/></linearGradient><filter id="bl" x="-50%" y="-50%" width="200%" height="200%"><feGaussianBlur stdDeviation="3"/></filter><linearGradient id="g371" x2="0" y2="1"><stop offset="0.00" stop-color="#800000"/><stop offset="0.03" stop-color="#9f0000"/><stop offset="0.06" stop-color="#bf0000"/><stop offset="0.09" stop-color="#df0000"/><stop offset="0.12" stop-color="#ff0000"/><stop offset="0.16" stop-color="#ff2000"/><stop offset="0.19" stop-color="#ff4000"/><stop offset="0.22" stop-color="#ff6000"/><stop offset="0.25" stop-color="#ff8000"/><stop offset="0.28" stop-color="#ff9f00"/><stop offset="0.31" stop-color="#ffbf00"/><stop offset="0.34" stop-color="#ffdf00"/><stop offset="0.38" stop-color="#ffff00"/><stop offset="0.41" stop-color="#dfff20"/><stop offset="0.44" stop-color="#bfff40"/><stop offset="0.47" stop-color="#9fff60"/><stop offset="0.50" stop-color="#80ff80"/><stop offset="0.53" stop-color="#60ff9f"/><stop offset="0.56" stop-color="#40ffbf"/><stop offset="0.59" stop-color="#20ffdf"/><stop offset="0.62" stop-color="#00ffff"/><stop offset="0.66" stop-color="#00dfff"/><stop offset="0.69" stop-color="#00bfff"/><stop offset="0.72" stop-color="#009fff"/><stop offset="0.75" stop-color="#0080ff"/><stop offset="0.78" stop-color="#0060ff"/><stop offset="0.81" stop-color="#0040ff"/><stop offset="0.84" stop-color="#0020ff"/><stop offset="0.88" stop-color="#0000ff"/><stop offset="0.91" stop-color="#0000df"/><stop offset="0.94" stop-color="#0000bf"/><stop offset="0.97" stop-color="#00009f"/><stop offset="1.00" stop-color="#000080"/></linearGradient></defs><path d="M66.5 11.3V276.5H375.4" fill="none" stroke="#6e6e6e" stroke-width="1"/>
<path d="M66.5 276.4V273.4" stroke="#6e6e6e" stroke-width="1"/>
<path d="M143.7 276.4V273.4" stroke="#6e6e6e" stroke-width="1"/>
<path d="M220.9 276.4V273.4" stroke="#6e6e6e" stroke-width="1"/>
<path d="M298.2 276.4V273.4" stroke="#6e6e6e" stroke-width="1"/>
<path d="M375.4 276.4V273.4" stroke="#6e6e6e" stroke-width="1"/>
<path d="M66.5 276.4H69.5" stroke="#6e6e6e" stroke-width="1"/>
<path d="M66.5 143.9H69.5" stroke="#6e6e6e" stroke-width="1"/>
<path d="M66.5 11.4H69.5" stroke="#6e6e6e" stroke-width="1"/>
<rect x="64.45" y="30.82" width="4.10" height="56.98" rx="2.05" fill="url(#g1)"/>
<rect x="64.45" y="200.00" width="4.10" height="63.60" rx="2.05" fill="url(#g2)"/>
<rect x="70.63" y="34.36" width="4.10" height="57.93" rx="2.05" fill="url(#g3)"/>
<rect x="70.63" y="195.51" width="4.10" height="64.56" rx="2.05" fill="url(#g4)"/>
<rect x="76.81" y="37.89" width="4.10" height="58.89" rx="2.05" fill="url(#g5)"/>
<rect x="76.81" y="191.02" width="4.10" height="65.51" rx="2.05" fill="url(#g6)"/>
<rect x="82.98" y="41.43" width="4.10" height="59.84" rx="2.05" fill="url(#g7)"/>
<rect x="82.98" y="186.53" width="4.10" height="66.47" rx="2.05" fill="url(#g8)"/>
<rect x="89.16" y="44.96" width="4.10" height="60.80" rx="2.05" fill="url(#g9)"/>
<rect x="89.16" y="182.05" width="4.10" height="67.42" rx="2.05" fill="url(#g10)"/>
<rect x="95.34" y="48.49" width="4.10" height="61.75" rx="2.05" fill="url(#g11)"/>
<rect x="95.34" y="177.56" width="4.10" height="68.38" rx="2.05" fill="url(#g12)"/>
<rect x="101.52" y="52.03" width="4.10" height="62.70" rx="2.05" fill="url(#g13)"/>
<rect x="101.52" y="173.07" width="4.10" height="69.33" rx="2.05" fill="url(#g14)"/>
<rect x="107.70" y="55.56" width="4.10" height="63.66" rx="2.05" fill="url(#g15)"/>
<rect x="107.70" y="168.58" width="4.10" height="70.28" rx="2.05" fill="url(#g16)"/>
<rect x="113.87" y="59.09" width="4.10" height="64.61" rx="2.05" fill="url(#g17)"/>
<rect x="113.87" y="164.09" width="4.10" height="71.24" rx="2.05" fill="url(#g18)"/>
<rect x="120.05" y="62.63" width="4.10" height="65.57" rx="2.05" fill="url(#g19)"/>
<rect x="120.05" y="159.61" width="4.10" height="72.19" rx="2.05" fill="url(#g20)"/>
<rect x="126.23" y="66.16" width="4.10" height="66.52" rx="2.05" fill="url(#g21)"/>
<rect x="126.23" y="155.12" width="4.10" height="73.15" rx="2.05" fill="url(#g22)"/>
<rect x="132.41" y="69.69" width="4.10" height="67.47" rx="2.05" fill="url(#g23)"/>
<rect x="132.41" y="150.63" width="4.10" height="74.10" rx="2.05" fill="url(#g24)"/>
<rect x="138.59" y="73.23" width="4.10" height="68.43" rx="2.05" fill="url(#g25)"/>
<rect x="138.59" y="146.14" width="4.10" height="75.05" rx="2.05" fill="url(#g26)"/>
<rect x="144.76" y="75.44" width="4.10" height="62.72" rx="2.05" fill="url(#g27)"/>
<rect x="144.76" y="148.32" width="4.10" height="69.35" rx="2.05" fill="url(#g28)"/>
<rect x="150.94" y="78.53" width="4.10" height="57.42" rx="2.05" fill="url(#g29)"/>
<rect x="150.94" y="152.29" width="4.10" height="61.84" rx="2.05" fill="url(#g30)"/>
<rect x="157.12" y="82.95" width="4.10" height="45.50" rx="2.05" fill="url(#g31)"/>
<rect x="157.12" y="159.36" width="4.10" height="51.24" rx="2.05" fill="url(#g32)"/>
<rect x="163.30" y="85.60" width="4.10" height="34.89" rx="2.05" fill="url(#g33)"/>
<rect x="163.30" y="167.31" width="4.10" height="39.75" rx="2.05" fill="url(#g34)"/>
<rect x="169.48" y="88.69" width="4.10" height="20.76" rx="2.05" fill="url(#g35)"/>
<rect x="169.48" y="171.73" width="4.10" height="31.80" rx="2.05" fill="url(#g36)"/>
<rect x="175.65" y="92.22" width="4.10" height="13.25" rx="2.05" fill="url(#g37)"/>
<rect x="175.65" y="177.03" width="4.10" height="22.97" rx="2.05" fill="url(#g38)"/>
<rect x="181.83" y="94.43" width="4.10" height="11.04" rx="2.05" fill="url(#g39)"/>
<rect x="181.83" y="181.00" width="4.10" height="15.46" rx="2.05" fill="url(#g40)"/>
<rect x="188.01" y="97.52" width="4.10" height="10.16" rx="2.05" fill="url(#g41)"/>
<rect x="188.01" y="180.12" width="4.10" height="12.81" rx="2.05" fill="url(#g42)"/>
<rect x="194.19" y="98.40" width="4.10" height="10.60" rx="2.05" fill="url(#g43)"/>
<rect x="194.19" y="179.24" width="4.10" height="10.16" rx="2.05" fill="url(#g44)"/>
<rect x="200.37" y="98.40" width="4.10" height="11.04" rx="2.05" fill="url(#g45)"/>
<rect x="200.37" y="178.35" width="4.10" height="10.60" rx="2.05" fill="url(#g46)"/>
<rect x="206.54" y="98.55" width="4.10" height="11.34" rx="2.05" fill="url(#g47)"/>
<rect x="206.54" y="177.91" width="4.10" height="11.04" rx="2.05" fill="url(#g48)"/>
<rect x="212.72" y="98.70" width="4.10" height="11.19" rx="2.05" fill="url(#g49)"/>
<rect x="212.72" y="177.91" width="4.10" height="11.04" rx="2.05" fill="url(#g50)"/>
<rect x="218.90" y="98.85" width="4.10" height="11.04" rx="2.05" fill="#9e0000"/>
<rect x="218.90" y="177.91" width="4.10" height="11.04" rx="2.05" fill="#9e0000"/>
<rect x="225.08" y="98.85" width="4.10" height="11.04" rx="2.05" fill="url(#g51)"/>
<rect x="225.08" y="177.91" width="4.10" height="11.19" rx="2.05" fill="url(#g52)"/>
<rect x="231.26" y="98.85" width="4.10" height="11.04" rx="2.05" fill="url(#g53)"/>
<rect x="231.26" y="177.91" width="4.10" height="11.34" rx="2.05" fill="url(#g54)"/>
<rect x="237.43" y="98.85" width="4.10" height="10.60" rx="2.05" fill="url(#g55)"/>
<rect x="237.43" y="178.35" width="4.10" height="11.04" rx="2.05" fill="url(#g56)"/>
<rect x="243.61" y="98.40" width="4.10" height="10.16" rx="2.05" fill="url(#g57)"/>
<rect x="243.61" y="178.79" width="4.10" height="10.60" rx="2.05" fill="url(#g58)"/>
<rect x="249.79" y="94.87" width="4.10" height="12.81" rx="2.05" fill="url(#g59)"/>
<rect x="249.79" y="180.12" width="4.10" height="10.16" rx="2.05" fill="url(#g60)"/>
<rect x="255.97" y="91.34" width="4.10" height="15.46" rx="2.05" fill="url(#g61)"/>
<rect x="255.97" y="182.33" width="4.10" height="11.04" rx="2.05" fill="url(#g62)"/>
<rect x="262.15" y="87.80" width="4.10" height="22.97" rx="2.05" fill="url(#g63)"/>
<rect x="262.15" y="182.33" width="4.10" height="13.25" rx="2.05" fill="url(#g64)"/>
<rect x="268.32" y="84.27" width="4.10" height="31.80" rx="2.05" fill="url(#g65)"/>
<rect x="268.32" y="178.35" width="4.10" height="20.76" rx="2.05" fill="url(#g66)"/>
<rect x="274.50" y="80.74" width="4.10" height="39.75" rx="2.05" fill="url(#g67)"/>
<rect x="274.50" y="167.31" width="4.10" height="34.89" rx="2.05" fill="url(#g68)"/>
<rect x="280.68" y="77.20" width="4.10" height="51.24" rx="2.05" fill="url(#g69)"/>
<rect x="280.68" y="159.36" width="4.10" height="45.50" rx="2.05" fill="url(#g70)"/>
<rect x="286.86" y="73.67" width="4.10" height="61.84" rx="2.05" fill="url(#g71)"/>
<rect x="286.86" y="151.85" width="4.10" height="57.42" rx="2.05" fill="url(#g72)"/>
<rect x="293.04" y="70.14" width="4.10" height="69.35" rx="2.05" fill="url(#g73)"/>
<rect x="293.04" y="149.64" width="4.10" height="62.72" rx="2.05" fill="url(#g74)"/>
<rect x="299.21" y="66.60" width="4.10" height="75.05" rx="2.05" fill="url(#g75)"/>
<rect x="299.21" y="146.14" width="4.10" height="68.43" rx="2.05" fill="url(#g76)"/>
<rect x="305.39" y="63.07" width="4.10" height="74.10" rx="2.05" fill="url(#g77)"/>
<rect x="305.39" y="150.63" width="4.10" height="67.47" rx="2.05" fill="url(#g78)"/>
<rect x="311.57" y="59.54" width="4.10" height="73.15" rx="2.05" fill="url(#g79)"/>
<rect x="311.57" y="155.12" width="4.10" height="66.52" rx="2.05" fill="url(#g80)"/>
<rect x="317.75" y="56.00" width="4.10" height="72.19" rx="2.05" fill="url(#g81)"/>
<rect x="317.75" y="159.61" width="4.10" height="65.57" rx="2.05" fill="url(#g82)"/>
<rect x="323.93" y="52.47" width="4.10" height="71.24" rx="2.05" fill="url(#g83)"/>
<rect x="323.93" y="164.09" width="4.10" height="64.61" rx="2.05" fill="url(#g84)"/>
<rect x="330.10" y="48.93" width="4.10" height="70.28" rx="2.05" fill="url(#g85)"/>
<rect x="330.10" y="168.58" width="4.10" height="63.66" rx="2.05" fill="url(#g86)"/>
<rect x="336.28" y="45.40" width="4.10" height="69.33" rx="2.05" fill="url(#g87)"/>
<rect x="336.28" y="173.07" width="4.10" height="62.70" rx="2.05" fill="url(#g88)"/>
<rect x="342.46" y="41.87" width="4.10" height="68.38" rx="2.05" fill="url(#g89)"/>
<rect x="342.46" y="177.56" width="4.10" height="61.75" rx="2.05" fill="url(#g90)"/>
<rect x="348.64" y="38.33" width="4.10" height="67.42" rx="2.05" fill="url(#g91)"/>
<rect x="348.64" y="182.05" width="4.10" height="60.80" rx="2.05" fill="url(#g92)"/>
<rect x="354.82" y="34.80" width="4.10" height="66.47" rx="2.05" fill="url(#g93)"/>
<rect x="354.82" y="186.53" width="4.10" height="59.84" rx="2.05" fill="url(#g94)"/>
<rect x="360.99" y="31.27" width="4.10" height="65.51" rx="2.05" fill="url(#g95)"/>
<rect x="360.99" y="191.02" width="4.10" height="58.89" rx="2.05" fill="url(#g96)"/>
<rect x="367.17" y="27.73" width="4.10" height="64.56" rx="2.05" fill="url(#g97)"/>
<rect x="367.17" y="195.51" width="4.10" height="57.93" rx="2.05" fill="url(#g98)"/>
<rect x="373.35" y="24.20" width="4.10" height="63.60" rx="2.05" fill="url(#g99)"/>
<rect x="373.35" y="200.00" width="4.10" height="56.98" rx="2.05" fill="url(#g100)"/>
<circle cx="146.81" cy="143.90" r="2.05" fill="#c70000"/>
<circle cx="152.99" cy="143.90" r="2.05" fill="#ff8000"/>
<circle cx="159.17" cy="143.90" r="2.05" fill="#d1ff2e"/>
<circle cx="165.35" cy="143.90" r="2.05" fill="#4dffb2"/>
<circle cx="171.53" cy="143.90" r="2.05" fill="#05fffa"/>
<circle cx="177.70" cy="143.90" r="2.05" fill="#00b2ff"/>
<circle cx="183.88" cy="143.90" r="2.05" fill="#0061ff"/>
<circle cx="190.06" cy="143.90" r="2.05" fill="#0005ff"/>
<circle cx="196.24" cy="143.90" r="2.05" fill="#0000e6"/>
<circle cx="202.42" cy="143.90" r="2.05" fill="#0000e6"/>
<circle cx="208.59" cy="143.90" r="2.05" fill="#0000e6"/>
<circle cx="214.77" cy="143.90" r="2.05" fill="#0000e6"/>
<circle cx="220.95" cy="143.90" r="2.05" fill="#0000e6"/>
<circle cx="227.13" cy="143.90" r="2.05" fill="#0000e6"/>
<circle cx="233.31" cy="143.90" r="2.05" fill="#0000e6"/>
<circle cx="239.48" cy="143.90" r="2.05" fill="#0000e6"/>
<circle cx="245.66" cy="143.90" r="2.05" fill="#0000e6"/>
<circle cx="251.84" cy="143.90" r="2.05" fill="#0005ff"/>
<circle cx="258.02" cy="143.90" r="2.05" fill="#0061ff"/>
<circle cx="264.20" cy="143.90" r="2.05" fill="#00b2ff"/>
<circle cx="270.37" cy="143.90" r="2.05" fill="#05fffa"/>
<circle cx="276.55" cy="143.90" r="2.05" fill="#4dffb2"/>
<circle cx="282.73" cy="143.90" r="2.05" fill="#d1ff2e"/>
<circle cx="288.91" cy="143.90" r="2.05" fill="#ff8000"/>
<circle cx="295.09" cy="143.90" r="2.05" fill="#c70000"/>
<path d="M490.5 11.0V276.5H752.0" fill="none" stroke="#6e6e6e" stroke-width="1"/>
<path d="M490.9 276.8V273.8" stroke="#6e6e6e" stroke-width="1"/>
<path d="M556.2 276.8V273.8" stroke="#6e6e6e" stroke-width="1"/>
<path d="M621.5 276.8V273.8" stroke="#6e6e6e" stroke-width="1"/>
<path d="M686.7 276.8V273.8" stroke="#6e6e6e" stroke-width="1"/>
<path d="M752.0 276.8V273.8" stroke="#6e6e6e" stroke-width="1"/>
<path d="M490.9 232.6H493.9" stroke="#6e6e6e" stroke-width="1"/>
<path d="M490.9 144.4H493.9" stroke="#6e6e6e" stroke-width="1"/>
<path d="M490.9 56.2H493.9" stroke="#6e6e6e" stroke-width="1"/>
<rect x="488.75" y="77.51" width="4.30" height="133.78" rx="2.15" fill="url(#g101)"/>
<rect x="493.97" y="77.30" width="4.30" height="134.21" rx="2.15" fill="url(#g102)"/>
<rect x="499.19" y="77.09" width="4.30" height="134.63" rx="2.15" fill="url(#g103)"/>
<rect x="504.42" y="76.87" width="4.30" height="135.05" rx="2.15" fill="url(#g104)"/>
<rect x="509.64" y="76.66" width="4.30" height="135.48" rx="2.15" fill="url(#g105)"/>
<rect x="514.86" y="76.45" width="4.30" height="135.90" rx="2.15" fill="url(#g106)"/>
<rect x="520.08" y="76.24" width="4.30" height="136.32" rx="2.15" fill="url(#g107)"/>
<rect x="525.30" y="75.83" width="4.30" height="137.13" rx="2.15" fill="url(#g108)"/>
<rect x="530.53" y="75.36" width="4.30" height="138.07" rx="2.15" fill="url(#g109)"/>
<rect x="535.75" y="74.89" width="4.30" height="139.02" rx="2.15" fill="url(#g110)"/>
<rect x="540.97" y="74.42" width="4.30" height="139.96" rx="2.15" fill="url(#g111)"/>
<rect x="546.19" y="74.20" width="4.30" height="140.40" rx="2.15" fill="url(#g112)"/>
<rect x="551.41" y="73.98" width="4.30" height="140.84" rx="2.15" fill="url(#g113)"/>
<rect x="556.64" y="72.66" width="4.30" height="143.48" rx="2.15" fill="url(#g114)"/>
<rect x="561.86" y="71.78" width="4.30" height="145.25" rx="2.15" fill="url(#g115)"/>
<rect x="567.08" y="70.89" width="4.30" height="147.01" rx="2.15" fill="url(#g116)"/>
<rect x="572.30" y="70.28" width="4.30" height="148.25" rx="2.15" fill="url(#g117)"/>
<rect x="577.52" y="68.69" width="4.30" height="151.42" rx="2.15" fill="url(#g118)"/>
<rect x="582.75" y="67.10" width="4.30" height="154.60" rx="2.15" fill="url(#g119)"/>
<rect x="587.97" y="65.43" width="4.30" height="157.95" rx="2.15" fill="url(#g120)"/>
<rect x="593.19" y="63.22" width="4.30" height="162.36" rx="2.15" fill="url(#g121)"/>
<rect x="598.41" y="61.19" width="4.30" height="166.42" rx="2.15" fill="url(#g122)"/>
<rect x="603.63" y="57.66" width="4.30" height="173.47" rx="2.15" fill="url(#g123)"/>
<circle cx="605.78" cy="59.81" r="2.15" fill="#e5ff1a"/>
<circle cx="605.78" cy="228.99" r="2.15" fill="#e5ff1a"/>
<rect x="608.86" y="55.90" width="4.30" height="177.00" rx="2.15" fill="url(#g124)"/>
<circle cx="611.01" cy="58.05" r="2.15" fill="#ff7500"/>
<circle cx="611.01" cy="230.75" r="2.15" fill="#ff7500"/>
<rect x="614.08" y="54.14" width="4.30" height="180.53" rx="2.15" fill="url(#g125)"/>
<circle cx="616.23" cy="56.29" r="2.15" fill="#ff0f00"/>
<circle cx="616.23" cy="232.51" r="2.15" fill="#ff0f00"/>
<rect x="619.30" y="54.14" width="4.30" height="180.53" rx="2.15" fill="#9e0000"/>
<rect x="624.52" y="54.14" width="4.30" height="180.53" rx="2.15" fill="url(#g126)"/>
<circle cx="626.67" cy="56.29" r="2.15" fill="#ff0f00"/>
<circle cx="626.67" cy="232.51" r="2.15" fill="#ff0f00"/>
<rect x="629.74" y="55.90" width="4.30" height="177.00" rx="2.15" fill="url(#g127)"/>
<circle cx="631.89" cy="58.05" r="2.15" fill="#ff7500"/>
<circle cx="631.89" cy="230.75" r="2.15" fill="#ff7500"/>
<rect x="634.97" y="57.66" width="4.30" height="173.47" rx="2.15" fill="url(#g128)"/>
<circle cx="637.12" cy="59.81" r="2.15" fill="#e5ff1a"/>
<circle cx="637.12" cy="228.99" r="2.15" fill="#e5ff1a"/>
<rect x="640.19" y="61.19" width="4.30" height="166.42" rx="2.15" fill="url(#g129)"/>
<rect x="645.41" y="63.22" width="4.30" height="162.36" rx="2.15" fill="url(#g130)"/>
<rect x="650.63" y="65.43" width="4.30" height="157.95" rx="2.15" fill="url(#g131)"/>
<rect x="655.85" y="67.10" width="4.30" height="154.60" rx="2.15" fill="url(#g132)"/>
<rect x="661.08" y="68.69" width="4.30" height="151.42" rx="2.15" fill="url(#g133)"/>
<rect x="666.30" y="70.28" width="4.30" height="148.25" rx="2.15" fill="url(#g134)"/>
<rect x="671.52" y="70.89" width="4.30" height="147.01" rx="2.15" fill="url(#g135)"/>
<rect x="676.74" y="71.78" width="4.30" height="145.25" rx="2.15" fill="url(#g136)"/>
<rect x="681.96" y="72.66" width="4.30" height="143.48" rx="2.15" fill="url(#g137)"/>
<rect x="687.19" y="73.98" width="4.30" height="140.84" rx="2.15" fill="url(#g138)"/>
<rect x="692.41" y="74.20" width="4.30" height="140.40" rx="2.15" fill="url(#g139)"/>
<rect x="697.63" y="74.42" width="4.30" height="139.96" rx="2.15" fill="url(#g140)"/>
<rect x="702.85" y="74.89" width="4.30" height="139.02" rx="2.15" fill="url(#g141)"/>
<rect x="708.07" y="75.36" width="4.30" height="138.07" rx="2.15" fill="url(#g142)"/>
<rect x="713.30" y="75.83" width="4.30" height="137.13" rx="2.15" fill="url(#g143)"/>
<rect x="718.52" y="76.24" width="4.30" height="136.32" rx="2.15" fill="url(#g144)"/>
<rect x="723.74" y="76.45" width="4.30" height="135.90" rx="2.15" fill="url(#g145)"/>
<rect x="728.96" y="76.66" width="4.30" height="135.48" rx="2.15" fill="url(#g146)"/>
<rect x="734.18" y="76.87" width="4.30" height="135.05" rx="2.15" fill="url(#g147)"/>
<rect x="739.41" y="77.09" width="4.30" height="134.63" rx="2.15" fill="url(#g148)"/>
<rect x="744.63" y="77.30" width="4.30" height="134.21" rx="2.15" fill="url(#g149)"/>
<rect x="749.85" y="77.51" width="4.30" height="133.78" rx="2.15" fill="url(#g150)"/>
<rect x="488.90" y="142.80" width="97.02" height="3.2" fill="url(#h151)"/>
<rect x="656.98" y="142.80" width="97.02" height="3.2" fill="url(#h152)"/>
<path d="M62.5 379.5V594.5H376.2" fill="none" stroke="#6e6e6e" stroke-width="1"/>
<path d="M62.9 594.2V591.2" stroke="#6e6e6e" stroke-width="1"/>
<path d="M141.2 594.2V591.2" stroke="#6e6e6e" stroke-width="1"/>
<path d="M219.6 594.2V591.2" stroke="#6e6e6e" stroke-width="1"/>
<path d="M297.9 594.2V591.2" stroke="#6e6e6e" stroke-width="1"/>
<path d="M376.2 594.2V591.2" stroke="#6e6e6e" stroke-width="1"/>
<path d="M62.9 594.2H65.9" stroke="#6e6e6e" stroke-width="1"/>
<path d="M62.9 540.5H65.9" stroke="#6e6e6e" stroke-width="1"/>
<path d="M62.9 486.9H65.9" stroke="#6e6e6e" stroke-width="1"/>
<path d="M62.9 433.2H65.9" stroke="#6e6e6e" stroke-width="1"/>
<path d="M62.9 379.5H65.9" stroke="#6e6e6e" stroke-width="1"/>
<rect x="60.85" y="434.25" width="4.10" height="9.12" rx="2.05" fill="url(#g153)"/>
<rect x="60.85" y="530.33" width="4.10" height="9.12" rx="2.05" fill="url(#g154)"/>
<circle cx="62.90" cy="486.85" r="2.00" fill="#1affe5"/>
<rect x="67.12" y="434.23" width="4.10" height="9.14" rx="2.05" fill="url(#g155)"/>
<rect x="67.12" y="530.33" width="4.10" height="9.14" rx="2.05" fill="url(#g156)"/>
<circle cx="69.17" cy="486.85" r="2.00" fill="#02fffd"/>
<rect x="73.38" y="434.21" width="4.10" height="9.16" rx="2.05" fill="url(#g157)"/>
<rect x="73.38" y="530.33" width="4.10" height="9.16" rx="2.05" fill="url(#g158)"/>
<circle cx="75.43" cy="486.85" r="2.00" fill="#00eaff"/>
<rect x="79.65" y="434.20" width="4.10" height="9.18" rx="2.05" fill="url(#g159)"/>
<rect x="79.65" y="530.33" width="4.10" height="9.18" rx="2.05" fill="url(#g160)"/>
<circle cx="81.70" cy="486.85" r="2.00" fill="#00d4ff"/>
<rect x="85.91" y="434.18" width="4.10" height="9.19" rx="2.05" fill="url(#g161)"/>
<rect x="85.91" y="530.33" width="4.10" height="9.19" rx="2.05" fill="url(#g162)"/>
<circle cx="87.96" cy="486.85" r="2.00" fill="#00beff"/>
<rect x="92.18" y="434.16" width="4.10" height="9.21" rx="2.05" fill="url(#g163)"/>
<rect x="92.18" y="530.33" width="4.10" height="9.21" rx="2.05" fill="url(#g164)"/>
<circle cx="94.23" cy="486.85" r="2.00" fill="#00a8ff"/>
<rect x="98.45" y="434.15" width="4.10" height="9.23" rx="2.05" fill="url(#g165)"/>
<rect x="98.45" y="530.33" width="4.10" height="9.23" rx="2.05" fill="url(#g166)"/>
<circle cx="100.50" cy="486.85" r="2.00" fill="#0093ff"/>
<rect x="104.71" y="434.13" width="4.10" height="9.24" rx="2.05" fill="url(#g167)"/>
<rect x="104.71" y="530.33" width="4.10" height="9.24" rx="2.05" fill="url(#g168)"/>
<circle cx="106.76" cy="486.85" r="2.00" fill="#007fff"/>
<rect x="110.98" y="434.11" width="4.10" height="9.26" rx="2.05" fill="url(#g169)"/>
<rect x="110.98" y="530.33" width="4.10" height="9.26" rx="2.05" fill="url(#g170)"/>
<circle cx="113.03" cy="486.85" r="2.00" fill="#006bff"/>
<rect x="117.24" y="434.09" width="4.10" height="9.28" rx="2.05" fill="url(#g171)"/>
<rect x="117.24" y="530.33" width="4.10" height="9.28" rx="2.05" fill="url(#g172)"/>
<circle cx="119.29" cy="486.85" r="2.00" fill="#0058ff"/>
<rect x="123.51" y="434.08" width="4.10" height="9.30" rx="2.05" fill="url(#g173)"/>
<rect x="123.51" y="530.33" width="4.10" height="9.30" rx="2.05" fill="url(#g174)"/>
<circle cx="125.56" cy="486.85" r="2.00" fill="#0046ff"/>
<rect x="129.78" y="434.06" width="4.10" height="9.31" rx="2.05" fill="url(#g175)"/>
<rect x="129.78" y="530.33" width="4.10" height="9.31" rx="2.05" fill="url(#g176)"/>
<circle cx="131.83" cy="486.85" r="2.00" fill="#0034ff"/>
<rect x="136.04" y="434.04" width="4.10" height="9.33" rx="2.05" fill="url(#g177)"/>
<rect x="136.04" y="530.33" width="4.10" height="9.33" rx="2.05" fill="url(#g178)"/>
<circle cx="138.09" cy="486.85" r="2.00" fill="#0023ff"/>
<rect x="142.31" y="434.03" width="4.10" height="9.35" rx="2.05" fill="url(#g179)"/>
<rect x="142.31" y="530.33" width="4.10" height="9.35" rx="2.05" fill="url(#g180)"/>
<circle cx="144.36" cy="486.85" r="2.00" fill="#0014ff"/>
<rect x="148.57" y="434.01" width="4.10" height="9.37" rx="2.05" fill="url(#g181)"/>
<rect x="148.57" y="530.33" width="4.10" height="9.37" rx="2.05" fill="url(#g182)"/>
<circle cx="150.62" cy="486.85" r="2.00" fill="#0005ff"/>
<rect x="154.84" y="433.99" width="4.10" height="9.38" rx="2.05" fill="url(#g183)"/>
<rect x="154.84" y="530.33" width="4.10" height="9.38" rx="2.05" fill="url(#g184)"/>
<circle cx="156.89" cy="486.85" r="2.00" fill="#0000f7"/>
<rect x="161.11" y="433.95" width="4.10" height="9.48" rx="2.05" fill="url(#g185)"/>
<rect x="161.11" y="530.27" width="4.10" height="9.48" rx="2.05" fill="url(#g186)"/>
<circle cx="163.16" cy="486.85" r="2.00" fill="#0000ec"/>
<rect x="167.37" y="433.87" width="4.10" height="9.72" rx="2.05" fill="url(#g187)"/>
<rect x="167.37" y="530.11" width="4.10" height="9.72" rx="2.05" fill="url(#g188)"/>
<circle cx="169.42" cy="486.85" r="2.00" fill="#0000e6"/>
<rect x="173.64" y="433.79" width="4.10" height="9.96" rx="2.05" fill="url(#g189)"/>
<rect x="173.64" y="529.95" width="4.10" height="9.96" rx="2.05" fill="url(#g190)"/>
<circle cx="175.69" cy="486.85" r="2.00" fill="#0000e6"/>
<rect x="179.90" y="433.71" width="4.10" height="10.20" rx="2.05" fill="url(#g191)"/>
<rect x="179.90" y="529.79" width="4.10" height="10.20" rx="2.05" fill="url(#g192)"/>
<circle cx="181.95" cy="486.85" r="2.00" fill="#0000e6"/>
<rect x="186.17" y="433.18" width="4.10" height="11.27" rx="2.05" fill="url(#g193)"/>
<rect x="186.17" y="529.25" width="4.10" height="11.27" rx="2.05" fill="url(#g194)"/>
<circle cx="188.22" cy="486.85" r="2.00" fill="#0000e6"/>
<rect x="192.44" y="430.49" width="4.10" height="13.96" rx="2.05" fill="url(#g195)"/>
<rect x="192.44" y="529.25" width="4.10" height="13.96" rx="2.05" fill="url(#g196)"/>
<circle cx="194.49" cy="486.85" r="2.00" fill="#0000e6"/>
<rect x="198.70" y="427.81" width="4.10" height="17.71" rx="2.05" fill="url(#g197)"/>
<rect x="198.70" y="528.18" width="4.10" height="17.71" rx="2.05" fill="url(#g198)"/>
<circle cx="200.75" cy="486.85" r="2.00" fill="#0000e6"/>
<rect x="204.97" y="425.12" width="4.10" height="22.01" rx="2.05" fill="url(#g199)"/>
<rect x="204.97" y="526.57" width="4.10" height="22.01" rx="2.05" fill="url(#g200)"/>
<circle cx="207.02" cy="486.85" r="2.00" fill="#0000e6"/>
<rect x="211.23" y="420.83" width="4.10" height="27.37" rx="2.05" fill="url(#g201)"/>
<rect x="211.23" y="525.50" width="4.10" height="27.37" rx="2.05" fill="url(#g202)"/>
<circle cx="213.28" cy="486.85" r="2.00" fill="#0000e6"/>
<rect x="217.50" y="419.22" width="4.10" height="30.06" rx="2.05" fill="#a80000"/>
<rect x="217.50" y="524.42" width="4.10" height="30.06" rx="2.05" fill="#a80000"/>
<circle cx="219.55" cy="486.85" r="2.00" fill="#0000e6"/>
<rect x="223.77" y="420.83" width="4.10" height="27.37" rx="2.05" fill="url(#g203)"/>
<rect x="223.77" y="525.50" width="4.10" height="27.37" rx="2.05" fill="url(#g204)"/>
<circle cx="225.82" cy="486.85" r="2.00" fill="#0000e6"/>
<rect x="230.03" y="425.12" width="4.10" height="22.01" rx="2.05" fill="url(#g205)"/>
<rect x="230.03" y="526.57" width="4.10" height="22.01" rx="2.05" fill="url(#g206)"/>
<circle cx="232.08" cy="486.85" r="2.00" fill="#0000e6"/>
<rect x="236.30" y="427.81" width="4.10" height="17.71" rx="2.05" fill="url(#g207)"/>
<rect x="236.30" y="528.18" width="4.10" height="17.71" rx="2.05" fill="url(#g208)"/>
<circle cx="238.35" cy="486.85" r="2.00" fill="#0000e6"/>
<rect x="242.56" y="430.49" width="4.10" height="13.96" rx="2.05" fill="url(#g209)"/>
<rect x="242.56" y="529.25" width="4.10" height="13.96" rx="2.05" fill="url(#g210)"/>
<circle cx="244.61" cy="486.85" r="2.00" fill="#0000e6"/>
<rect x="248.83" y="433.18" width="4.10" height="11.27" rx="2.05" fill="url(#g211)"/>
<rect x="248.83" y="529.25" width="4.10" height="11.27" rx="2.05" fill="url(#g212)"/>
<circle cx="250.88" cy="486.85" r="2.00" fill="#0000e6"/>
<rect x="255.10" y="433.71" width="4.10" height="10.20" rx="2.05" fill="url(#g213)"/>
<rect x="255.10" y="529.79" width="4.10" height="10.20" rx="2.05" fill="url(#g214)"/>
<circle cx="257.15" cy="486.85" r="2.00" fill="#0000e6"/>
<rect x="261.36" y="433.79" width="4.10" height="9.96" rx="2.05" fill="url(#g215)"/>
<rect x="261.36" y="529.95" width="4.10" height="9.96" rx="2.05" fill="url(#g216)"/>
<circle cx="263.41" cy="486.85" r="2.00" fill="#0000e6"/>
<rect x="267.63" y="433.87" width="4.10" height="9.72" rx="2.05" fill="url(#g217)"/>
<rect x="267.63" y="530.11" width="4.10" height="9.72" rx="2.05" fill="url(#g218)"/>
<circle cx="269.68" cy="486.85" r="2.00" fill="#0000e6"/>
<rect x="273.89" y="433.95" width="4.10" height="9.48" rx="2.05" fill="url(#g219)"/>
<rect x="273.89" y="530.27" width="4.10" height="9.48" rx="2.05" fill="url(#g220)"/>
<circle cx="275.94" cy="486.85" r="2.00" fill="#0000ec"/>
<rect x="280.16" y="433.99" width="4.10" height="9.38" rx="2.05" fill="url(#g221)"/>
<rect x="280.16" y="530.33" width="4.10" height="9.38" rx="2.05" fill="url(#g222)"/>
<circle cx="282.21" cy="486.85" r="2.00" fill="#0000f7"/>
<rect x="286.43" y="434.01" width="4.10" height="9.37" rx="2.05" fill="url(#g223)"/>
<rect x="286.43" y="530.33" width="4.10" height="9.37" rx="2.05" fill="url(#g224)"/>
<circle cx="288.48" cy="486.85" r="2.00" fill="#0005ff"/>
<rect x="292.69" y="434.03" width="4.10" height="9.35" rx="2.05" fill="url(#g225)"/>
<rect x="292.69" y="530.33" width="4.10" height="9.35" rx="2.05" fill="url(#g226)"/>
<circle cx="294.74" cy="486.85" r="2.00" fill="#0014ff"/>
<rect x="298.96" y="434.04" width="4.10" height="9.33" rx="2.05" fill="url(#g227)"/>
<rect x="298.96" y="530.33" width="4.10" height="9.33" rx="2.05" fill="url(#g228)"/>
<circle cx="301.01" cy="486.85" r="2.00" fill="#0023ff"/>
<rect x="305.22" y="434.06" width="4.10" height="9.31" rx="2.05" fill="url(#g229)"/>
<rect x="305.22" y="530.33" width="4.10" height="9.31" rx="2.05" fill="url(#g230)"/>
<circle cx="307.27" cy="486.85" r="2.00" fill="#0034ff"/>
<rect x="311.49" y="434.08" width="4.10" height="9.30" rx="2.05" fill="url(#g231)"/>
<rect x="311.49" y="530.33" width="4.10" height="9.30" rx="2.05" fill="url(#g232)"/>
<circle cx="313.54" cy="486.85" r="2.00" fill="#0046ff"/>
<rect x="317.76" y="434.09" width="4.10" height="9.28" rx="2.05" fill="url(#g233)"/>
<rect x="317.76" y="530.33" width="4.10" height="9.28" rx="2.05" fill="url(#g234)"/>
<circle cx="319.81" cy="486.85" r="2.00" fill="#0058ff"/>
<rect x="324.02" y="434.11" width="4.10" height="9.26" rx="2.05" fill="url(#g235)"/>
<rect x="324.02" y="530.33" width="4.10" height="9.26" rx="2.05" fill="url(#g236)"/>
<circle cx="326.07" cy="486.85" r="2.00" fill="#006bff"/>
<rect x="330.29" y="434.13" width="4.10" height="9.24" rx="2.05" fill="url(#g237)"/>
<rect x="330.29" y="530.33" width="4.10" height="9.24" rx="2.05" fill="url(#g238)"/>
<circle cx="332.34" cy="486.85" r="2.00" fill="#007fff"/>
<rect x="336.55" y="434.15" width="4.10" height="9.23" rx="2.05" fill="url(#g239)"/>
<rect x="336.55" y="530.33" width="4.10" height="9.23" rx="2.05" fill="url(#g240)"/>
<circle cx="338.60" cy="486.85" r="2.00" fill="#0093ff"/>
<rect x="342.82" y="434.16" width="4.10" height="9.21" rx="2.05" fill="url(#g241)"/>
<rect x="342.82" y="530.33" width="4.10" height="9.21" rx="2.05" fill="url(#g242)"/>
<circle cx="344.87" cy="486.85" r="2.00" fill="#00a8ff"/>
<rect x="349.09" y="434.18" width="4.10" height="9.19" rx="2.05" fill="url(#g243)"/>
<rect x="349.09" y="530.33" width="4.10" height="9.19" rx="2.05" fill="url(#g244)"/>
<circle cx="351.14" cy="486.85" r="2.00" fill="#00beff"/>
<rect x="355.35" y="434.20" width="4.10" height="9.18" rx="2.05" fill="url(#g245)"/>
<rect x="355.35" y="530.33" width="4.10" height="9.18" rx="2.05" fill="url(#g246)"/>
<circle cx="357.40" cy="486.85" r="2.00" fill="#00d4ff"/>
<rect x="361.62" y="434.21" width="4.10" height="9.16" rx="2.05" fill="url(#g247)"/>
<rect x="361.62" y="530.33" width="4.10" height="9.16" rx="2.05" fill="url(#g248)"/>
<circle cx="363.67" cy="486.85" r="2.00" fill="#00eaff"/>
<rect x="367.88" y="434.23" width="4.10" height="9.14" rx="2.05" fill="url(#g249)"/>
<rect x="367.88" y="530.33" width="4.10" height="9.14" rx="2.05" fill="url(#g250)"/>
<circle cx="369.93" cy="486.85" r="2.00" fill="#02fffd"/>
<rect x="374.15" y="434.25" width="4.10" height="9.12" rx="2.05" fill="url(#g251)"/>
<rect x="374.15" y="530.33" width="4.10" height="9.12" rx="2.05" fill="url(#g252)"/>
<circle cx="376.20" cy="486.85" r="2.00" fill="#1affe5"/>
<path d="M486.5 380.4V594.5H754.7" fill="none" stroke="#6e6e6e" stroke-width="1"/>
<path d="M487.0 594.3V591.3" stroke="#6e6e6e" stroke-width="1"/>
<path d="M553.9 594.3V591.3" stroke="#6e6e6e" stroke-width="1"/>
<path d="M620.9 594.3V591.3" stroke="#6e6e6e" stroke-width="1"/>
<path d="M687.8 594.3V591.3" stroke="#6e6e6e" stroke-width="1"/>
<path d="M754.7 594.3V591.3" stroke="#6e6e6e" stroke-width="1"/>
<path d="M487.0 594.3H490.0" stroke="#6e6e6e" stroke-width="1"/>
<path d="M487.0 540.8H490.0" stroke="#6e6e6e" stroke-width="1"/>
<path d="M487.0 487.4H490.0" stroke="#6e6e6e" stroke-width="1"/>
<path d="M487.0 433.9H490.0" stroke="#6e6e6e" stroke-width="1"/>
<path d="M487.0 380.4H490.0" stroke="#6e6e6e" stroke-width="1"/>
<rect x="485.00" y="378.43" width="4.00" height="217.84" rx="2.00" fill="url(#g253)"/>
<circle cx="487.00" cy="380.43" r="2.00" fill="#ff0f00"/>
<circle cx="487.00" cy="594.27" r="2.00" fill="#ff0f00"/>
<rect x="490.35" y="382.71" width="4.00" height="209.29" rx="2.00" fill="url(#g254)"/>
<circle cx="492.35" cy="384.71" r="2.00" fill="#ff0f00"/>
<circle cx="492.35" cy="589.99" r="2.00" fill="#ff0f00"/>
<rect x="495.71" y="386.98" width="4.00" height="200.73" rx="2.00" fill="url(#g255)"/>
<circle cx="497.71" cy="388.98" r="2.00" fill="#ff0f00"/>
<circle cx="497.71" cy="585.72" r="2.00" fill="#ff0f00"/>
<rect x="501.06" y="391.26" width="4.00" height="192.18" rx="2.00" fill="url(#g256)"/>
<circle cx="503.06" cy="393.26" r="2.00" fill="#ff0f00"/>
<circle cx="503.06" cy="581.44" r="2.00" fill="#ff0f00"/>
<rect x="506.42" y="395.54" width="4.00" height="183.63" rx="2.00" fill="url(#g257)"/>
<circle cx="508.42" cy="397.54" r="2.00" fill="#ff0f00"/>
<circle cx="508.42" cy="577.16" r="2.00" fill="#ff0f00"/>
<rect x="511.77" y="399.81" width="4.00" height="175.07" rx="2.00" fill="url(#g258)"/>
<circle cx="513.77" cy="401.81" r="2.00" fill="#ff0f00"/>
<circle cx="513.77" cy="572.89" r="2.00" fill="#ff0f00"/>
<rect x="517.12" y="404.09" width="4.00" height="166.52" rx="2.00" fill="url(#g259)"/>
<circle cx="519.12" cy="406.09" r="2.00" fill="#ff0f00"/>
<circle cx="519.12" cy="568.61" r="2.00" fill="#ff0f00"/>
<rect x="522.48" y="408.37" width="4.00" height="157.96" rx="2.00" fill="url(#g260)"/>
<circle cx="524.48" cy="410.37" r="2.00" fill="#ff0f00"/>
<circle cx="524.48" cy="564.33" r="2.00" fill="#ff0f00"/>
<rect x="527.83" y="412.64" width="4.00" height="149.41" rx="2.00" fill="url(#g261)"/>
<circle cx="529.83" cy="414.64" r="2.00" fill="#ff0f00"/>
<circle cx="529.83" cy="560.06" r="2.00" fill="#ff0f00"/>
<rect x="533.19" y="416.92" width="4.00" height="140.86" rx="2.00" fill="url(#g262)"/>
<circle cx="535.19" cy="418.92" r="2.00" fill="#ff0f00"/>
<circle cx="535.19" cy="555.78" r="2.00" fill="#ff0f00"/>
<rect x="538.54" y="421.20" width="4.00" height="132.30" rx="2.00" fill="url(#g263)"/>
<circle cx="540.54" cy="423.20" r="2.00" fill="#ff0f00"/>
<circle cx="540.54" cy="551.50" r="2.00" fill="#ff0f00"/>
<rect x="543.89" y="425.47" width="4.00" height="123.75" rx="2.00" fill="url(#g264)"/>
<circle cx="545.89" cy="427.47" r="2.00" fill="#ff0f00"/>
<circle cx="545.89" cy="547.23" r="2.00" fill="#ff0f00"/>
<rect x="549.25" y="429.75" width="4.00" height="115.20" rx="2.00" fill="url(#g265)"/>
<circle cx="551.25" cy="431.75" r="2.00" fill="#ff0f00"/>
<circle cx="551.25" cy="542.95" r="2.00" fill="#ff0f00"/>
<rect x="554.60" y="434.03" width="4.00" height="106.64" rx="2.00" fill="url(#g266)"/>
<circle cx="556.60" cy="436.03" r="2.00" fill="#ff0f00"/>
<circle cx="556.60" cy="538.67" r="2.00" fill="#ff0f00"/>
<rect x="559.96" y="438.31" width="4.00" height="98.09" rx="2.00" fill="url(#g267)"/>
<circle cx="561.96" cy="440.31" r="2.00" fill="#ff0f00"/>
<circle cx="561.96" cy="534.39" r="2.00" fill="#ff0f00"/>
<rect x="565.31" y="442.58" width="4.00" height="89.54" rx="2.00" fill="url(#g268)"/>
<circle cx="567.31" cy="444.58" r="2.00" fill="#ff0f00"/>
<circle cx="567.31" cy="530.12" r="2.00" fill="#ff0f00"/>
<rect x="570.66" y="446.86" width="4.00" height="80.98" rx="2.00" fill="url(#g269)"/>
<circle cx="572.66" cy="448.86" r="2.00" fill="#ff1700"/>
<circle cx="572.66" cy="525.84" r="2.00" fill="#ff1700"/>
<rect x="576.02" y="451.14" width="4.00" height="72.43" rx="2.00" fill="url(#g270)"/>
<circle cx="578.02" cy="453.14" r="2.00" fill="#ff2a00"/>
<circle cx="578.02" cy="521.56" r="2.00" fill="#ff2a00"/>
<rect x="581.37" y="455.41" width="4.00" height="63.88" rx="2.00" fill="url(#g271)"/>
<circle cx="583.37" cy="457.41" r="2.00" fill="#ff3e00"/>
<circle cx="583.37" cy="517.29" r="2.00" fill="#ff3e00"/>
<rect x="586.73" y="459.69" width="4.00" height="55.32" rx="2.00" fill="url(#g272)"/>
<circle cx="588.73" cy="461.69" r="2.00" fill="#ff5500"/>
<circle cx="588.73" cy="513.01" r="2.00" fill="#ff5500"/>
<rect x="592.08" y="463.97" width="4.00" height="46.77" rx="2.00" fill="url(#g273)"/>
<circle cx="594.08" cy="465.97" r="2.00" fill="#ff7500"/>
<circle cx="594.08" cy="508.73" r="2.00" fill="#ff7500"/>
<rect x="597.43" y="468.24" width="4.00" height="38.21" rx="2.00" fill="url(#g274)"/>
<circle cx="599.43" cy="470.24" r="2.00" fill="#ff9600"/>
<circle cx="599.43" cy="504.46" r="2.00" fill="#ff9600"/>
<rect x="602.79" y="472.52" width="4.00" height="29.66" rx="2.00" fill="url(#g275)"/>
<circle cx="604.79" cy="474.52" r="2.00" fill="#ffb700"/>
<circle cx="604.79" cy="500.18" r="2.00" fill="#ffb700"/>
<rect x="608.14" y="476.80" width="4.00" height="21.11" rx="2.00" fill="url(#g276)"/>
<circle cx="610.14" cy="478.80" r="2.00" fill="#ffd700"/>
<circle cx="610.14" cy="495.90" r="2.00" fill="#ffd700"/>
<rect x="613.50" y="481.07" width="4.00" height="12.55" rx="2.00" fill="url(#g277)"/>
<circle cx="615.50" cy="483.07" r="2.00" fill="#fff800"/>
<circle cx="615.50" cy="491.63" r="2.00" fill="#fff800"/>
<circle cx="620.85" cy="487.35" r="2.00" fill="#9e0000"/>
<rect x="624.20" y="481.07" width="4.00" height="12.55" rx="2.00" fill="url(#g278)"/>
<circle cx="626.20" cy="483.07" r="2.00" fill="#fff800"/>
<circle cx="626.20" cy="491.63" r="2.00" fill="#fff800"/>
<rect x="629.56" y="476.80" width="4.00" height="21.11" rx="2.00" fill="url(#g279)"/>
<circle cx="631.56" cy="478.80" r="2.00" fill="#ffd700"/>
<circle cx="631.56" cy="495.90" r="2.00" fill="#ffd700"/>
<rect x="634.91" y="472.52" width="4.00" height="29.66" rx="2.00" fill="url(#g280)"/>
<circle cx="636.91" cy="474.52" r="2.00" fill="#ffb700"/>
<circle cx="636.91" cy="500.18" r="2.00" fill="#ffb700"/>
<rect x="640.27" y="468.24" width="4.00" height="38.21" rx="2.00" fill="url(#g281)"/>
<circle cx="642.27" cy="470.24" r="2.00" fill="#ff9600"/>
<circle cx="642.27" cy="504.46" r="2.00" fill="#ff9600"/>
<rect x="645.62" y="463.97" width="4.00" height="46.77" rx="2.00" fill="url(#g282)"/>
<circle cx="647.62" cy="465.97" r="2.00" fill="#ff7500"/>
<circle cx="647.62" cy="508.73" r="2.00" fill="#ff7500"/>
<rect x="650.97" y="459.69" width="4.00" height="55.32" rx="2.00" fill="url(#g283)"/>
<circle cx="652.97" cy="461.69" r="2.00" fill="#ff5500"/>
<circle cx="652.97" cy="513.01" r="2.00" fill="#ff5500"/>
<rect x="656.33" y="455.41" width="4.00" height="63.88" rx="2.00" fill="url(#g284)"/>
<circle cx="658.33" cy="457.41" r="2.00" fill="#ff3e00"/>
<circle cx="658.33" cy="517.29" r="2.00" fill="#ff3e00"/>
<rect x="661.68" y="451.14" width="4.00" height="72.43" rx="2.00" fill="url(#g285)"/>
<circle cx="663.68" cy="453.14" r="2.00" fill="#ff2a00"/>
<circle cx="663.68" cy="521.56" r="2.00" fill="#ff2a00"/>
<rect x="667.04" y="446.86" width="4.00" height="80.98" rx="2.00" fill="url(#g286)"/>
<circle cx="669.04" cy="448.86" r="2.00" fill="#ff1700"/>
<circle cx="669.04" cy="525.84" r="2.00" fill="#ff1700"/>
<rect x="672.39" y="442.58" width="4.00" height="89.54" rx="2.00" fill="url(#g287)"/>
<circle cx="674.39" cy="444.58" r="2.00" fill="#ff0f00"/>
<circle cx="674.39" cy="530.12" r="2.00" fill="#ff0f00"/>
<rect x="677.74" y="438.31" width="4.00" height="98.09" rx="2.00" fill="url(#g288)"/>
<circle cx="679.74" cy="440.31" r="2.00" fill="#ff0f00"/>
<circle cx="679.74" cy="534.39" r="2.00" fill="#ff0f00"/>
<rect x="683.10" y="434.03" width="4.00" height="106.64" rx="2.00" fill="url(#g289)"/>
<circle cx="685.10" cy="436.03" r="2.00" fill="#ff0f00"/>
<circle cx="685.10" cy="538.67" r="2.00" fill="#ff0f00"/>
<rect x="688.45" y="429.75" width="4.00" height="115.20" rx="2.00" fill="url(#g290)"/>
<circle cx="690.45" cy="431.75" r="2.00" fill="#ff0f00"/>
<circle cx="690.45" cy="542.95" r="2.00" fill="#ff0f00"/>
<rect x="693.81" y="425.47" width="4.00" height="123.75" rx="2.00" fill="url(#g291)"/>
<circle cx="695.81" cy="427.47" r="2.00" fill="#ff0f00"/>
<circle cx="695.81" cy="547.23" r="2.00" fill="#ff0f00"/>
<rect x="699.16" y="421.20" width="4.00" height="132.30" rx="2.00" fill="url(#g292)"/>
<circle cx="701.16" cy="423.20" r="2.00" fill="#ff0f00"/>
<circle cx="701.16" cy="551.50" r="2.00" fill="#ff0f00"/>
<rect x="704.51" y="416.92" width="4.00" height="140.86" rx="2.00" fill="url(#g293)"/>
<circle cx="706.51" cy="418.92" r="2.00" fill="#ff0f00"/>
<circle cx="706.51" cy="555.78" r="2.00" fill="#ff0f00"/>
<rect x="709.87" y="412.64" width="4.00" height="149.41" rx="2.00" fill="url(#g294)"/>
<circle cx="711.87" cy="414.64" r="2.00" fill="#ff0f00"/>
<circle cx="711.87" cy="560.06" r="2.00" fill="#ff0f00"/>
<rect x="715.22" y="408.37" width="4.00" height="157.96" rx="2.00" fill="url(#g295)"/>
<circle cx="717.22" cy="410.37" r="2.00" fill="#ff0f00"/>
<circle cx="717.22" cy="564.33" r="2.00" fill="#ff0f00"/>
<rect x="720.58" y="404.09" width="4.00" height="166.52" rx="2.00" fill="url(#g296)"/>
<circle cx="722.58" cy="406.09" r="2.00" fill="#ff0f00"/>
<circle cx="722.58" cy="568.61" r="2.00" fill="#ff0f00"/>
<rect x="725.93" y="399.81" width="4.00" height="175.07" rx="2.00" fill="url(#g297)"/>
<circle cx="727.93" cy="401.81" r="2.00" fill="#ff0f00"/>
<circle cx="727.93" cy="572.89" r="2.00" fill="#ff0f00"/>
<rect x="731.28" y="395.54" width="4.00" height="183.63" rx="2.00" fill="url(#g298)"/>
<circle cx="733.28" cy="397.54" r="2.00" fill="#ff0f00"/>
<circle cx="733.28" cy="577.16" r="2.00" fill="#ff0f00"/>
<rect x="736.64" y="391.26" width="4.00" height="192.18" rx="2.00" fill="url(#g299)"/>
<circle cx="738.64" cy="393.26" r="2.00" fill="#ff0f00"/>
<circle cx="738.64" cy="581.44" r="2.00" fill="#ff0f00"/>
<rect x="741.99" y="386.98" width="4.00" height="200.73" rx="2.00" fill="url(#g300)"/>
<circle cx="743.99" cy="388.98" r="2.00" fill="#ff0f00"/>
<circle cx="743.99" cy="585.72" r="2.00" fill="#ff0f00"/>
<rect x="747.35" y="382.71" width="4.00" height="209.29" rx="2.00" fill="url(#g301)"/>
<circle cx="749.35" cy="384.71" r="2.00" fill="#ff0f00"/>
<circle cx="749.35" cy="589.99" r="2.00" fill="#ff0f00"/>
<rect x="752.70" y="378.43" width="4.00" height="217.84" rx="2.00" fill="url(#g302)"/>
<circle cx="754.70" cy="380.43" r="2.00" fill="#ff0f00"/>
<circle cx="754.70" cy="594.27" r="2.00" fill="#ff0f00"/>
<rect x="66.70" y="697.50" width="309.10" height="264.40" fill="#000080"/>
<g id="eq"><rect x="66.70" y="697.50" width="77.78" height="3.00" fill="url(#h303)"/><rect x="66.70" y="699.50" width="77.78" height="3.00" fill="url(#h304)"/><rect x="66.70" y="701.50" width="77.78" height="3.00" fill="url(#h305)"/><rect x="66.70" y="703.50" width="77.78" height="3.00" fill="url(#h306)"/><rect x="66.70" y="705.50" width="77.78" height="3.00" fill="url(#h307)"/><rect x="66.70" y="707.50" width="77.78" height="3.00" fill="url(#h308)"/><rect x="66.70" y="709.50" width="77.78" height="3.00" fill="url(#h309)"/><rect x="66.70" y="711.50" width="77.78" height="3.00" fill="url(#h310)"/><rect x="66.70" y="713.50" width="77.78" height="3.00" fill="url(#h311)"/><rect x="66.70" y="715.50" width="77.78" height="3.00" fill="url(#h312)"/><rect x="66.70" y="717.50" width="77.78" height="3.00" fill="url(#h313)"/><rect x="66.70" y="719.50" width="77.78" height="3.00" fill="url(#h314)"/><rect x="66.70" y="721.50" width="77.78" height="3.00" fill="url(#h315)"/><rect x="66.70" y="723.50" width="77.78" height="3.00" fill="url(#h316)"/><rect x="66.70" y="725.50" width="77.78" height="3.00" fill="url(#h317)"/><rect x="66.70" y="727.50" width="77.78" height="3.00" fill="url(#h318)"/><rect x="66.70" y="729.50" width="77.78" height="3.00" fill="url(#h319)"/><rect x="66.70" y="731.50" width="77.78" height="3.00" fill="url(#h320)"/><rect x="66.70" y="733.50" width="77.78" height="3.00" fill="url(#h321)"/><rect x="66.70" y="735.50" width="77.78" height="3.00" fill="url(#h322)"/><rect x="66.70" y="737.50" width="77.78" height="3.00" fill="url(#h323)"/><rect x="66.70" y="739.50" width="77.78" height="3.00" fill="url(#h324)"/><rect x="66.70" y="741.50" width="77.78" height="3.00" fill="url(#h325)"/><rect x="66.70" y="743.50" width="77.78" height="3.00" fill="url(#h326)"/><rect x="66.70" y="745.50" width="77.78" height="3.00" fill="url(#h327)"/><rect x="66.70" y="747.50" width="77.78" height="3.00" fill="url(#h328)"/><rect x="66.70" y="749.50" width="77.78" height="3.00" fill="url(#h329)"/><rect x="66.70" y="751.50" width="77.78" height="3.00" fill="url(#h330)"/><rect x="66.70" y="753.50" width="77.78" height="3.00" fill="url(#h331)"/><rect x="66.70" y="755.50" width="77.78" height="3.00" fill="url(#h332)"/><rect x="66.70" y="757.50" width="77.78" height="3.00" fill="url(#h333)"/><rect x="66.70" y="759.50" width="77.78" height="3.00" fill="url(#h334)"/><rect x="66.70" y="761.50" width="77.78" height="3.00" fill="url(#h335)"/><rect x="66.70" y="763.50" width="77.78" height="3.00" fill="url(#h336)"/><rect x="66.70" y="765.50" width="77.78" height="3.00" fill="url(#h337)"/><rect x="66.70" y="767.50" width="77.78" height="3.00" fill="url(#h338)"/><rect x="66.70" y="769.50" width="77.78" height="3.00" fill="url(#h339)"/><rect x="66.70" y="771.50" width="77.78" height="3.00" fill="url(#h340)"/><rect x="66.70" y="773.50" width="77.78" height="3.00" fill="url(#h341)"/><rect x="66.70" y="775.50" width="77.78" height="3.00" fill="url(#h342)"/><rect x="66.70" y="777.50" width="77.78" height="3.00" fill="url(#h343)"/><rect x="66.70" y="779.50" width="77.78" height="3.00" fill="url(#h344)"/><rect x="66.70" y="781.50" width="77.78" height="3.00" fill="url(#h345)"/><rect x="66.70" y="783.50" width="77.78" height="3.00" fill="url(#h346)"/><rect x="66.70" y="785.50" width="77.78" height="3.00" fill="url(#h347)"/><rect x="66.70" y="787.50" width="77.78" height="3.00" fill="url(#h348)"/><rect x="66.70" y="789.50" width="77.78" height="3.00" fill="url(#h349)"/><rect x="66.70" y="791.50" width="77.78" height="3.00" fill="url(#h350)"/><rect x="66.70" y="793.50" width="77.78" height="3.00" fill="url(#h351)"/><rect x="66.70" y="795.50" width="77.78" height="3.00" fill="url(#h352)"/><rect x="66.70" y="797.50" width="77.78" height="3.00" fill="url(#h353)"/><rect x="66.70" y="799.50" width="77.78" height="3.00" fill="url(#h354)"/><rect x="66.70" y="801.50" width="77.78" height="3.00" fill="url(#h355)"/><rect x="66.70" y="803.50" width="77.78" height="3.00" fill="url(#h356)"/><rect x="66.70" y="805.50" width="77.78" height="3.00" fill="url(#h357)"/><rect x="66.70" y="807.50" width="77.78" height="3.00" fill="url(#h358)"/><rect x="66.70" y="809.50" width="77.78" height="3.00" fill="url(#h359)"/><rect x="66.70" y="811.50" width="77.78" height="3.00" fill="url(#h360)"/><rect x="66.70" y="813.50" width="77.78" height="3.00" fill="url(#h361)"/><rect x="66.70" y="815.50" width="77.78" height="3.00" fill="url(#h362)"/><rect x="66.70" y="817.50" width="77.78" height="3.00" fill="url(#h363)"/><rect x="66.70" y="819.50" width="77.78" height="3.00" fill="url(#h364)"/><rect x="66.70" y="821.50" width="77.78" height="3.00" fill="url(#h365)"/><rect x="66.70" y="823.50" width="77.78" height="3.00" fill="url(#h366)"/><rect x="66.70" y="825.50" width="77.78" height="3.00" fill="url(#h367)"/><rect x="66.70" y="827.50" width="77.78" height="2.40" fill="url(#h368)"/><rect x="66.70" y="829.50" width="77.78" height="0.40" fill="url(#h369)"/></g>
<use href="#eq" transform="translate(442.50 0) scale(-1 1)"/>
<use href="#eq" transform="translate(0 1659.40) scale(1 -1)"/>
<use href="#eq" transform="translate(442.50 1659.40) scale(-1 -1)"/>
<path d="M143.38 697.50V961.90" stroke="#fff" stroke-width="2" stroke-dasharray="8 8"/>
<path d="M297.93 697.50V961.90" stroke="#fff" stroke-width="2" stroke-dasharray="8 8"/>
<rect x="491.30" y="697.40" width="260.90" height="265.00" fill="url(#h370)"/>
<rect x="603.81" y="814.99" width="35.87" height="29.81" fill="#ff4c00" filter="url(#bl)" opacity="0.85"/>
<path d="M556.52 697.40V962.40" stroke="#fff" stroke-width="2" stroke-dasharray="8 8"/>
<path d="M686.98 697.40V962.40" stroke="#fff" stroke-width="2" stroke-dasharray="8 8"/>
<rect x="767.90" y="11.70" width="16.40" height="265.30" fill="url(#g371)" stroke="#333" stroke-width="0.6"/>
<text x="791.1" y="286.8" font-size="25" text-anchor="start" >0</text>
<path d="M784.30 223.94H781.80" stroke="#333" stroke-width="1"/>
<text x="791.1" y="233.7" font-size="25" text-anchor="start" >0.2</text>
<path d="M784.30 170.88H781.80" stroke="#333" stroke-width="1"/>
<text x="791.1" y="180.7" font-size="25" text-anchor="start" >0.4</text>
<path d="M784.30 117.82H781.80" stroke="#333" stroke-width="1"/>
<text x="791.1" y="127.6" font-size="25" text-anchor="start" >0.6</text>
<path d="M784.30 64.76H781.80" stroke="#333" stroke-width="1"/>
<text x="791.1" y="74.6" font-size="25" text-anchor="start" >0.8</text>
<text x="791.1" y="21.5" font-size="25" text-anchor="start" >1</text>
<rect x="770.00" y="379.70" width="16.00" height="214.60" fill="url(#g371)" stroke="#333" stroke-width="0.6"/>
<text x="791.4" y="604.1" font-size="25" text-anchor="start" >0</text>
<path d="M786.00 487.00H783.50" stroke="#333" stroke-width="1"/>
<text x="791.4" y="496.8" font-size="25" text-anchor="start" >0.5</text>
<text x="791.4" y="389.5" font-size="25" text-anchor="start" >1</text>
<rect x="767.90" y="697.30" width="16.40" height="265.10" fill="url(#g371)" stroke="#333" stroke-width="0.6"/>
<text x="791.1" y="972.2" font-size="25" text-anchor="start" >0</text>
<path d="M784.30 896.12H781.80" stroke="#333" stroke-width="1"/>
<text x="791.1" y="905.9" font-size="25" text-anchor="start" >0.5</text>
<path d="M784.30 829.85H781.80" stroke="#333" stroke-width="1"/>
<text x="791.1" y="839.6" font-size="25" text-anchor="start" >1</text>
<path d="M784.30 763.57H781.80" stroke="#333" stroke-width="1"/>
<text x="791.1" y="773.4" font-size="25" text-anchor="start" >1.5</text>
<text x="791.1" y="707.1" font-size="25" text-anchor="start" >2</text>
<text x="66.5" y="308.6" font-size="25" text-anchor="middle" >-4</text>
<text x="143.7" y="308.6" font-size="25" text-anchor="middle" >-2</text>
<text x="220.9" y="308.6" font-size="25" text-anchor="middle" >0</text>
<text x="298.2" y="308.6" font-size="25" text-anchor="middle" >2</text>
<text x="375.4" y="308.6" font-size="25" text-anchor="middle" >4</text>
<text x="490.9" y="308.6" font-size="25" text-anchor="middle" >-4</text>
<text x="556.2" y="308.6" font-size="25" text-anchor="middle" >-2</text>
<text x="621.5" y="308.6" font-size="25" text-anchor="middle" >0</text>
<text x="686.7" y="308.6" font-size="25" text-anchor="middle" >2</text>
<text x="752.0" y="308.6" font-size="25" text-anchor="middle" >4</text>
<text x="62.9" y="625.4" font-size="25" text-anchor="middle" >-4</text>
<text x="141.2" y="625.4" font-size="25" text-anchor="middle" >-2</text>
<text x="219.6" y="625.4" font-size="25" text-anchor="middle" >0</text>
<text x="297.9" y="625.4" font-size="25" text-anchor="middle" >2</text>
<text x="376.2" y="625.4" font-size="25" text-anchor="middle" >4</text>
<text x="487.0" y="625.4" font-size="25" text-anchor="middle" >-4</text>
<text x="553.9" y="625.4" font-size="25" text-anchor="middle" >-2</text>
<text x="620.9" y="625.4" font-size="25" text-anchor="middle" >0</text>
<text x="687.8" y="625.4" font-size="25" text-anchor="middle" >2</text>
<text x="754.7" y="625.4" font-size="25" text-anchor="middle" >4</text>
<text x="66.7" y="995.0" font-size="25" text-anchor="middle" >-4</text>
<text x="144.0" y="995.0" font-size="25" text-anchor="middle" >-2</text>
<text x="221.2" y="995.0" font-size="25" text-anchor="middle" >0</text>
<text x="298.5" y="995.0" font-size="25" text-anchor="middle" >2</text>
<text x="375.8" y="995.0" font-size="25" text-anchor="middle" >4</text>
<text x="491.3" y="995.0" font-size="25" text-anchor="middle" >-4</text>
<text x="556.5" y="995.0" font-size="25" text-anchor="middle" >-2</text>
<text x="621.8" y="995.0" font-size="25" text-anchor="middle" >0</text>
<text x="687.0" y="995.0" font-size="25" text-anchor="middle" >2</text>
<text x="752.2" y="995.0" font-size="25" text-anchor="middle" >4</text>
<text x="57.3" y="286.6" font-size="25" text-anchor="end" >-3</text>
<text x="57.3" y="154.1" font-size="25" text-anchor="end" >0</text>
<text x="57.3" y="21.6" font-size="25" text-anchor="end" >3</text>
<text x="481.7" y="242.8" font-size="25" text-anchor="end" >-1</text>
<text x="481.7" y="154.6" font-size="25" text-anchor="end" >0</text>
<text x="481.7" y="66.4" font-size="25" text-anchor="end" >1</text>
<text x="54.7" y="604.4" font-size="25" text-anchor="end" >-2</text>
<text x="54.7" y="550.7" font-size="25" text-anchor="end" >-1</text>
<text x="54.7" y="497.1" font-size="25" text-anchor="end" >0</text>
<text x="54.7" y="443.4" font-size="25" text-anchor="end" >1</text>
<text x="54.7" y="389.7" font-size="25" text-anchor="end" >2</text>
<text x="479.8" y="604.5" font-size="25" text-anchor="end" >-4</text>
<text x="479.8" y="551.0" font-size="25" text-anchor="end" >-2</text>
<text x="479.8" y="497.6" font-size="25" text-anchor="end" >0</text>
<text x="479.8" y="444.1" font-size="25" text-anchor="end" >2</text>
<text x="479.8" y="390.6" font-size="25" text-anchor="end" >4</text>
<text x="57.5" y="972.1" font-size="25" text-anchor="end" >-4</text>
<text x="57.5" y="906.0" font-size="25" text-anchor="end" >-2</text>
<text x="57.5" y="839.9" font-size="25" text-anchor="end" >0</text>
<text x="57.5" y="773.8" font-size="25" text-anchor="end" >2</text>
<text x="57.5" y="707.7" font-size="25" text-anchor="end" >4</text>
<text x="482.1" y="972.6" font-size="25" text-anchor="end" >-4</text>
<text x="482.1" y="906.4" font-size="25" text-anchor="end" >-2</text>
<text x="482.1" y="840.1" font-size="25" text-anchor="end" >0</text>
<text x="482.1" y="773.9" font-size="25" text-anchor="end" >2</text>
<text x="482.1" y="707.6" font-size="25" text-anchor="end" >4</text>
<text x="221.0" y="342.0" font-size="29" text-anchor="middle" font-style="italic">μ</text>
<text x="621.5" y="342.0" font-size="29" text-anchor="middle" font-style="italic">μ</text>
<text x="219.5" y="657.0" font-size="29" text-anchor="middle" font-style="italic">η</text>
<text x="621.0" y="657.0" font-size="29" text-anchor="middle" font-style="italic">η</text>
<text x="221.5" y="1028.0" font-size="29" text-anchor="middle" font-style="italic">μ</text>
<text x="622.0" y="1028.0" font-size="29" text-anchor="middle" font-style="italic">μ</text>
<text transform="translate(24.0 146.0) rotate(-90)" font-size="28" text-anchor="middle">Re(E)</text>
<text transform="translate(447.1 146.0) rotate(-90)" font-size="28" text-anchor="middle">Im(E)</text>
<text transform="translate(23.0 488.5) rotate(-90)" font-size="28" text-anchor="middle">Re(E)</text>
<text transform="translate(446.9 488.5) rotate(-90)" font-size="28" text-anchor="middle">Im(E)</text>
<text transform="translate(24.0 830.5) rotate(-90)" font-size="29" text-anchor="middle" font-style="italic">η</text>
<text transform="translate(448.5 830.0) rotate(-90)" font-size="29" text-anchor="middle" font-style="italic">η</text>
<text x="220.5" y="32.6" font-size="31" text-anchor="middle" >(a)</text>
<text x="621.5" y="32.6" font-size="31" text-anchor="middle" >(b)</text>
<text x="220.0" y="401.0" font-size="30.5" text-anchor="middle" >(c)</text>
<text x="621.0" y="401.0" font-size="30.5" text-anchor="middle" >(d)</text>
<text x="221.5" y="718.8" font-size="30.5" text-anchor="middle" fill="#fff">(e)</text>
<text x="619.8" y="718.8" font-size="30.5" text-anchor="middle" fill="#fff">(f)</text></svg>
</body></html>
